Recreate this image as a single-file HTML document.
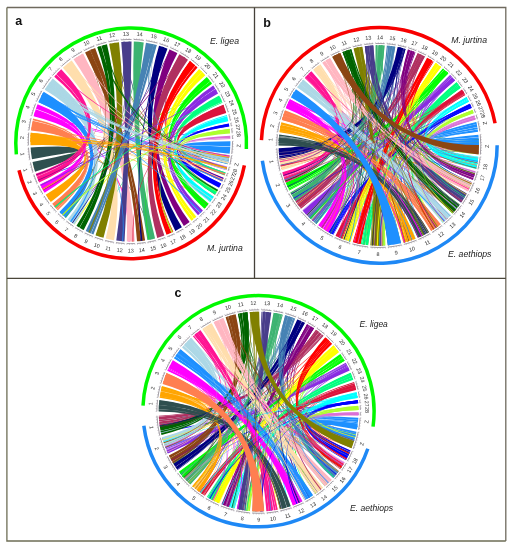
<!DOCTYPE html>
<html><head><meta charset="utf-8"><style>
html,body{margin:0;padding:0;background:#fff;}
body{width:511px;height:550px;overflow:hidden;position:relative;}
svg{position:absolute;left:0;top:0;}
.lab text{font-family:"Liberation Sans",Arial,sans-serif;font-size:5.4px;fill:#2a2a2a;text-anchor:middle;}
</style></head><body>
<svg width="511" height="550" viewBox="0 0 511 550">
<rect x="0" y="0" width="511" height="550" fill="#fff"/>
<g class="lab"><g><path d="M112.67 43.13A100 100 0 0 1 113.87 42.93Q130.4 141.55 226.71 168.48A100 100 0 0 1 226.37 169.65Q130.4 141.55 112.67 43.13Z" fill="#808000" fill-opacity="0.92"/><path d="M190.07 61.31A100 100 0 0 1 190.78 61.83Q130.4 141.55 215.5 194.07A100 100 0 0 1 215.03 194.81Q130.4 141.55 190.07 61.31Z" fill="#FF0000" fill-opacity="0.92"/><path d="M42.09 94.63A100 100 0 0 1 42.56 93.75Q130.4 141.55 221.17 183.52A100 100 0 0 1 220.74 184.42Q130.4 141.55 42.09 94.63Z" fill="#1E90FF" fill-opacity="0.92"/><path d="M30.4 141.88A100 100 0 0 1 30.4 140.56Q130.4 141.55 223.26 178.66A100 100 0 0 1 222.76 179.89Q130.4 141.55 30.4 141.88Z" fill="#FFA500" fill-opacity="0.92"/><path d="M34.43 113.46A100 100 0 0 1 34.88 111.96Q130.4 141.55 229.22 156.88A100 100 0 0 1 228.97 158.42Q130.4 141.55 34.43 113.46Z" fill="#FF00FF" fill-opacity="0.92"/><path d="M203.75 73.58A100 100 0 0 1 204.33 74.22Q130.4 141.55 229.41 155.61A100 100 0 0 1 229.28 156.47Q130.4 141.55 203.75 73.58Z" fill="#FFFF00" fill-opacity="0.92"/><path d="M75.77 57.79A100 100 0 0 1 76.83 57.11Q130.4 141.55 208.03 204.58A100 100 0 0 1 207.24 205.55Q130.4 141.55 75.77 57.79Z" fill="#FFB6C1" fill-opacity="0.92"/><path d="M215.65 89.27A100 100 0 0 1 216.45 90.61Q130.4 141.55 221 183.88A100 100 0 0 1 220.33 185.29Q130.4 141.55 215.65 89.27Z" fill="#8A2BE2" fill-opacity="0.92"/><path d="M123.85 41.77A100 100 0 0 1 125.17 41.69Q130.4 141.55 225.25 173.22A100 100 0 0 1 224.82 174.48Q130.4 141.55 123.85 41.77Z" fill="#483D8B" fill-opacity="0.92"/><path d="M33.8 115.71A100 100 0 0 1 34.09 114.65Q130.4 141.55 228.8 159.39A100 100 0 0 1 228.59 160.47Q130.4 141.55 33.8 115.71Z" fill="#FF00FF" fill-opacity="0.92"/><path d="M30.42 139.39A100 100 0 0 1 30.47 137.68Q130.4 141.55 133.58 241.5A100 100 0 0 1 131.87 241.54Q130.4 141.55 30.42 139.39Z" fill="#FFA500" fill-opacity="0.92"/><path d="M33.99 115A100 100 0 0 1 34.43 113.44Q130.4 141.55 129.93 241.55A100 100 0 0 1 128.32 241.53Q130.4 141.55 33.99 115Z" fill="#FF00FF" fill-opacity="0.92"/><path d="M77.83 56.48A100 100 0 0 1 78.95 55.8Q130.4 141.55 211.08 200.63A100 100 0 0 1 210.3 201.68Q130.4 141.55 77.83 56.48Z" fill="#FFB6C1" fill-opacity="0.92"/><path d="M30.42 139.69A100 100 0 0 1 30.45 138.49Q130.4 141.55 228.32 161.85A100 100 0 0 1 228.07 163.01Q130.4 141.55 30.42 139.69Z" fill="#FFA500" fill-opacity="0.92"/><path d="M30.53 136.43A100 100 0 0 1 30.61 135Q130.4 141.55 33.99 168.09A100 100 0 0 1 33.62 166.71Q130.4 141.55 30.53 136.43Z" fill="#FFA500" fill-opacity="0.92"/><path d="M30.45 138.4A100 100 0 0 1 30.48 137.48Q130.4 141.55 208.05 204.57A100 100 0 0 1 207.46 205.28Q130.4 141.55 30.45 138.4Z" fill="#FFA500" fill-opacity="0.92"/><path d="M42.41 94.03A100 100 0 0 1 42.89 93.15Q130.4 141.55 228.06 163.05A100 100 0 0 1 227.84 164.02Q130.4 141.55 42.41 94.03Z" fill="#1E90FF" fill-opacity="0.92"/><path d="M123.04 41.82A100 100 0 0 1 124.4 41.73Q130.4 141.55 48.87 199.46A100 100 0 0 1 48.09 198.34Q130.4 141.55 123.04 41.82Z" fill="#483D8B" fill-opacity="0.92"/><path d="M174.42 51.76A100 100 0 0 1 175.28 52.19Q130.4 141.55 207.68 205.01A100 100 0 0 1 207.07 205.75Q130.4 141.55 174.42 51.76Z" fill="#800080" fill-opacity="0.92"/><path d="M190.01 61.26A100 100 0 0 1 190.97 61.98Q130.4 141.55 217.95 189.86A100 100 0 0 1 217.36 190.92Q130.4 141.55 190.01 61.26Z" fill="#FF0000" fill-opacity="0.92"/><path d="M85.91 51.99A100 100 0 0 1 86.56 51.67Q130.4 141.55 38.48 180.93A100 100 0 0 1 38.2 180.27Q130.4 141.55 85.91 51.99Z" fill="#8B4513" fill-opacity="0.92"/><path d="M113.35 43.01A100 100 0 0 1 113.9 42.92Q130.4 141.55 220.7 184.51A100 100 0 0 1 220.46 185.02Q130.4 141.55 113.35 43.01Z" fill="#808000" fill-opacity="0.92"/><path d="M211.08 82.47A100 100 0 0 1 211.62 83.21Q130.4 141.55 42.27 188.81A100 100 0 0 1 41.85 188.01Q130.4 141.55 211.08 82.47Z" fill="#00FF00" fill-opacity="0.92"/><path d="M184.36 57.36A100 100 0 0 1 185.36 58.01Q130.4 141.55 220.28 185.39A100 100 0 0 1 219.74 186.47Q130.4 141.55 184.36 57.36Z" fill="#B03060" fill-opacity="0.92"/><path d="M103.17 45.33A100 100 0 0 1 104.46 44.97Q130.4 141.55 60.95 213.5A100 100 0 0 1 59.99 212.56Q130.4 141.55 103.17 45.33Z" fill="#006400" fill-opacity="0.92"/><path d="M180.14 54.8A100 100 0 0 1 180.95 55.27Q130.4 141.55 70.09 221.31A100 100 0 0 1 69.34 220.75Q130.4 141.55 180.14 54.8Z" fill="#B03060" fill-opacity="0.92"/><path d="M90.05 50.05A100 100 0 0 1 91.19 49.56Q130.4 141.55 83.15 229.68A100 100 0 0 1 82.06 229.09Q130.4 141.55 90.05 50.05Z" fill="#8B4513" fill-opacity="0.92"/><path d="M201.32 71.05A100 100 0 0 1 202.18 71.92Q130.4 141.55 74.49 224.46A100 100 0 0 1 73.48 223.77Q130.4 141.55 201.32 71.05Z" fill="#FFFF00" fill-opacity="0.92"/><path d="M193.51 63.98A100 100 0 0 1 194.56 64.84Q130.4 141.55 205.93 207.09A100 100 0 0 1 205.03 208.11Q130.4 141.55 193.51 63.98Z" fill="#FF0000" fill-opacity="0.92"/><path d="M221.21 99.68A100 100 0 0 1 221.62 100.57Q130.4 141.55 96.69 235.7A100 100 0 0 1 95.77 235.36Q130.4 141.55 221.21 99.68Z" fill="#00FF7F" fill-opacity="0.9"/><path d="M210.54 81.73A100 100 0 0 1 210.84 82.14Q130.4 141.55 33.1 164.65A100 100 0 0 1 32.99 164.16Q130.4 141.55 210.54 81.73Z" fill="#00FF00" fill-opacity="0.9"/><path d="M208.25 78.79A100 100 0 0 1 208.57 79.18Q130.4 141.55 152.6 239.05A100 100 0 0 1 152.11 239.17Q130.4 141.55 208.25 78.79Z" fill="#00FF00" fill-opacity="0.9"/><path d="M155.61 44.78A100 100 0 0 1 156.08 44.9Q130.4 141.55 222.35 180.87A100 100 0 0 1 222.15 181.32Q130.4 141.55 155.61 44.78Z" fill="#4682B4" fill-opacity="0.9"/><path d="M169.69 49.59A100 100 0 0 1 170.37 49.89Q130.4 141.55 41.77 187.86A100 100 0 0 1 41.43 187.2Q130.4 141.55 169.69 49.59Z" fill="#800080" fill-opacity="0.9"/><path d="M109.9 43.67A100 100 0 0 1 110.74 43.5Q130.4 141.55 213.3 197.48A100 100 0 0 1 212.81 198.19Q130.4 141.55 109.9 43.67Z" fill="#808000" fill-opacity="0.9"/><path d="M30.74 133.3A100 100 0 0 1 30.78 132.82Q130.4 141.55 213.78 196.76A100 100 0 0 1 213.51 197.16Q130.4 141.55 30.74 133.3Z" fill="#FFA500" fill-opacity="0.9"/><path d="M32.24 122.44A100 100 0 0 1 32.35 121.89Q130.4 141.55 226.56 169A100 100 0 0 1 226.4 169.54Q130.4 141.55 32.24 122.44Z" fill="#FF7F50" fill-opacity="0.9"/><path d="M229.11 125.53A100 100 0 0 1 229.22 126.21Q130.4 141.55 38.16 180.18A100 100 0 0 1 37.9 179.55Q130.4 141.55 229.11 125.53Z" fill="#0000FF" fill-opacity="0.9"/><path d="M165.85 48.04A100 100 0 0 1 166.29 48.21Q130.4 141.55 211.16 200.53A100 100 0 0 1 210.87 200.91Q130.4 141.55 165.85 48.04Z" fill="#000080" fill-opacity="0.9"/><path d="M30.91 151.63A100 100 0 0 1 30.84 150.91Q130.4 141.55 151.14 239.38A100 100 0 0 1 150.44 239.52Q130.4 141.55 30.91 151.63Z" fill="#2F4F4F" fill-opacity="0.9"/><path d="M30.61 135.13A100 100 0 0 1 30.65 134.54Q130.4 141.55 216.54 192.34A100 100 0 0 1 216.24 192.85Q130.4 141.55 30.61 135.13Z" fill="#FFA500" fill-opacity="0.9"/><path d="M128.69 41.56A100 100 0 0 1 129.72 41.55Q130.4 141.55 78.98 227.31A100 100 0 0 1 78.1 226.78Q130.4 141.55 128.69 41.56Z" fill="#483D8B" fill-opacity="0.9"/><path d="M31.98 159.26A100 100 0 0 1 30.58 147.48Q130.4 141.55 35.03 171.63A100 100 0 0 1 32.51 162Q130.4 141.55 31.98 159.26Z" fill="#2F4F4F"/><path d="M30.47 145.21A100 100 0 0 1 30.79 132.75Q130.4 141.55 50.8 202.08A100 100 0 0 1 45.72 194.74Q130.4 141.55 30.47 145.21Z" fill="#FFA500"/><path d="M31.01 130.49A100 100 0 0 1 32.61 120.63Q130.4 141.55 56.77 209.21A100 100 0 0 1 52.19 203.87Q130.4 141.55 31.01 130.49Z" fill="#FF7F50"/><path d="M32.69 120.27A100 100 0 0 1 33.1 118.46Q130.4 141.55 57.84 210.36A100 100 0 0 1 56.94 209.4Q130.4 141.55 32.69 120.27Z" fill="#FF7F50"/><path d="M33.65 116.26A100 100 0 0 1 35.77 109.21Q130.4 141.55 42.62 189.45A100 100 0 0 1 40.14 184.59Q130.4 141.55 33.65 116.26Z" fill="#FF00FF"/><path d="M35.89 108.86A100 100 0 0 1 37.58 104.33Q130.4 141.55 44.54 192.81A100 100 0 0 1 42.75 189.7Q130.4 141.55 35.89 108.86Z" fill="#FF00FF"/><path d="M38.45 102.24A100 100 0 0 1 43.67 91.78Q130.4 141.55 65.98 218.03A100 100 0 0 1 59.42 211.99Q130.4 141.55 38.45 102.24Z" fill="#1E90FF"/><path d="M44.82 89.82A100 100 0 0 1 52.8 78.48Q130.4 141.55 74.59 224.53A100 100 0 0 1 67.73 219.47Q130.4 141.55 44.82 89.82Z" fill="#ADD8E6"/><path d="M54.25 76.74A100 100 0 0 1 56.22 74.49Q130.4 141.55 36.66 176.38A100 100 0 0 1 35.74 173.79Q130.4 141.55 54.25 76.74Z" fill="#FF1493"/><path d="M56.42 74.27A100 100 0 0 1 61.25 69.31Q130.4 141.55 39.18 182.53A100 100 0 0 1 36.76 176.64Q130.4 141.55 56.42 74.27Z" fill="#FF1493"/><path d="M62.91 67.76A100 100 0 0 1 71.69 60.6Q130.4 141.55 114.04 240.2A100 100 0 0 1 105.7 238.45Q130.4 141.55 62.91 67.76Z" fill="#FFDEAD"/><path d="M73.54 59.29A100 100 0 0 1 83.07 53.46Q130.4 141.55 134.76 241.45A100 100 0 0 1 126.8 241.49Q130.4 141.55 73.54 59.29Z" fill="#FFB6C1"/><path d="M85.08 52.41A100 100 0 0 1 90.22 49.98Q130.4 141.55 141.22 240.96A100 100 0 0 1 137.03 241.33Q130.4 141.55 85.08 52.41Z" fill="#8B4513"/><path d="M90.53 49.84A100 100 0 0 1 95.13 47.97Q130.4 141.55 145.11 240.46A100 100 0 0 1 141.46 240.94Q130.4 141.55 90.53 49.84Z" fill="#8B4513"/><path d="M97.27 47.2A100 100 0 0 1 101.14 45.93Q130.4 141.55 79.36 227.54A100 100 0 0 1 76.49 225.77Q130.4 141.55 97.27 47.2Z" fill="#006400"/><path d="M101.43 45.84A100 100 0 0 1 106.97 44.33Q130.4 141.55 83.71 229.98A100 100 0 0 1 79.57 227.67Q130.4 141.55 101.43 45.84Z" fill="#006400"/><path d="M109.18 43.83A100 100 0 0 1 118.99 42.2Q130.4 141.55 103.51 237.87A100 100 0 0 1 95.56 235.28Q130.4 141.55 109.18 43.83Z" fill="#808000"/><path d="M121.25 41.97A100 100 0 0 1 131.53 41.56Q130.4 141.55 124.53 241.38A100 100 0 0 1 116.29 240.55Q130.4 141.55 121.25 41.97Z" fill="#483D8B"/><path d="M133.8 41.61A100 100 0 0 1 143.71 42.44Q130.4 141.55 155.06 238.46A100 100 0 0 1 147.35 240.1Q130.4 141.55 133.8 41.61Z" fill="#3CB371"/><path d="M145.96 42.77A100 100 0 0 1 153.39 44.23Q130.4 141.55 90.93 233.43A100 100 0 0 1 85.73 231.02Q130.4 141.55 145.96 42.77Z" fill="#4682B4"/><path d="M153.71 44.31A100 100 0 0 1 156.87 45.12Q130.4 141.55 93.44 234.47A100 100 0 0 1 91.16 233.53Q130.4 141.55 153.71 44.31Z" fill="#4682B4"/><path d="M159.05 45.74A100 100 0 0 1 167.46 48.67Q130.4 141.55 181.91 227.26A100 100 0 0 1 175.35 230.88Q130.4 141.55 159.05 45.74Z" fill="#000080"/><path d="M169.55 49.53A100 100 0 0 1 177.35 53.26Q130.4 141.55 189.63 222.12A100 100 0 0 1 183.84 226.07Q130.4 141.55 169.55 49.53Z" fill="#800080"/><path d="M179.34 54.34A100 100 0 0 1 187.97 59.79Q130.4 141.55 164.38 235.6A100 100 0 0 1 157.25 237.88Q130.4 141.55 179.34 54.34Z" fill="#B03060"/><path d="M189.81 61.11A100 100 0 0 1 195.33 65.5Q130.4 141.55 171.36 232.78A100 100 0 0 1 166.51 234.8Q130.4 141.55 189.81 61.11Z" fill="#FF0000"/><path d="M195.56 65.69A100 100 0 0 1 197.51 67.41Q130.4 141.55 173.31 231.87A100 100 0 0 1 171.56 232.69Q130.4 141.55 195.56 65.69Z" fill="#FF0000"/><path d="M199.17 68.95A100 100 0 0 1 202.11 71.85Q130.4 141.55 193.76 218.92A100 100 0 0 1 191.44 220.76Q130.4 141.55 199.17 68.95Z" fill="#FFFF00"/><path d="M202.29 72.04A100 100 0 0 1 205.35 75.35Q130.4 141.55 196.37 216.71A100 100 0 0 1 193.9 218.8Q130.4 141.55 202.29 72.04Z" fill="#FFFF00"/><path d="M206.84 77.07A100 100 0 0 1 210.26 81.37Q130.4 141.55 207.31 205.47A100 100 0 0 1 204.43 208.78Q130.4 141.55 206.84 77.07Z" fill="#00FF00"/><path d="M210.41 81.57A100 100 0 0 1 211.96 83.69Q130.4 141.55 208.76 203.68A100 100 0 0 1 207.44 205.31Q130.4 141.55 210.41 81.57Z" fill="#00FF00"/><path d="M213.25 85.56A100 100 0 0 1 215.27 88.67Q130.4 141.55 200.03 213.33A100 100 0 0 1 198.05 215.19Q130.4 141.55 213.25 85.56Z" fill="#8A2BE2"/><path d="M215.42 88.91A100 100 0 0 1 218.07 93.45Q130.4 141.55 202.88 210.44A100 100 0 0 1 200.17 213.18Q130.4 141.55 215.42 88.91Z" fill="#8A2BE2"/><path d="M219.14 95.45A100 100 0 0 1 222.1 101.66Q130.4 141.55 217.56 190.57A100 100 0 0 1 215.02 194.84Q130.4 141.55 219.14 95.45Z" fill="#00FF7F"/><path d="M222.19 101.88A100 100 0 0 1 222.55 102.72Q130.4 141.55 217.97 189.84A100 100 0 0 1 217.65 190.41Q130.4 141.55 222.19 101.88Z" fill="#00FF7F"/><path d="M223.41 104.82A100 100 0 0 1 226.21 112.9Q130.4 141.55 223.66 177.65A100 100 0 0 1 222.12 181.4Q130.4 141.55 223.41 104.82Z" fill="#DC143C"/><path d="M226.83 115.08A100 100 0 0 1 227.1 116.07Q130.4 141.55 210.76 201.06A100 100 0 0 1 210.15 201.89Q130.4 141.55 226.83 115.08Z" fill="#00FFFF"/><path d="M227.15 116.25A100 100 0 0 1 228.3 121.19Q130.4 141.55 213.78 196.75A100 100 0 0 1 210.87 200.91Q130.4 141.55 227.15 116.25Z" fill="#00FFFF"/><path d="M228.74 123.41A100 100 0 0 1 229.28 126.6Q130.4 141.55 221.19 183.47A100 100 0 0 1 219.04 187.84Q130.4 141.55 228.74 123.41Z" fill="#0000FF"/><path d="M229.59 128.84A100 100 0 0 1 229.73 130.03Q130.4 141.55 224.74 174.72A100 100 0 0 1 224.45 175.52Q130.4 141.55 229.59 128.84Z" fill="#ADFF2F"/><path d="M229.75 130.17A100 100 0 0 1 230.07 133.44Q130.4 141.55 225.51 172.43A100 100 0 0 1 224.77 174.63Q130.4 141.55 229.75 130.17Z" fill="#ADFF2F"/><path d="M230.23 135.71A100 100 0 0 1 230.34 138.05Q130.4 141.55 226.96 167.55A100 100 0 0 1 226.19 170.26Q130.4 141.55 230.23 135.71Z" fill="#DA70D6"/><path d="M230.34 138.15A100 100 0 0 1 230.37 139.02Q130.4 141.55 227.26 166.43A100 100 0 0 1 226.99 167.44Q130.4 141.55 230.34 138.15Z" fill="#DA70D6"/><path d="M230.4 141.29A100 100 0 0 1 230.27 146.55Q130.4 141.55 228.59 160.47A100 100 0 0 1 227.8 164.22Q130.4 141.55 230.4 141.29Z" fill="#1E90FF"/><path d="M230.26 146.93A100 100 0 0 1 229.65 153.74Q130.4 141.55 229.45 155.29A100 100 0 0 1 228.64 160.21Q130.4 141.55 230.26 146.93Z" fill="#1E90FF"/><path d="M184.16 57.23A100 100 0 0 1 184.94 57.73Q130.4 141.55 43.25 190.6A100 100 0 0 1 42.8 189.78Q130.4 141.55 184.16 57.23Z" fill="#B03060" fill-opacity="0.92"/><path d="M38.88 101.24A100 100 0 0 1 39.4 100.09Q130.4 141.55 227.02 167.33A100 100 0 0 1 226.69 168.55Q130.4 141.55 38.88 101.24Z" fill="#1E90FF" fill-opacity="0.92"/><path d="M229.81 130.7A100 100 0 0 1 229.89 131.45Q130.4 141.55 217.07 191.43A100 100 0 0 1 216.69 192.08Q130.4 141.55 229.81 130.7Z" fill="#ADFF2F" fill-opacity="0.92"/><path d="M38.53 102.05A100 100 0 0 1 39.19 100.56Q130.4 141.55 71.36 222.26A100 100 0 0 1 70.05 221.29Q130.4 141.55 38.53 102.05Z" fill="#1E90FF" fill-opacity="0.92"/><path d="M30.4 141.06A100 100 0 0 1 30.42 139.58Q130.4 141.55 226.99 167.43A100 100 0 0 1 226.6 168.85Q130.4 141.55 30.4 141.06Z" fill="#FFA500" fill-opacity="0.92"/><path d="M46.71 86.82A100 100 0 0 1 47.66 85.39Q130.4 141.55 228.56 160.65A100 100 0 0 1 228.22 162.33Q130.4 141.55 46.71 86.82Z" fill="#ADD8E6" fill-opacity="0.92"/><path d="M228.8 123.71A100 100 0 0 1 228.97 124.72Q130.4 141.55 223.51 178.04A100 100 0 0 1 223.13 178.98Q130.4 141.55 228.8 123.71Z" fill="#0000FF" fill-opacity="0.92"/><path d="M152.36 43.99A100 100 0 0 1 153.91 44.35Q130.4 141.55 225.04 173.85A100 100 0 0 1 224.51 175.36Q130.4 141.55 152.36 43.99Z" fill="#4682B4" fill-opacity="0.92"/><path d="M103.26 45.3A100 100 0 0 1 104.55 44.95Q130.4 141.55 217.83 190.08A100 100 0 0 1 217.18 191.24Q130.4 141.55 103.26 45.3Z" fill="#006400" fill-opacity="0.92"/><path d="M41.39 95.97A100 100 0 0 1 41.74 95.29Q130.4 141.55 226.7 168.5A100 100 0 0 1 226.49 169.24Q130.4 141.55 41.39 95.97Z" fill="#1E90FF" fill-opacity="0.92"/><path d="M183.25 56.66A100 100 0 0 1 184.03 57.15Q130.4 141.55 226.94 167.64A100 100 0 0 1 226.69 168.53Q130.4 141.55 183.25 56.66Z" fill="#B03060" fill-opacity="0.92"/><path d="M98.35 46.82A100 100 0 0 1 99.67 46.39Q130.4 141.55 228.85 159.1A100 100 0 0 1 228.6 160.46Q130.4 141.55 98.35 46.82Z" fill="#006400" fill-opacity="0.92"/><path d="M41.29 96.17A100 100 0 0 1 41.92 94.94Q130.4 141.55 222.76 179.89A100 100 0 0 1 222.22 181.17Q130.4 141.55 41.29 96.17Z" fill="#1E90FF" fill-opacity="0.92"/><path d="M114.18 42.87A100 100 0 0 1 115.48 42.67Q130.4 141.55 89.64 232.86A100 100 0 0 1 88.44 232.32Q130.4 141.55 114.18 42.87Z" fill="#808000" fill-opacity="0.92"/><path d="M42.25 94.33A100 100 0 0 1 42.8 93.32Q130.4 141.55 201.41 211.96A100 100 0 0 1 200.59 212.78Q130.4 141.55 42.25 94.33Z" fill="#1E90FF" fill-opacity="0.92"/><path d="M45.03 89.48A100 100 0 0 1 45.78 88.27Q130.4 141.55 228.79 159.4A100 100 0 0 1 228.53 160.8Q130.4 141.55 45.03 89.48Z" fill="#ADD8E6" fill-opacity="0.92"/><path d="M81.03 54.58A100 100 0 0 1 82.1 53.99Q130.4 141.55 229.3 156.37A100 100 0 0 1 229.11 157.58Q130.4 141.55 81.03 54.58Z" fill="#FFB6C1" fill-opacity="0.92"/><path d="M223.51 105.07A100 100 0 0 1 223.83 105.9Q130.4 141.55 133.37 241.51A100 100 0 0 1 132.48 241.53Q130.4 141.55 223.51 105.07Z" fill="#DC143C" fill-opacity="0.92"/><path d="M48.71 83.87A100 100 0 0 1 49.08 83.36Q130.4 141.55 210.71 201.14A100 100 0 0 1 210.33 201.65Q130.4 141.55 48.71 83.87Z" fill="#ADD8E6" fill-opacity="0.92"/><path d="M162.42 46.81A100 100 0 0 1 163.98 47.36Q130.4 141.55 142.35 240.83A100 100 0 0 1 140.71 241.02Q130.4 141.55 162.42 46.81Z" fill="#000080" fill-opacity="0.92"/><path d="M97.64 47.07A100 100 0 0 1 99.05 46.59Q130.4 141.55 228.2 162.4A100 100 0 0 1 227.88 163.85Q130.4 141.55 97.64 47.07Z" fill="#006400" fill-opacity="0.92"/><path d="M39.61 99.64A100 100 0 0 1 40.01 98.77Q130.4 141.55 225.5 172.46A100 100 0 0 1 225.2 173.36Q130.4 141.55 39.61 99.64Z" fill="#1E90FF" fill-opacity="0.92"/><path d="M49.26 83.1A100 100 0 0 1 49.98 82.11Q130.4 141.55 228.14 162.69A100 100 0 0 1 227.87 163.89Q130.4 141.55 49.26 83.1Z" fill="#ADD8E6" fill-opacity="0.92"/><path d="M30.4 141.75A100 100 0 0 1 30.41 140.28Q130.4 141.55 229.4 155.67A100 100 0 0 1 229.18 157.13Q130.4 141.55 30.4 141.75Z" fill="#FFA500" fill-opacity="0.92"/><path d="M30.68 134.08A100 100 0 0 1 30.76 133.1Q130.4 141.55 42.71 189.61A100 100 0 0 1 42.24 188.75Q130.4 141.55 30.68 134.08Z" fill="#FFA500" fill-opacity="0.92"/><path d="M30.49 137.31A100 100 0 0 1 30.57 135.64Q130.4 141.55 229.29 156.4A100 100 0 0 1 229.03 158.05Q130.4 141.55 30.49 137.31Z" fill="#FFA500" fill-opacity="0.92"/><path d="M40.84 97.06A100 100 0 0 1 41.28 96.19Q130.4 141.55 123.16 241.29A100 100 0 0 1 122.19 241.21Q130.4 141.55 40.84 97.06Z" fill="#1E90FF" fill-opacity="0.92"/><path d="M48.51 84.16A100 100 0 0 1 49.12 83.3Q130.4 141.55 212.5 198.64A100 100 0 0 1 211.9 199.5Q130.4 141.55 48.51 84.16Z" fill="#ADD8E6" fill-opacity="0.92"/><path d="M46.89 86.55A100 100 0 0 1 47.4 85.77Q130.4 141.55 228.16 162.61A100 100 0 0 1 227.96 163.52Q130.4 141.55 46.89 86.55Z" fill="#ADD8E6" fill-opacity="0.92"/><path d="M48.76 83.8A100 100 0 0 1 49.28 83.08Q130.4 141.55 226.52 169.12A100 100 0 0 1 226.28 169.97Q130.4 141.55 48.76 83.8Z" fill="#ADD8E6" fill-opacity="0.92"/><path d="M45.35 88.96A100 100 0 0 1 45.78 88.27Q130.4 141.55 229.45 155.31A100 100 0 0 1 229.33 156.12Q130.4 141.55 45.35 88.96Z" fill="#ADD8E6" fill-opacity="0.92"/><path d="M46.45 87.21A100 100 0 0 1 47.38 85.8Q130.4 141.55 229 158.23A100 100 0 0 1 228.71 159.88Q130.4 141.55 46.45 87.21Z" fill="#ADD8E6" fill-opacity="0.92"/><path d="M46.42 87.26A100 100 0 0 1 46.99 86.39Q130.4 141.55 229.37 155.86A100 100 0 0 1 229.22 156.88Q130.4 141.55 46.42 87.26Z" fill="#ADD8E6" fill-opacity="0.92"/><path d="M220.88 98.97A100 100 0 0 1 221.41 100.11Q130.4 141.55 225.47 172.58A100 100 0 0 1 225.07 173.77Q130.4 141.55 220.88 98.97Z" fill="#00FF7F" fill-opacity="0.92"/><path d="M31.22 128.78A100 100 0 0 1 31.44 127.18Q130.4 141.55 225.25 173.22A100 100 0 0 1 224.73 174.75Q130.4 141.55 31.22 128.78Z" fill="#FF7F50" fill-opacity="0.92"/><path d="M69.52 62.21A100 100 0 0 1 70.54 61.44Q130.4 141.55 228.3 161.94A100 100 0 0 1 228.03 163.18Q130.4 141.55 69.52 62.21Z" fill="#FFDEAD" fill-opacity="0.92"/><path d="M30.55 136.02A100 100 0 0 1 30.66 134.35Q130.4 141.55 226.99 167.46A100 100 0 0 1 226.54 169.07Q130.4 141.55 30.55 136.02Z" fill="#FFA500" fill-opacity="0.92"/><path d="M57.73 72.86A100 100 0 0 1 58.62 71.93Q130.4 141.55 229.43 155.42A100 100 0 0 1 229.25 156.69Q130.4 141.55 57.73 72.86Z" fill="#FF1493" fill-opacity="0.92"/><path d="M229.61 128.99A100 100 0 0 1 229.78 130.42Q130.4 141.55 172.83 232.1A100 100 0 0 1 171.52 232.71Q130.4 141.55 229.61 128.99Z" fill="#ADFF2F" fill-opacity="0.92"/><path d="M191.43 62.34A100 100 0 0 1 191.91 62.7Q130.4 141.55 168.67 233.94A100 100 0 0 1 168.12 234.16Q130.4 141.55 191.43 62.34Z" fill="#FF0000" fill-opacity="0.92"/><path d="M216.18 90.16A100 100 0 0 1 216.78 91.17Q130.4 141.55 40.78 185.92A100 100 0 0 1 40.27 184.86Q130.4 141.55 216.18 90.16Z" fill="#8A2BE2" fill-opacity="0.92"/><path d="M31.11 129.61A100 100 0 0 1 31.23 128.7Q130.4 141.55 55.98 208.35A100 100 0 0 1 55.37 207.66Q130.4 141.55 31.11 129.61Z" fill="#FF7F50" fill-opacity="0.92"/><path d="M175.78 52.44A100 100 0 0 1 176.54 52.83Q130.4 141.55 36.24 175.21A100 100 0 0 1 35.95 174.4Q130.4 141.55 175.78 52.44Z" fill="#800080" fill-opacity="0.92"/><path d="M163.13 47.06A100 100 0 0 1 163.87 47.32Q130.4 141.55 72.68 223.21A100 100 0 0 1 72.04 222.76Q130.4 141.55 163.13 47.06Z" fill="#000080" fill-opacity="0.92"/><path d="M139.64 41.98A100 100 0 0 1 140.85 42.1Q130.4 141.55 65.65 217.75A100 100 0 0 1 64.72 216.96Q130.4 141.55 139.64 41.98Z" fill="#3CB371" fill-opacity="0.92"/><path d="M67.39 63.9A100 100 0 0 1 68.08 63.35Q130.4 141.55 223.1 179.05A100 100 0 0 1 222.77 179.86Q130.4 141.55 67.39 63.9Z" fill="#FFDEAD" fill-opacity="0.92"/><path d="M174.72 51.91A100 100 0 0 1 175.46 52.28Q130.4 141.55 38.3 180.51A100 100 0 0 1 37.98 179.74Q130.4 141.55 174.72 51.91Z" fill="#800080" fill-opacity="0.92"/><path d="M91.5 49.43A100 100 0 0 1 92.25 49.11Q130.4 141.55 63.01 215.44A100 100 0 0 1 62.42 214.89Q130.4 141.55 91.5 49.43Z" fill="#8B4513" fill-opacity="0.92"/><path d="M229.62 129.07A100 100 0 0 1 229.78 130.43Q130.4 141.55 63.12 215.54A100 100 0 0 1 62.12 214.61Q130.4 141.55 229.62 129.07Z" fill="#ADFF2F" fill-opacity="0.92"/><path d="M225.6 110.94A100 100 0 0 1 225.85 111.73Q130.4 141.55 54.94 207.16A100 100 0 0 1 54.39 206.53Q130.4 141.55 225.6 110.94Z" fill="#DC143C" fill-opacity="0.92"/><path d="M220.06 97.26A100 100 0 0 1 220.7 98.59Q130.4 141.55 55.42 207.72A100 100 0 0 1 54.45 206.6Q130.4 141.55 220.06 97.26Z" fill="#00FF7F" fill-opacity="0.92"/><path d="M210.63 81.86A100 100 0 0 1 210.97 82.31Q130.4 141.55 149.42 239.72A100 100 0 0 1 148.87 239.83Q130.4 141.55 210.63 81.86Z" fill="#00FF00" fill-opacity="0.9"/><path d="M29.91 159.63A102.1 102.1 0 0 1 28.48 147.61" fill="none" stroke="#7d7680" stroke-width="0.7"/><path d="M28.37 145.29A102.1 102.1 0 0 1 28.7 132.56" fill="none" stroke="#7d7680" stroke-width="0.7"/><path d="M28.93 130.26A102.1 102.1 0 0 1 31.06 117.98" fill="none" stroke="#7d7680" stroke-width="0.7"/><path d="M31.62 115.73A102.1 102.1 0 0 1 35.63 103.55" fill="none" stroke="#7d7680" stroke-width="0.7"/><path d="M36.52 101.41A102.1 102.1 0 0 1 41.85 90.73" fill="none" stroke="#7d7680" stroke-width="0.7"/><path d="M43.02 88.74A102.1 102.1 0 0 1 51.17 77.16" fill="none" stroke="#7d7680" stroke-width="0.7"/><path d="M52.65 75.38A102.1 102.1 0 0 1 59.8 67.8" fill="none" stroke="#7d7680" stroke-width="0.7"/><path d="M61.49 66.21A102.1 102.1 0 0 1 70.46 58.9" fill="none" stroke="#7d7680" stroke-width="0.7"/><path d="M72.35 57.56A102.1 102.1 0 0 1 82.07 51.61" fill="none" stroke="#7d7680" stroke-width="0.7"/><path d="M84.13 50.54A102.1 102.1 0 0 1 94.39 46.01" fill="none" stroke="#7d7680" stroke-width="0.7"/><path d="M96.57 45.22A102.1 102.1 0 0 1 106.48 42.29" fill="none" stroke="#7d7680" stroke-width="0.7"/><path d="M108.74 41.77A102.1 102.1 0 0 1 118.75 40.12" fill="none" stroke="#7d7680" stroke-width="0.7"/><path d="M121.06 39.88A102.1 102.1 0 0 1 131.56 39.46" fill="none" stroke="#7d7680" stroke-width="0.7"/><path d="M133.87 39.51A102.1 102.1 0 0 1 143.99 40.36" fill="none" stroke="#7d7680" stroke-width="0.7"/><path d="M146.28 40.69A102.1 102.1 0 0 1 157.43 43.09" fill="none" stroke="#7d7680" stroke-width="0.7"/><path d="M159.65 43.73A102.1 102.1 0 0 1 168.23 46.72" fill="none" stroke="#7d7680" stroke-width="0.7"/><path d="M170.38 47.6A102.1 102.1 0 0 1 178.33 51.4" fill="none" stroke="#7d7680" stroke-width="0.7"/><path d="M180.37 52.51A102.1 102.1 0 0 1 189.18 58.07" fill="none" stroke="#7d7680" stroke-width="0.7"/><path d="M191.06 59.42A102.1 102.1 0 0 1 198.92 65.85" fill="none" stroke="#7d7680" stroke-width="0.7"/><path d="M200.62 67.43A102.1 102.1 0 0 1 206.93 73.96" fill="none" stroke="#7d7680" stroke-width="0.7"/><path d="M208.44 75.72A102.1 102.1 0 0 1 213.68 82.48" fill="none" stroke="#7d7680" stroke-width="0.7"/><path d="M214.99 84.38A102.1 102.1 0 0 1 219.91 92.44" fill="none" stroke="#7d7680" stroke-width="0.7"/><path d="M221 94.48A102.1 102.1 0 0 1 224.49 101.9" fill="none" stroke="#7d7680" stroke-width="0.7"/><path d="M225.36 104.05A102.1 102.1 0 0 1 228.22 112.3" fill="none" stroke="#7d7680" stroke-width="0.7"/><path d="M228.86 114.52A102.1 102.1 0 0 1 230.36 120.76" fill="none" stroke="#7d7680" stroke-width="0.7"/><path d="M230.81 123.03A102.1 102.1 0 0 1 231.35 126.28" fill="none" stroke="#7d7680" stroke-width="0.7"/><path d="M231.67 128.58A102.1 102.1 0 0 1 232.16 133.27" fill="none" stroke="#7d7680" stroke-width="0.7"/><path d="M232.33 135.58A102.1 102.1 0 0 1 232.47 138.97" fill="none" stroke="#7d7680" stroke-width="0.7"/><path d="M232.5 141.28A102.1 102.1 0 0 1 231.74 153.99" fill="none" stroke="#7d7680" stroke-width="0.7"/><path d="M33.03 172.26A102.1 102.1 0 0 1 30.46 162.43" fill="none" stroke="#7d7680" stroke-width="0.7"/><path d="M37.27 183.39A102.1 102.1 0 0 1 33.75 174.46" fill="none" stroke="#7d7680" stroke-width="0.7"/><path d="M42.73 193.88A102.1 102.1 0 0 1 38.24 185.49" fill="none" stroke="#7d7680" stroke-width="0.7"/><path d="M49.13 203.35A102.1 102.1 0 0 1 43.94 195.86" fill="none" stroke="#7d7680" stroke-width="0.7"/><path d="M56.31 211.8A102.1 102.1 0 0 1 50.55 205.18" fill="none" stroke="#7d7680" stroke-width="0.7"/><path d="M64.62 219.64A102.1 102.1 0 0 1 57.93 213.47" fill="none" stroke="#7d7680" stroke-width="0.7"/><path d="M73.42 226.27A102.1 102.1 0 0 1 66.41 221.11" fill="none" stroke="#7d7680" stroke-width="0.7"/><path d="M82.73 231.84A102.1 102.1 0 0 1 75.36 227.54" fill="none" stroke="#7d7680" stroke-width="0.7"/><path d="M92.66 236.42A102.1 102.1 0 0 1 84.79 232.9" fill="none" stroke="#7d7680" stroke-width="0.7"/><path d="M102.95 239.89A102.1 102.1 0 0 1 94.83 237.25" fill="none" stroke="#7d7680" stroke-width="0.7"/><path d="M113.7 242.28A102.1 102.1 0 0 1 105.19 240.49" fill="none" stroke="#7d7680" stroke-width="0.7"/><path d="M124.41 243.47A102.1 102.1 0 0 1 115.99 242.63" fill="none" stroke="#7d7680" stroke-width="0.7"/><path d="M134.85 243.55A102.1 102.1 0 0 1 126.72 243.58" fill="none" stroke="#7d7680" stroke-width="0.7"/><path d="M145.41 242.54A102.1 102.1 0 0 1 137.17 243.43" fill="none" stroke="#7d7680" stroke-width="0.7"/><path d="M155.58 240.5A102.1 102.1 0 0 1 147.7 242.17" fill="none" stroke="#7d7680" stroke-width="0.7"/><path d="M165.1 237.57A102.1 102.1 0 0 1 157.82 239.9" fill="none" stroke="#7d7680" stroke-width="0.7"/><path d="M174.22 233.77A102.1 102.1 0 0 1 167.27 236.76" fill="none" stroke="#7d7680" stroke-width="0.7"/><path d="M182.99 229.06A102.1 102.1 0 0 1 176.3 232.75" fill="none" stroke="#7d7680" stroke-width="0.7"/><path d="M190.88 223.81A102.1 102.1 0 0 1 184.96 227.85" fill="none" stroke="#7d7680" stroke-width="0.7"/><path d="M197.75 218.28A102.1 102.1 0 0 1 192.73 222.42" fill="none" stroke="#7d7680" stroke-width="0.7"/><path d="M204.4 211.89A102.1 102.1 0 0 1 199.47 216.74" fill="none" stroke="#7d7680" stroke-width="0.7"/><path d="M210.4 204.98A102.1 102.1 0 0 1 205.98 210.19" fill="none" stroke="#7d7680" stroke-width="0.7"/><path d="M215.54 197.91A102.1 102.1 0 0 1 211.82 203.15" fill="none" stroke="#7d7680" stroke-width="0.7"/><path d="M219.81 190.85A102.1 102.1 0 0 1 216.79 195.96" fill="none" stroke="#7d7680" stroke-width="0.7"/><path d="M223.09 184.35A102.1 102.1 0 0 1 220.9 188.81" fill="none" stroke="#7d7680" stroke-width="0.7"/><path d="M225.62 178.4A102.1 102.1 0 0 1 224.04 182.24" fill="none" stroke="#7d7680" stroke-width="0.7"/><path d="M227.51 173.08A102.1 102.1 0 0 1 226.43 176.23" fill="none" stroke="#7d7680" stroke-width="0.7"/><path d="M229.29 166.95A102.1 102.1 0 0 1 228.2 170.87" fill="none" stroke="#7d7680" stroke-width="0.7"/><path d="M231.53 155.58A102.1 102.1 0 0 1 229.84 164.7" fill="none" stroke="#7d7680" stroke-width="0.7"/><path d="M29.91 159.63L28.63 159.86M29.47 156.99L28.19 157.19M29.11 154.35L27.82 154.51M28.8 151.69L27.51 151.82M28.57 149.03L27.28 149.12M28.37 145.29L27.07 145.34M28.31 142.62L27.01 142.63M28.31 139.95L27.01 139.93M28.39 137.27L27.09 137.22M28.54 134.61L27.24 134.52M28.93 130.26L27.63 130.11M29.26 127.61L27.97 127.43M29.66 124.96L28.37 124.75M30.13 122.33L28.85 122.09M30.66 119.71L29.39 119.43M31.62 115.73L30.36 115.4M32.33 113.15L31.08 112.79M33.11 110.59L31.87 110.2M33.95 108.06L32.72 107.63M34.86 105.54L33.64 105.09M36.52 101.41L35.33 100.9M37.6 98.97L36.42 98.42M38.75 96.55L37.58 95.98M39.96 94.17L38.81 93.57M41.23 91.82L40.1 91.18M43.02 88.74L41.91 88.06M44.43 86.47L43.34 85.77M45.91 84.24L44.83 83.51M47.43 82.04L46.38 81.29M49.02 79.89L47.98 79.11M50.66 77.78L49.65 76.97M52.65 75.38L51.66 74.53M54.41 73.36L53.44 72.5M56.22 71.4L55.27 70.51M58.08 69.48L57.16 68.56M61.49 66.21L60.61 65.25M63.48 64.44L62.63 63.45M65.53 62.71L64.7 61.71M67.61 61.04L66.81 60.01M69.74 59.42L68.97 58.38M72.35 57.56L71.61 56.49M74.57 56.07L73.86 54.98M76.83 54.64L76.14 53.53M79.12 53.26L78.47 52.14M81.45 51.95L80.82 50.81M84.13 50.54L83.54 49.38M86.53 49.36L85.97 48.18M88.95 48.24L88.43 47.05M91.41 47.19L90.91 45.99M93.89 46.2L93.43 44.99M96.57 45.22L96.14 43.99M99.1 44.36L98.71 43.13M101.66 43.58L101.29 42.33M104.23 42.86L103.9 41.6M108.74 41.77L108.46 40.5M111.36 41.24L111.11 39.96M113.99 40.78L113.78 39.49M116.63 40.38L116.46 39.09M121.06 39.88L120.94 38.58M123.72 39.67L123.64 38.37M126.39 39.53L126.34 38.23M129.06 39.46L129.05 38.16M133.87 39.51L133.92 38.21M136.54 39.64L136.62 38.34M139.21 39.83L139.32 38.54M141.87 40.1L142.02 38.8M146.28 40.69L146.49 39.41M148.92 41.14L149.15 39.87M151.54 41.66L151.81 40.39M154.15 42.25L154.45 40.99M156.74 42.91L157.07 41.65M159.65 43.73L160.03 42.49M162.2 44.53L162.61 43.29M164.73 45.4L165.17 44.17M167.24 46.33L167.71 45.12M170.38 47.6L170.88 46.41M172.82 48.68L173.36 47.5M175.24 49.82L175.81 48.65M177.62 51.03L178.22 49.87M180.37 52.51L181 51.38M182.68 53.85L183.35 52.73M184.96 55.25L185.65 54.15M187.2 56.71L187.92 55.63M191.06 59.42L191.83 58.38M193.19 61.04L193.99 60.01M195.27 62.71L196.1 61.71M197.32 64.44L198.17 63.45M200.62 67.43L201.51 66.48M202.53 69.29L203.45 68.37M204.4 71.2L205.34 70.31M206.22 73.17L207.18 72.29M208.44 75.72L209.43 74.88M210.14 77.78L211.15 76.97M211.78 79.89L212.82 79.11M213.37 82.04L214.42 81.29M214.99 84.38L216.07 83.65M216.46 86.62L217.56 85.92M217.87 88.89L218.98 88.22M219.22 91.2L220.35 90.55M221 94.48L222.16 93.89M222.21 96.87L223.37 96.3M223.34 99.29L224.53 98.75M224.42 101.74L225.62 101.23M225.36 104.05L226.57 103.57M226.31 106.55L227.53 106.1M227.2 109.07L228.43 108.66M228.01 111.61L229.26 111.23M228.86 114.52L230.11 114.18M229.53 117.11L230.79 116.8M230.14 119.71L231.41 119.43M230.81 123.03L232.08 122.8M231.26 125.67L232.54 125.46M231.67 128.58L232.96 128.41M231.98 131.23L233.27 131.1M232.33 135.58L233.62 135.51M232.45 138.25L233.75 138.21M232.5 141.28L233.8 141.28M232.47 143.96L233.77 143.99M232.37 146.63L233.67 146.69M232.21 149.29L233.5 149.39M231.97 151.96L233.26 152.09M33.03 172.26L31.79 172.65M32.26 169.7L31.01 170.06M31.56 167.13L30.3 167.45M30.92 164.53L29.65 164.82M37.27 183.39L36.08 183.93M36.2 180.94L35.01 181.44M35.21 178.46L33.99 178.93M34.27 175.96L33.05 176.39M42.73 193.88L41.62 194.55M41.39 191.57L40.26 192.21M40.11 189.22L38.96 189.83M38.9 186.84L37.73 187.42M49.13 203.35L48.09 204.13M47.54 201.2L46.48 201.96M46 199.01L44.93 199.74M44.53 196.78L43.43 197.48M56.31 211.8L55.37 212.7M54.5 209.84L53.53 210.71M52.74 207.83L51.75 208.67M51.03 205.77L50.02 206.59M64.62 219.64L63.79 220.63M62.6 217.89L61.74 218.86M60.63 216.09L59.74 217.04M58.7 214.24L57.79 215.16M73.42 226.27L72.69 227.35M71.22 224.75L70.47 225.81M69.06 223.17L68.28 224.21M66.95 221.54L66.14 222.56M82.73 231.84L82.13 232.99M80.39 230.56L79.75 231.7M78.07 229.22L77.41 230.34M75.8 227.82L75.1 228.92M92.66 236.42L92.18 237.63M90.19 235.4L89.68 236.59M87.75 234.32L87.21 235.5M85.34 233.17L84.76 234.33M102.95 239.89L102.6 241.14M100.38 239.14L100 240.38M97.84 238.32L97.42 239.55M95.32 237.43L94.87 238.65M113.7 242.28L113.49 243.56M111.07 241.8L110.82 243.08M108.45 241.26L108.17 242.53M105.85 240.65L105.54 241.92M124.41 243.47L124.33 244.77M121.74 243.28L121.63 244.58M119.08 243.02L118.94 244.31M116.43 242.69L116.25 243.98M134.85 243.55L134.91 244.85M132.18 243.63L132.2 244.93M129.51 243.65L129.5 244.95M126.84 243.59L126.79 244.89M145.41 242.54L145.61 243.83M142.77 242.9L142.92 244.19M140.11 243.19L140.23 244.48M137.44 243.41L137.53 244.7M155.58 240.5L155.9 241.76M152.98 241.12L153.27 242.39M150.36 241.68L150.62 242.95M147.74 242.17L147.96 243.45M165.1 237.57L165.54 238.8M162.57 238.45L162.98 239.68M160.03 239.26L160.4 240.5M174.22 233.77L174.77 234.94M171.79 234.89L172.31 236.07M169.33 235.94L169.82 237.14M182.99 229.06L183.66 230.18M180.68 230.41L181.32 231.54M178.34 231.7L178.95 232.84M190.88 223.81L191.65 224.86M188.7 225.37L189.44 226.43M186.49 226.86L187.2 227.95M197.75 218.28L198.61 219.26M195.72 220.02L196.55 221.02M193.64 221.7L194.45 222.73M204.4 211.89L205.35 212.79M202.54 213.8L203.46 214.72M200.62 215.67L201.52 216.61M210.4 204.98L211.42 205.79M208.72 207.06L209.71 207.89M206.97 209.08L207.95 209.94M215.54 197.91L216.62 198.63M214.03 200.12L215.1 200.86M212.47 202.29L213.51 203.06M219.81 190.85L220.95 191.48M218.49 193.17L219.61 193.83M217.11 195.46L218.21 196.15M223.09 184.35L224.27 184.9M221.94 186.77L223.11 187.34M225.62 178.4L226.83 178.87M224.62 180.88L225.82 181.38M227.51 173.08L228.75 173.48M226.65 175.61L227.88 176.04M229.29 166.95L230.55 167.27M228.59 169.53L229.84 169.88M231.53 155.58L232.82 155.76M231.13 158.23L232.41 158.44M230.66 160.86L231.93 161.1M230.12 163.47L231.39 163.75" stroke="#8a8490" stroke-width="0.4" fill="none"/><text x="22.53" y="155.82" transform="rotate(83.8 22.53 154.02)">1</text><text x="22" y="139.37" transform="rotate(272.5 22 137.57)">2</text><text x="23.86" y="123.58" transform="rotate(280.9 23.86 121.78)">3</text><text x="27.69" y="109.13" transform="rotate(288.8 27.69 107.33)">4</text><text x="33.3" y="95.69" transform="rotate(296.5 33.3 93.89)">5</text><text x="40.98" y="82.64" transform="rotate(304.5 40.98 80.84)">6</text><text x="50.41" y="70.8" transform="rotate(312.5 50.41 69)">7</text><text x="60.8" y="60.86" transform="rotate(320.1 60.8 59.06)">8</text><text x="73.06" y="51.99" transform="rotate(328.1 73.06 50.19)">9</text><text x="86.44" y="44.9" transform="rotate(336.1 86.44 43.1)">10</text><text x="99.22" y="40.18" transform="rotate(343.3 99.22 38.38)">11</text><text x="112.12" y="37.15" transform="rotate(350.3 112.12 35.35)">12</text><text x="126.05" y="35.69" transform="rotate(357.7 126.05 33.89)">13</text><text x="139.67" y="36" transform="rotate(4.9 139.67 34.2)">14</text><text x="153.88" y="38.17" transform="rotate(12.5 153.88 36.37)">15</text><text x="166.26" y="41.7" transform="rotate(19.3 166.26 39.9)">16</text><text x="177.11" y="46.17" transform="rotate(25.5 177.11 44.37)">17</text><text x="188.22" y="52.29" transform="rotate(32.2 188.22 50.49)">18</text><text x="197.94" y="59.19" transform="rotate(38.5 197.94 57.39)">19</text><text x="207.65" y="67.92" transform="rotate(45.4 207.65 66.12)">20</text><text x="215.78" y="77.15" transform="rotate(51.9 215.78 75.35)">21</text><text x="222.21" y="86.28" transform="rotate(57.8 222.21 84.48)">22</text><text x="227.58" y="95.86" transform="rotate(63.6 227.58 94.06)">23</text><text x="231.49" y="104.69" transform="rotate(68.7 231.49 102.89)">24</text><text x="234.54" y="113.65" transform="rotate(73.7 234.54 111.85)">25</text><text x="236.57" y="121.73" transform="rotate(78.1 236.57 119.93)">26</text><text x="237.84" y="129" transform="rotate(82 237.84 127.2)">27</text><text x="238.57" y="135.59" transform="rotate(85.5 238.57 133.79)">28</text><text x="238.84" y="147.7" transform="rotate(-88.1 238.84 145.9)">Z</text><text x="25.47" y="171.68" transform="rotate(75.27 25.47 169.88)">1</text><text x="29.52" y="184.04" transform="rotate(68.4 29.52 182.24)">2</text><text x="34.68" y="195.19" transform="rotate(61.91 34.68 193.39)">3</text><text x="41.4" y="206.16" transform="rotate(55.11 41.4 204.36)">4</text><text x="48.41" y="215.16" transform="rotate(49.09 48.41 213.36)">5</text><text x="56.87" y="223.88" transform="rotate(42.67 56.87 222.08)">6</text><text x="66.26" y="231.61" transform="rotate(36.24 66.26 229.81)">7</text><text x="75.66" y="237.78" transform="rotate(30.3 75.66 235.98)">8</text><text x="86.16" y="243.17" transform="rotate(24.06 86.16 241.37)">9</text><text x="96.84" y="247.28" transform="rotate(18.02 96.84 245.48)">10</text><text x="108.06" y="250.28" transform="rotate(11.88 108.06 248.48)">11</text><text x="119.74" y="252.07" transform="rotate(5.64 119.74 250.27)">12</text><text x="130.81" y="252.6" transform="rotate(-0.22 130.81 250.8)">13</text><text x="141.89" y="251.99" transform="rotate(-6.08 141.89 250.19)">14</text><text x="153.22" y="250.17" transform="rotate(-12.14 153.22 248.37)">15</text><text x="163.43" y="247.45" transform="rotate(-17.72 163.43 245.65)">16</text><text x="173.34" y="243.74" transform="rotate(-23.32 173.34 241.94)">17</text><text x="182.68" y="239.17" transform="rotate(-28.81 182.68 237.37)">18</text><text x="191.88" y="233.5" transform="rotate(-34.51 191.88 231.7)">19</text><text x="199.34" y="227.88" transform="rotate(-39.45 199.34 226.08)">20</text><text x="206.3" y="221.63" transform="rotate(-44.39 206.3 219.83)">21</text><text x="213.3" y="214.1" transform="rotate(-49.82 213.3 212.3)">22</text><text x="218.92" y="206.85" transform="rotate(-54.67 218.92 205.05)">23</text><text x="224.02" y="198.94" transform="rotate(-59.64 224.02 197.14)">24</text><text x="227.87" y="191.76" transform="rotate(-63.95 227.87 189.96)">25</text><text x="230.86" y="185.09" transform="rotate(-67.8 230.86 183.29)">26</text><text x="233.11" y="179.06" transform="rotate(-71.2 233.11 177.26)">27</text><text x="234.75" y="173.82" transform="rotate(-74.1 234.75 172.02)">28</text><text x="236.63" y="166.2" transform="rotate(-78.25 236.63 164.4)">Z</text><path d="M16.33 154.41A115.35 115.35 0 1 1 246.36 148.98" fill="none" stroke="#00F800" stroke-width="3.5"/><path d="M244.38 165.36A115.35 115.35 0 0 1 18.99 170.28" fill="none" stroke="#F80000" stroke-width="3.5"/></g>
<g><path d="M459.15 85.64A100.2 100.2 0 0 1 459.75 86.45Q378.8 145.5 292.39 196.23A100.2 100.2 0 0 1 291.89 195.36Q378.8 145.5 459.15 85.64Z" fill="#00FF7F" fill-opacity="0.9"/><path d="M429.54 59.09A100.2 100.2 0 0 1 430.36 59.58Q378.8 145.5 474.8 174.22A100.2 100.2 0 0 1 474.52 175.14Q378.8 145.5 429.54 59.09Z" fill="#FF0000" fill-opacity="0.9"/><path d="M443.08 68.63A100.2 100.2 0 0 1 443.84 69.28Q378.8 145.5 390.72 244.99A100.2 100.2 0 0 1 389.72 245.1Q378.8 145.5 443.08 68.63Z" fill="#00FF00" fill-opacity="0.9"/><path d="M446.46 71.6A100.2 100.2 0 0 1 446.91 72.01Q378.8 145.5 345.13 239.87A100.2 100.2 0 0 1 344.56 239.67Q378.8 145.5 446.46 71.6Z" fill="#00FF00" fill-opacity="0.9"/><path d="M400.65 47.71A100.2 100.2 0 0 1 401.5 47.9Q378.8 145.5 358.68 243.66A100.2 100.2 0 0 1 357.83 243.48Q378.8 145.5 400.65 47.71Z" fill="#000080" fill-opacity="0.9"/><path d="M283.89 113.37A100.2 100.2 0 0 1 284.09 112.8Q378.8 145.5 478.99 146.65A100.2 100.2 0 0 1 478.98 147.25Q378.8 145.5 283.89 113.37Z" fill="#FF7F50" fill-opacity="0.9"/><path d="M421.47 54.84A100.2 100.2 0 0 1 421.93 55.06Q378.8 145.5 407.91 241.38A100.2 100.2 0 0 1 407.42 241.53Q378.8 145.5 421.47 54.84Z" fill="#B03060" fill-opacity="0.9"/><path d="M360.15 47.05A100.2 100.2 0 0 1 360.9 46.91Q378.8 145.5 328.05 231.9A100.2 100.2 0 0 1 327.39 231.51Q378.8 145.5 360.15 47.05Z" fill="#808000" fill-opacity="0.9"/><path d="M440.09 66.23A100.2 100.2 0 0 1 440.65 66.67Q378.8 145.5 290.72 193.26A100.2 100.2 0 0 1 290.38 192.63Q378.8 145.5 440.09 66.23Z" fill="#FFFF00" fill-opacity="0.9"/><path d="M430.96 59.95A100.2 100.2 0 0 1 431.43 60.24Q378.8 145.5 478.22 157.96A100.2 100.2 0 0 1 478.15 158.5Q378.8 145.5 430.96 59.95Z" fill="#FF0000" fill-opacity="0.9"/><path d="M379.53 45.3A100.2 100.2 0 0 1 380.36 45.31Q378.8 145.5 381.3 245.67A100.2 100.2 0 0 1 380.47 245.69Q378.8 145.5 379.53 45.3Z" fill="#3CB371" fill-opacity="0.9"/><path d="M474.68 116.4A100.2 100.2 0 0 1 474.94 117.26Q378.8 145.5 350.31 241.57A100.2 100.2 0 0 1 349.45 241.3Q378.8 145.5 474.68 116.4Z" fill="#DA70D6" fill-opacity="0.9"/><path d="M383.75 45.42A100.2 100.2 0 0 1 384.44 45.46Q378.8 145.5 279.57 159.44A100.2 100.2 0 0 1 279.48 158.76Q378.8 145.5 383.75 45.42Z" fill="#3CB371" fill-opacity="0.9"/><path d="M402.33 48.1A100.2 100.2 0 0 1 402.85 48.23Q378.8 145.5 279.42 158.32A100.2 100.2 0 0 1 279.36 157.79Q378.8 145.5 402.33 48.1Z" fill="#000080" fill-opacity="0.9"/><path d="M469.92 103.83A100.2 100.2 0 0 1 470.37 104.82Q378.8 145.5 326.56 231A100.2 100.2 0 0 1 325.63 230.43Q378.8 145.5 469.92 103.83Z" fill="#0000FF" fill-opacity="0.9"/><path d="M335.57 55.1A100.2 100.2 0 0 1 336.4 54.71Q378.8 145.5 470.78 185.25A100.2 100.2 0 0 1 470.41 186.09Q378.8 145.5 335.57 55.1Z" fill="#8B4513" fill-opacity="0.9"/><path d="M462.38 90.24A100.2 100.2 0 0 1 462.63 90.61Q378.8 145.5 306.34 214.7A100.2 100.2 0 0 1 306.03 214.38Q378.8 145.5 462.38 90.24Z" fill="#DC143C" fill-opacity="0.9"/><path d="M435.69 63.01A100.2 100.2 0 0 1 436.52 63.59Q378.8 145.5 408.34 241.25A100.2 100.2 0 0 1 407.37 241.54Q378.8 145.5 435.69 63.01Z" fill="#FFFF00" fill-opacity="0.9"/><path d="M472.5 110.01A100.2 100.2 0 0 1 472.69 110.51Q378.8 145.5 478.97 143.24A100.2 100.2 0 0 1 478.99 143.79Q378.8 145.5 472.5 110.01Z" fill="#ADFF2F" fill-opacity="0.9"/><path d="M287.38 104.49A100.2 100.2 0 0 1 287.62 103.95Q378.8 145.5 478.09 158.95A100.2 100.2 0 0 1 478.01 159.53Q378.8 145.5 287.38 104.49Z" fill="#FF00FF" fill-opacity="0.9"/><path d="M459.49 86.09A100.2 100.2 0 0 1 460.14 86.99Q378.8 145.5 470.19 186.59A100.2 100.2 0 0 1 469.73 187.6Q378.8 145.5 459.49 86.09Z" fill="#00FF7F" fill-opacity="0.9"/><path d="M463.3 91.65A100.2 100.2 0 0 1 463.91 92.62Q378.8 145.5 364.67 244.7A100.2 100.2 0 0 1 363.54 244.53Q378.8 145.5 463.3 91.65Z" fill="#DC143C" fill-opacity="0.9"/><path d="M278.81 139A100.2 100.2 0 0 1 278.87 138.1Q378.8 145.5 456.33 208.98A100.2 100.2 0 0 1 455.76 209.67Q378.8 145.5 278.81 139Z" fill="#2F4F4F" fill-opacity="0.9"/><path d="M302.02 81.12A100.2 100.2 0 0 1 302.65 80.37Q378.8 145.5 471.94 182.45A100.2 100.2 0 0 1 471.57 183.37Q378.8 145.5 302.02 81.12Z" fill="#ADD8E6" fill-opacity="0.9"/><path d="M376.04 45.34A100.2 100.2 0 0 1 376.91 45.32Q378.8 145.5 478.83 139.71A100.2 100.2 0 0 1 478.88 140.58Q378.8 145.5 376.04 45.34Z" fill="#3CB371" fill-opacity="0.9"/><path d="M371.6 45.56A100.2 100.2 0 0 1 372.08 45.53Q378.8 145.5 469 189.14A100.2 100.2 0 0 1 468.79 189.56Q378.8 145.5 371.6 45.56Z" fill="#483D8B" fill-opacity="0.9"/><path d="M288.26 102.58A100.2 100.2 0 0 1 288.78 101.48Q378.8 145.5 325.26 230.2A100.2 100.2 0 0 1 324.24 229.54Q378.8 145.5 288.26 102.58Z" fill="#FF00FF" fill-opacity="0.9"/><path d="M297.57 86.84A100.2 100.2 0 0 1 298.2 85.97Q378.8 145.5 454.64 210.99A100.2 100.2 0 0 1 453.93 211.79Q378.8 145.5 297.57 86.84Z" fill="#ADD8E6" fill-opacity="0.9"/><path d="M451.32 76.35A100.2 100.2 0 0 1 452.02 77.1Q378.8 145.5 447.75 218.2A100.2 100.2 0 0 1 447.01 218.9Q378.8 145.5 451.32 76.35Z" fill="#8A2BE2" fill-opacity="0.9"/><path d="M365.43 46.2A100.2 100.2 0 0 1 365.87 46.14Q378.8 145.5 328.61 232.22A100.2 100.2 0 0 1 328.23 232Q378.8 145.5 365.43 46.2Z" fill="#483D8B" fill-opacity="0.9"/><path d="M354.61 48.26A100.2 100.2 0 0 1 355.73 47.99Q378.8 145.5 434.72 228.65A100.2 100.2 0 0 1 433.75 229.29Q378.8 145.5 354.61 48.26Z" fill="#808000" fill-opacity="0.9"/><path d="M454.36 79.69A100.2 100.2 0 0 1 454.8 80.2Q378.8 145.5 474.58 174.94A100.2 100.2 0 0 1 474.38 175.58Q378.8 145.5 454.36 79.69Z" fill="#8A2BE2" fill-opacity="0.9"/><path d="M470.53 105.17A100.2 100.2 0 0 1 470.97 106.2Q378.8 145.5 376.94 245.68A100.2 100.2 0 0 1 375.82 245.66Q378.8 145.5 470.53 105.17Z" fill="#0000FF" fill-opacity="0.9"/><path d="M278.84 138.54A100.2 100.2 0 0 1 278.88 138.04Q378.8 145.5 419.2 237.19A100.2 100.2 0 0 1 418.74 237.4Q378.8 145.5 278.84 138.54Z" fill="#2F4F4F" fill-opacity="0.9"/><path d="M440.07 66.21A100.2 100.2 0 0 1 440.56 66.6Q378.8 145.5 464.11 198.06A100.2 100.2 0 0 1 463.78 198.59Q378.8 145.5 440.07 66.21Z" fill="#FFFF00" fill-opacity="0.9"/><path d="M471.07 106.44A100.2 100.2 0 0 1 471.25 106.87Q378.8 145.5 473.16 179.22A100.2 100.2 0 0 1 473 179.65Q378.8 145.5 471.07 106.44Z" fill="#0000FF" fill-opacity="0.9"/><path d="M376.31 45.33A100.2 100.2 0 0 1 377.34 45.31Q378.8 145.5 384.2 245.55A100.2 100.2 0 0 1 383.18 245.6Q378.8 145.5 376.31 45.33Z" fill="#3CB371" fill-opacity="0.9"/><path d="M306.96 75.65A100.2 100.2 0 0 1 307.66 74.94Q378.8 145.5 330.99 233.56A100.2 100.2 0 0 1 330.12 233.08Q378.8 145.5 306.96 75.65Z" fill="#FF1493" fill-opacity="0.9"/><path d="M437.39 64.21A100.2 100.2 0 0 1 438.25 64.84Q378.8 145.5 438.45 226.01A100.2 100.2 0 0 1 437.59 226.64Q378.8 145.5 437.39 64.21Z" fill="#FFFF00" fill-opacity="0.9"/><path d="M305.37 77.32A100.2 100.2 0 0 1 305.88 76.77Q378.8 145.5 336.64 236.4A100.2 100.2 0 0 1 335.97 236.08Q378.8 145.5 305.37 77.32Z" fill="#FF1493" fill-opacity="0.9"/><path d="M280.15 127.97A100.2 100.2 0 0 1 280.35 126.85Q378.8 145.5 471.22 184.22A100.2 100.2 0 0 1 470.77 185.27Q378.8 145.5 280.15 127.97Z" fill="#FFA500" fill-opacity="0.9"/><path d="M401.95 48.01A100.2 100.2 0 0 1 403.06 48.28Q378.8 145.5 409.3 240.94A100.2 100.2 0 0 1 408.22 241.28Q378.8 145.5 401.95 48.01Z" fill="#000080" fill-opacity="0.9"/><path d="M286.39 106.77A100.2 100.2 0 0 1 286.61 106.25Q378.8 145.5 358.83 243.69A100.2 100.2 0 0 1 358.28 243.58Q378.8 145.5 286.39 106.77Z" fill="#FF00FF" fill-opacity="0.9"/><path d="M476.72 124.27A100.2 100.2 0 0 1 476.84 124.81Q378.8 145.5 469.27 188.58A100.2 100.2 0 0 1 469.03 189.08Q378.8 145.5 476.72 124.27Z" fill="#1E90FF" fill-opacity="0.9"/><path d="M339.12 53.49A100.2 100.2 0 0 1 339.54 53.31Q378.8 145.5 375.89 245.66A100.2 100.2 0 0 1 375.42 245.64Q378.8 145.5 339.12 53.49Z" fill="#8B4513" fill-opacity="0.9"/><path d="M288.3 102.49A100.2 100.2 0 0 1 288.59 101.89Q378.8 145.5 426.27 233.74A100.2 100.2 0 0 1 425.68 234.06Q378.8 145.5 288.3 102.49Z" fill="#FF00FF" fill-opacity="0.9"/><path d="M457.19 83.09A100.2 100.2 0 0 1 457.79 83.86Q378.8 145.5 435.21 228.31A100.2 100.2 0 0 1 434.41 228.86Q378.8 145.5 457.19 83.09Z" fill="#00FF7F" fill-opacity="0.9"/><path d="M444.27 69.64A100.2 100.2 0 0 1 445.03 70.31Q378.8 145.5 456.29 209.02A100.2 100.2 0 0 1 455.65 209.8Q378.8 145.5 444.27 69.64Z" fill="#00FF00" fill-opacity="0.9"/><path d="M282.53 117.7A100.2 100.2 0 0 1 282.67 117.24Q378.8 145.5 468.28 190.6A100.2 100.2 0 0 1 468.06 191.02Q378.8 145.5 282.53 117.7Z" fill="#FF7F50" fill-opacity="0.9"/><path d="M280.06 128.44A100.2 100.2 0 0 1 280.17 127.81Q378.8 145.5 284.19 178.5A100.2 100.2 0 0 1 283.98 177.9Q378.8 145.5 280.06 128.44Z" fill="#FFA500" fill-opacity="0.9"/><path d="M280.24 127.44A100.2 100.2 0 0 1 280.35 126.87Q378.8 145.5 359.25 243.77A100.2 100.2 0 0 1 358.68 243.66Q378.8 145.5 280.24 127.44Z" fill="#FFA500" fill-opacity="0.9"/><path d="M282.11 119.22A100.2 100.2 0 0 1 282.39 118.2Q378.8 145.5 428.98 232.23A100.2 100.2 0 0 1 428.06 232.76Q378.8 145.5 282.11 119.22Z" fill="#FF7F50" fill-opacity="0.9"/><path d="M283.03 116.04A100.2 100.2 0 0 1 283.31 115.16Q378.8 145.5 358.81 243.69A100.2 100.2 0 0 1 357.9 243.5Q378.8 145.5 283.03 116.04Z" fill="#FF7F50" fill-opacity="0.9"/><path d="M466.77 97.52A100.2 100.2 0 0 1 467.17 98.27Q378.8 145.5 443.35 222.14A100.2 100.2 0 0 1 442.7 222.68Q378.8 145.5 466.77 97.52Z" fill="#00FFFF" fill-opacity="0.9"/><path d="M460.02 86.81A100.2 100.2 0 0 1 460.68 87.74Q378.8 145.5 464.62 197.21A100.2 100.2 0 0 1 464.03 198.19Q378.8 145.5 460.02 86.81Z" fill="#00FF7F" fill-opacity="0.9"/><path d="M399.51 47.46A100.2 100.2 0 0 1 400.54 47.69Q378.8 145.5 294.61 199.83A100.2 100.2 0 0 1 294.05 198.95Q378.8 145.5 399.51 47.46Z" fill="#000080" fill-opacity="0.9"/><path d="M452.36 77.46A100.2 100.2 0 0 1 452.8 77.95Q378.8 145.5 374.64 245.61A100.2 100.2 0 0 1 373.99 245.58Q378.8 145.5 452.36 77.46Z" fill="#8A2BE2" fill-opacity="0.9"/><path d="M471.09 106.49A100.2 100.2 0 0 1 471.53 107.53Q378.8 145.5 405.29 242.14A100.2 100.2 0 0 1 404.2 242.43Q378.8 145.5 471.09 106.49Z" fill="#0000FF" fill-opacity="0.9"/><path d="M367.04 45.99A100.2 100.2 0 0 1 367.47 45.94Q378.8 145.5 478.29 157.38A100.2 100.2 0 0 1 478.24 157.82Q378.8 145.5 367.04 45.99Z" fill="#483D8B" fill-opacity="0.9"/><path d="M278.85 138.37A100.2 100.2 0 0 1 278.89 137.82Q378.8 145.5 465.67 195.43A100.2 100.2 0 0 1 465.4 195.9Q378.8 145.5 278.85 138.37Z" fill="#2F4F4F" fill-opacity="0.9"/><path d="M280.8 124.6A100.2 100.2 0 0 1 280.94 123.96Q378.8 145.5 455.62 209.84A100.2 100.2 0 0 1 455.2 210.33Q378.8 145.5 280.8 124.6Z" fill="#FFA500" fill-opacity="0.9"/><path d="M282.58 117.54A100.2 100.2 0 0 1 282.74 117Q378.8 145.5 411.87 240.08A100.2 100.2 0 0 1 411.33 240.27Q378.8 145.5 282.58 117.54Z" fill="#FF7F50" fill-opacity="0.9"/><path d="M283.33 115.07A100.2 100.2 0 0 1 283.65 114.08Q378.8 145.5 476.52 167.66A100.2 100.2 0 0 1 476.28 168.67Q378.8 145.5 283.33 115.07Z" fill="#FF7F50" fill-opacity="0.9"/><path d="M292.09 95.28A100.2 100.2 0 0 1 292.49 94.61Q378.8 145.5 440.41 224.52A100.2 100.2 0 0 1 439.79 225Q378.8 145.5 292.09 95.28Z" fill="#1E90FF" fill-opacity="0.9"/><path d="M409.3 50.06A100.2 100.2 0 0 1 409.81 50.22Q378.8 145.5 455.4 210.09A100.2 100.2 0 0 1 455.05 210.5Q378.8 145.5 409.3 50.06Z" fill="#800080" fill-opacity="0.9"/><path d="M436.02 63.25A100.2 100.2 0 0 1 436.85 63.83Q378.8 145.5 343.83 239.4A100.2 100.2 0 0 1 342.89 239.04Q378.8 145.5 436.02 63.25Z" fill="#FFFF00" fill-opacity="0.9"/><path d="M460 86.79A100.2 100.2 0 0 1 460.46 87.43Q378.8 145.5 330.34 233.2A100.2 100.2 0 0 1 329.65 232.82Q378.8 145.5 460 86.79Z" fill="#00FF7F" fill-opacity="0.9"/><path d="M346.03 50.81A100.2 100.2 0 0 1 347.13 50.44Q378.8 145.5 464.02 198.2A100.2 100.2 0 0 1 463.41 199.18Q378.8 145.5 346.03 50.81Z" fill="#006400" fill-opacity="0.9"/><path d="M468.5 100.84A100.2 100.2 0 0 1 468.88 101.61Q378.8 145.5 344.71 239.72A100.2 100.2 0 0 1 343.91 239.43Q378.8 145.5 468.5 100.84Z" fill="#00FFFF" fill-opacity="0.9"/><path d="M315.35 67.95A100.2 100.2 0 0 1 316.12 67.33Q378.8 145.5 470.12 186.74A100.2 100.2 0 0 1 469.71 187.64Q378.8 145.5 315.35 67.95Z" fill="#FFDEAD" fill-opacity="0.9"/><path d="M473.02 111.41A100.2 100.2 0 0 1 473.25 112.04Q378.8 145.5 364.65 244.7A100.2 100.2 0 0 1 363.99 244.6Q378.8 145.5 473.02 111.41Z" fill="#ADFF2F" fill-opacity="0.9"/><path d="M279.66 130.98A100.2 100.2 0 0 1 279.77 130.24Q378.8 145.5 471.44 183.69A100.2 100.2 0 0 1 471.15 184.38Q378.8 145.5 279.66 130.98Z" fill="#FFA500" fill-opacity="0.9"/><path d="M307.57 75.02A100.2 100.2 0 0 1 308.15 74.45Q378.8 145.5 424.23 234.81A100.2 100.2 0 0 1 423.51 235.17Q378.8 145.5 307.57 75.02Z" fill="#FF1493" fill-opacity="0.9"/><path d="M305.39 77.3A100.2 100.2 0 0 1 306.06 76.58Q378.8 145.5 448 217.97A100.2 100.2 0 0 1 447.28 218.64Q378.8 145.5 305.39 77.3Z" fill="#FF1493" fill-opacity="0.9"/><path d="M473.23 111.99A100.2 100.2 0 0 1 473.38 112.42Q378.8 145.5 447.88 218.08A100.2 100.2 0 0 1 447.55 218.39Q378.8 145.5 473.23 111.99Z" fill="#ADFF2F" fill-opacity="0.9"/><path d="M412.61 51.18A100.2 100.2 0 0 1 413.42 51.47Q378.8 145.5 470.04 186.92A100.2 100.2 0 0 1 469.68 187.71Q378.8 145.5 412.61 51.18Z" fill="#800080" fill-opacity="0.9"/><path d="M430.21 59.49A100.2 100.2 0 0 1 431.03 59.99Q378.8 145.5 478.09 158.97A100.2 100.2 0 0 1 477.96 159.93Q378.8 145.5 430.21 59.49Z" fill="#FF0000" fill-opacity="0.9"/><path d="M430.12 59.44A100.2 100.2 0 0 1 430.95 59.94Q378.8 145.5 279.07 155.2A100.2 100.2 0 0 1 278.98 154.23Q378.8 145.5 430.12 59.44Z" fill="#FF0000" fill-opacity="0.9"/><path d="M284.26 112.31A100.2 100.2 0 0 1 284.57 111.44Q378.8 145.5 440.32 224.59A100.2 100.2 0 0 1 439.6 225.15Q378.8 145.5 284.26 112.31Z" fill="#FF7F50" fill-opacity="0.9"/><path d="M278.63 143.21A100.2 100.2 0 0 1 278.66 142.04Q378.8 145.5 389.34 245.14A100.2 100.2 0 0 1 388.18 245.26Q378.8 145.5 278.63 143.21Z" fill="#2F4F4F" fill-opacity="0.9"/><path d="M338.26 53.87A100.2 100.2 0 0 1 339.15 53.48Q378.8 145.5 438.57 225.92A100.2 100.2 0 0 1 437.78 226.5Q378.8 145.5 338.26 53.87Z" fill="#8B4513" fill-opacity="0.9"/><path d="M417.65 53.14A100.2 100.2 0 0 1 418.34 53.43Q378.8 145.5 455.71 209.73A100.2 100.2 0 0 1 455.23 210.3Q378.8 145.5 417.65 53.14Z" fill="#B03060" fill-opacity="0.9"/><path d="M447.23 72.3A100.2 100.2 0 0 1 448.06 73.09Q378.8 145.5 474.79 174.23A100.2 100.2 0 0 1 474.46 175.33Q378.8 145.5 447.23 72.3Z" fill="#00FF00" fill-opacity="0.9"/><path d="M289.41 100.23A100.2 100.2 0 0 1 289.86 99.36Q378.8 145.5 477.04 165.22A100.2 100.2 0 0 1 476.84 166.18Q378.8 145.5 289.41 100.23Z" fill="#FF00FF" fill-opacity="0.9"/><path d="M282.45 118A100.2 100.2 0 0 1 282.74 117Q378.8 145.5 453.58 212.19A100.2 100.2 0 0 1 452.88 212.97Q378.8 145.5 282.45 118Z" fill="#FF7F50" fill-opacity="0.9"/><path d="M472.88 111.01A100.2 100.2 0 0 1 473.22 111.96Q378.8 145.5 477.42 163.2A100.2 100.2 0 0 1 477.24 164.2Q378.8 145.5 472.88 111.01Z" fill="#ADFF2F" fill-opacity="0.9"/><path d="M297.86 86.44A100.2 100.2 0 0 1 298.13 86.07Q378.8 145.5 456.81 208.38A100.2 100.2 0 0 1 456.52 208.74Q378.8 145.5 297.86 86.44Z" fill="#ADD8E6" fill-opacity="0.9"/><path d="M300.52 82.95A100.2 100.2 0 0 1 300.89 82.49Q378.8 145.5 457.42 207.62A100.2 100.2 0 0 1 457.05 208.08Q378.8 145.5 300.52 82.95Z" fill="#ADD8E6" fill-opacity="0.9"/><path d="M347.49 50.32A100.2 100.2 0 0 1 348.55 49.98Q378.8 145.5 367.09 245.01A100.2 100.2 0 0 1 365.99 244.88Q378.8 145.5 347.49 50.32Z" fill="#006400" fill-opacity="0.9"/><path d="M456.51 82.25A100.2 100.2 0 0 1 457.2 83.1Q378.8 145.5 470.9 184.96A100.2 100.2 0 0 1 470.46 185.97Q378.8 145.5 456.51 82.25Z" fill="#00FF7F" fill-opacity="0.9"/><path d="M348.67 49.94A100.2 100.2 0 0 1 349.37 49.72Q378.8 145.5 327.04 231.3A100.2 100.2 0 0 1 326.42 230.92Q378.8 145.5 348.67 49.94Z" fill="#006400" fill-opacity="0.9"/><path d="M349.78 49.59A100.2 100.2 0 0 1 350.74 49.31Q378.8 145.5 349.97 241.46A100.2 100.2 0 0 1 349.01 241.17Q378.8 145.5 349.78 49.59Z" fill="#006400" fill-opacity="0.9"/><path d="M475.26 118.38A100.2 100.2 0 0 1 475.45 119.08Q378.8 145.5 305.36 213.66A100.2 100.2 0 0 1 304.86 213.13Q378.8 145.5 475.26 118.38Z" fill="#DA70D6" fill-opacity="0.9"/><path d="M302.48 80.57A100.2 100.2 0 0 1 303.22 79.71Q378.8 145.5 465.66 195.45A100.2 100.2 0 0 1 465.09 196.43Q378.8 145.5 302.48 80.57Z" fill="#ADD8E6" fill-opacity="0.9"/><path d="M418.44 53.47A100.2 100.2 0 0 1 419.11 53.77Q378.8 145.5 464.75 197A100.2 100.2 0 0 1 464.37 197.63Q378.8 145.5 418.44 53.47Z" fill="#B03060" fill-opacity="0.9"/><path d="M454.35 79.68A100.2 100.2 0 0 1 454.89 80.31Q378.8 145.5 281.4 169.02A100.2 100.2 0 0 1 281.21 168.22Q378.8 145.5 454.35 79.68Z" fill="#8A2BE2" fill-opacity="0.9"/><path d="M468.32 100.5A100.2 100.2 0 0 1 468.53 100.9Q378.8 145.5 415.59 238.7A100.2 100.2 0 0 1 415.18 238.86Q378.8 145.5 468.32 100.5Z" fill="#00FFFF" fill-opacity="0.9"/><path d="M306.52 76.11A100.2 100.2 0 0 1 307.03 75.58Q378.8 145.5 423.83 235.01A100.2 100.2 0 0 1 423.17 235.34Q378.8 145.5 306.52 76.11Z" fill="#FF1493" fill-opacity="0.9"/><path d="M410.91 50.58A100.2 100.2 0 0 1 411.36 50.74Q378.8 145.5 454.51 211.13A100.2 100.2 0 0 1 454.2 211.49Q378.8 145.5 410.91 50.58Z" fill="#800080" fill-opacity="0.9"/><path d="M419.23 53.82A100.2 100.2 0 0 1 420.24 54.27Q378.8 145.5 446.9 219A100.2 100.2 0 0 1 446.08 219.75Q378.8 145.5 419.23 53.82Z" fill="#B03060" fill-opacity="0.9"/><path d="M282.24 118.75A100.2 100.2 0 0 1 282.53 117.71Q378.8 145.5 280.78 166.27A100.2 100.2 0 0 1 280.56 165.21Q378.8 145.5 282.24 118.75Z" fill="#FF7F50" fill-opacity="0.9"/><path d="M308 74.59A100.2 100.2 0 0 1 308.32 74.28Q378.8 145.5 466.55 193.87A100.2 100.2 0 0 1 466.34 194.26Q378.8 145.5 308 74.59Z" fill="#FF1493" fill-opacity="0.9"/><path d="M472.55 110.14A100.2 100.2 0 0 1 472.84 110.92Q378.8 145.5 469.81 187.42A100.2 100.2 0 0 1 469.46 188.18Q378.8 145.5 472.55 110.14Z" fill="#ADFF2F" fill-opacity="0.9"/><path d="M380.77 45.32A100.2 100.2 0 0 1 381.95 45.35Q378.8 145.5 478.93 141.75A100.2 100.2 0 0 1 478.97 142.93Q378.8 145.5 380.77 45.32Z" fill="#3CB371" fill-opacity="0.9"/><path d="M382.56 45.37A100.2 100.2 0 0 1 383.01 45.39Q378.8 145.5 444.32 221.31A100.2 100.2 0 0 1 443.98 221.6Q378.8 145.5 382.56 45.37Z" fill="#3CB371" fill-opacity="0.9"/><path d="M339.45 53.35A100.2 100.2 0 0 1 340.16 53.05Q378.8 145.5 368.07 245.12A100.2 100.2 0 0 1 367.3 245.04Q378.8 145.5 339.45 53.35Z" fill="#8B4513" fill-opacity="0.9"/><path d="M379.54 45.3A100.2 100.2 0 0 1 380.19 45.31Q378.8 145.5 357.59 243.43A100.2 100.2 0 0 1 356.96 243.29Q378.8 145.5 379.54 45.3Z" fill="#3CB371" fill-opacity="0.9"/><path d="M286.08 107.5A100.2 100.2 0 0 1 286.48 106.55Q378.8 145.5 346.08 240.21A100.2 100.2 0 0 1 345.11 239.87Q378.8 145.5 286.08 107.5Z" fill="#FF00FF" fill-opacity="0.9"/><path d="M278.7 141.06A100.2 100.2 0 0 1 278.73 140.48Q378.8 145.5 279.01 154.55A100.2 100.2 0 0 1 278.96 153.97Q378.8 145.5 278.7 141.06Z" fill="#2F4F4F" fill-opacity="0.9"/><path d="M456.95 82.79A100.2 100.2 0 0 1 457.27 83.19Q378.8 145.5 477.81 160.91A100.2 100.2 0 0 1 477.73 161.41Q378.8 145.5 456.95 82.79Z" fill="#00FF7F" fill-opacity="0.9"/><path d="M291.05 97.13A100.2 100.2 0 0 1 291.27 96.73Q378.8 145.5 393.2 244.66A100.2 100.2 0 0 1 392.75 244.72Q378.8 145.5 291.05 97.13Z" fill="#1E90FF" fill-opacity="0.9"/><path d="M453.72 78.97A100.2 100.2 0 0 1 454.02 79.3Q378.8 145.5 284.88 180.41A100.2 100.2 0 0 1 284.72 179.99Q378.8 145.5 453.72 78.97Z" fill="#8A2BE2" fill-opacity="0.9"/><path d="M435.83 63.11A100.2 100.2 0 0 1 436.7 63.72Q378.8 145.5 378.46 245.7A100.2 100.2 0 0 1 377.4 245.69Q378.8 145.5 435.83 63.11Z" fill="#FFFF00" fill-opacity="0.9"/><path d="M368.94 45.79A100.2 100.2 0 0 1 369.99 45.69Q378.8 145.5 435.95 227.8A100.2 100.2 0 0 1 435.09 228.4Q378.8 145.5 368.94 45.79Z" fill="#483D8B" fill-opacity="0.9"/><path d="M286.77 105.86A100.2 100.2 0 0 1 287.13 105.05Q378.8 145.5 437.17 226.95A100.2 100.2 0 0 1 436.44 227.46Q378.8 145.5 286.77 105.86Z" fill="#FF00FF" fill-opacity="0.9"/><path d="M366.01 46.12A100.2 100.2 0 0 1 366.68 46.04Q378.8 145.5 450.37 215.62A100.2 100.2 0 0 1 449.9 216.1Q378.8 145.5 366.01 46.12Z" fill="#483D8B" fill-opacity="0.9"/><path d="M335.15 55.31A100.2 100.2 0 0 1 335.81 54.99Q378.8 145.5 477.46 163A100.2 100.2 0 0 1 477.33 163.72Q378.8 145.5 335.15 55.31Z" fill="#8B4513" fill-opacity="0.9"/><path d="M278.76 139.81A100.2 100.2 0 0 1 278.82 138.93Q378.8 145.5 478.74 152.73A100.2 100.2 0 0 1 478.67 153.61Q378.8 145.5 278.76 139.81Z" fill="#2F4F4F" fill-opacity="0.9"/><path d="M399.51 47.46A100.2 100.2 0 0 1 400.51 47.68Q378.8 145.5 330.9 233.51A100.2 100.2 0 0 1 330 233.02Q378.8 145.5 399.51 47.46Z" fill="#000080" fill-opacity="0.9"/><path d="M391.2 46.07A100.2 100.2 0 0 1 392.09 46.19Q378.8 145.5 349.16 241.21A100.2 100.2 0 0 1 348.29 240.94Q378.8 145.5 391.2 46.07Z" fill="#4682B4" fill-opacity="0.9"/><path d="M288.34 102.41A100.2 100.2 0 0 1 288.68 101.69Q378.8 145.5 279.97 162.01A100.2 100.2 0 0 1 279.84 161.23Q378.8 145.5 288.34 102.41Z" fill="#FF00FF" fill-opacity="0.9"/><path d="M445.12 70.39A100.2 100.2 0 0 1 445.46 70.69Q378.8 145.5 284.84 180.3A100.2 100.2 0 0 1 284.68 179.87Q378.8 145.5 445.12 70.39Z" fill="#00FF00" fill-opacity="0.9"/><path d="M394.42 46.52A100.2 100.2 0 0 1 395.02 46.62Q378.8 145.5 478.81 151.68A100.2 100.2 0 0 1 478.77 152.29Q378.8 145.5 394.42 46.52Z" fill="#4682B4" fill-opacity="0.9"/><path d="M450.4 75.41A100.2 100.2 0 0 1 450.76 75.77Q378.8 145.5 479 145.05A100.2 100.2 0 0 1 479 145.56Q378.8 145.5 450.4 75.41Z" fill="#8A2BE2" fill-opacity="0.9"/><path d="M286.7 106.03A100.2 100.2 0 0 1 287.11 105.09Q378.8 145.5 445.7 220.09A100.2 100.2 0 0 1 444.93 220.78Q378.8 145.5 286.7 106.03Z" fill="#FF00FF" fill-opacity="0.9"/><path d="M468.37 100.58A100.2 100.2 0 0 1 468.74 101.34Q378.8 145.5 423.52 235.17A100.2 100.2 0 0 1 422.76 235.54Q378.8 145.5 468.37 100.58Z" fill="#00FFFF" fill-opacity="0.9"/><path d="M308.49 74.11A100.2 100.2 0 0 1 308.98 73.64Q378.8 145.5 394.27 244.5A100.2 100.2 0 0 1 393.59 244.6Q378.8 145.5 308.49 74.11Z" fill="#FF1493" fill-opacity="0.9"/><path d="M283.26 115.29A100.2 100.2 0 0 1 283.5 114.54Q378.8 145.5 455.75 209.67A100.2 100.2 0 0 1 455.25 210.27Q378.8 145.5 283.26 115.29Z" fill="#FF7F50" fill-opacity="0.9"/><path d="M335.33 55.22A100.2 100.2 0 0 1 335.86 54.97Q378.8 145.5 314.17 222.07A100.2 100.2 0 0 1 313.72 221.69Q378.8 145.5 335.33 55.22Z" fill="#8B4513" fill-opacity="0.9"/><path d="M398.46 47.25A100.2 100.2 0 0 1 399.63 47.49Q378.8 145.5 298.44 205.35A100.2 100.2 0 0 1 297.73 204.39Q378.8 145.5 398.46 47.25Z" fill="#000080" fill-opacity="0.9"/><path d="M370.3 45.66A100.2 100.2 0 0 1 371.23 45.59Q378.8 145.5 339.98 237.88A100.2 100.2 0 0 1 339.12 237.51Q378.8 145.5 370.3 45.66Z" fill="#483D8B" fill-opacity="0.9"/><path d="M376.23 45.33A100.2 100.2 0 0 1 376.72 45.32Q378.8 145.5 290.95 193.7A100.2 100.2 0 0 1 290.72 193.27Q378.8 145.5 376.23 45.33Z" fill="#3CB371" fill-opacity="0.9"/><path d="M463.39 91.79A100.2 100.2 0 0 1 463.79 92.43Q378.8 145.5 473.3 178.81A100.2 100.2 0 0 1 473.05 179.52Q378.8 145.5 463.39 91.79Z" fill="#DC143C" fill-opacity="0.9"/><path d="M282.33 118.43A100.2 100.2 0 0 1 282.53 117.72Q378.8 145.5 462.88 200.01A100.2 100.2 0 0 1 462.47 200.63Q378.8 145.5 282.33 118.43Z" fill="#FF7F50" fill-opacity="0.9"/><path d="M288.18 102.75A100.2 100.2 0 0 1 288.59 101.89Q378.8 145.5 294.36 199.45A100.2 100.2 0 0 1 293.85 198.64Q378.8 145.5 288.18 102.75Z" fill="#FF00FF" fill-opacity="0.9"/><path d="M457.73 83.77A100.2 100.2 0 0 1 458.03 84.16Q378.8 145.5 475.32 172.41A100.2 100.2 0 0 1 475.18 172.89Q378.8 145.5 457.73 83.77Z" fill="#00FF7F" fill-opacity="0.9"/><path d="M338.03 53.97A100.2 100.2 0 0 1 338.83 53.62Q378.8 145.5 464.98 196.62A100.2 100.2 0 0 1 464.53 197.37Q378.8 145.5 338.03 53.97Z" fill="#8B4513" fill-opacity="0.9"/><path d="M299.39 84.39A100.2 100.2 0 0 1 299.88 83.76Q378.8 145.5 397.52 243.93A100.2 100.2 0 0 1 396.74 244.08Q378.8 145.5 299.39 84.39Z" fill="#ADD8E6" fill-opacity="0.9"/><path d="M440.31 66.4A100.2 100.2 0 0 1 440.93 66.89Q378.8 145.5 364.75 244.71A100.2 100.2 0 0 1 363.96 244.59Q378.8 145.5 440.31 66.4Z" fill="#FFFF00" fill-opacity="0.9"/><path d="M317.37 66.34A100.2 100.2 0 0 1 317.88 65.95Q378.8 145.5 329.17 232.55A100.2 100.2 0 0 1 328.62 232.23Q378.8 145.5 317.37 66.34Z" fill="#FFDEAD" fill-opacity="0.9"/><path d="M445.59 70.8A100.2 100.2 0 0 1 446.32 71.46Q378.8 145.5 436.95 227.1A100.2 100.2 0 0 1 436.15 227.67Q378.8 145.5 445.59 70.8Z" fill="#00FF00" fill-opacity="0.9"/><path d="M408.24 49.72A100.2 100.2 0 0 1 409.12 50Q378.8 145.5 407.58 241.48A100.2 100.2 0 0 1 406.71 241.74Q378.8 145.5 408.24 49.72Z" fill="#800080" fill-opacity="0.9"/><path d="M337.94 54.01A100.2 100.2 0 0 1 338.61 53.71Q378.8 145.5 455 210.56A100.2 100.2 0 0 1 454.53 211.12Q378.8 145.5 337.94 54.01Z" fill="#8B4513" fill-opacity="0.9"/><path d="M453.85 79.11A100.2 100.2 0 0 1 454.35 79.68Q378.8 145.5 411.93 240.06A100.2 100.2 0 0 1 411.21 240.31Q378.8 145.5 453.85 79.11Z" fill="#8A2BE2" fill-opacity="0.9"/><path d="M464.1 92.93A100.2 100.2 0 0 1 464.54 93.65Q378.8 145.5 474.76 174.34A100.2 100.2 0 0 1 474.52 175.14Q378.8 145.5 464.1 92.93Z" fill="#DC143C" fill-opacity="0.9"/><path d="M297.23 87.3A100.2 100.2 0 0 1 297.71 86.63Q378.8 145.5 478.76 138.62A100.2 100.2 0 0 1 478.82 139.45Q378.8 145.5 297.23 87.3Z" fill="#ADD8E6" fill-opacity="0.9"/><path d="M473.08 111.56A100.2 100.2 0 0 1 473.24 112.01Q378.8 145.5 436.05 227.73A100.2 100.2 0 0 1 435.66 228Q378.8 145.5 473.08 111.56Z" fill="#ADFF2F" fill-opacity="0.9"/><path d="M446.19 71.35A100.2 100.2 0 0 1 446.74 71.85Q378.8 145.5 305.79 214.13A100.2 100.2 0 0 1 305.29 213.59Q378.8 145.5 446.19 71.35Z" fill="#00FF00" fill-opacity="0.9"/><path d="M278.77 139.7A100.2 100.2 0 0 1 278.83 138.75Q378.8 145.5 364.41 244.66A100.2 100.2 0 0 1 363.47 244.52Q378.8 145.5 278.77 139.7Z" fill="#2F4F4F" fill-opacity="0.9"/><path d="M381.71 45.34A100.2 100.2 0 0 1 382.39 45.36Q378.8 145.5 478.99 146.63A100.2 100.2 0 0 1 478.98 147.3Q378.8 145.5 381.71 45.34Z" fill="#3CB371" fill-opacity="0.9"/><path d="M467.94 99.74A100.2 100.2 0 0 1 468.42 100.68Q378.8 145.5 466.26 194.39A100.2 100.2 0 0 1 465.74 195.31Q378.8 145.5 467.94 99.74Z" fill="#00FFFF" fill-opacity="0.9"/><path d="M278.71 140.79A100.2 100.2 0 0 1 278.75 140.02Q378.8 145.5 321.49 227.69A100.2 100.2 0 0 1 320.85 227.25Q378.8 145.5 278.71 140.79Z" fill="#2F4F4F" fill-opacity="0.9"/><path d="M301.99 81.16A100.2 100.2 0 0 1 302.72 80.29Q378.8 145.5 464.19 197.92A100.2 100.2 0 0 1 463.59 198.89Q378.8 145.5 301.99 81.16Z" fill="#ADD8E6" fill-opacity="0.9"/><path d="M283.74 113.83A100.2 100.2 0 0 1 284.07 112.85Q378.8 145.5 279.99 162.14A100.2 100.2 0 0 1 279.82 161.11Q378.8 145.5 283.74 113.83Z" fill="#FF7F50" fill-opacity="0.9"/><path d="M440.23 66.34A100.2 100.2 0 0 1 440.58 66.61Q378.8 145.5 367.99 245.12A100.2 100.2 0 0 1 367.54 245.07Q378.8 145.5 440.23 66.34Z" fill="#FFFF00" fill-opacity="0.9"/><path d="M283.34 115.05A100.2 100.2 0 0 1 283.52 114.48Q378.8 145.5 427.94 232.82A100.2 100.2 0 0 1 427.42 233.11Q378.8 145.5 283.34 115.05Z" fill="#FF7F50" fill-opacity="0.9"/><path d="M365.55 46.18A100.2 100.2 0 0 1 366.59 46.05Q378.8 145.5 341.78 238.61A100.2 100.2 0 0 1 340.81 238.22Q378.8 145.5 365.55 46.18Z" fill="#483D8B" fill-opacity="0.9"/><path d="M291.59 96.16A100.2 100.2 0 0 1 292.16 95.17Q378.8 145.5 450.6 215.39A100.2 100.2 0 0 1 449.8 216.21Q378.8 145.5 291.59 96.16Z" fill="#1E90FF" fill-opacity="0.9"/><path d="M413.67 51.56A100.2 100.2 0 0 1 414.59 51.91Q378.8 145.5 363.54 244.53A100.2 100.2 0 0 1 362.57 244.38Q378.8 145.5 413.67 51.56Z" fill="#800080" fill-opacity="0.9"/><path d="M475.15 117.98A100.2 100.2 0 0 1 475.46 119.09Q378.8 145.5 377.34 245.69A100.2 100.2 0 0 1 376.18 245.67Q378.8 145.5 475.15 117.98Z" fill="#DA70D6" fill-opacity="0.9"/><path d="M453.13 78.3A100.2 100.2 0 0 1 453.88 79.15Q378.8 145.5 477.47 162.93A100.2 100.2 0 0 1 477.27 164.05Q378.8 145.5 453.13 78.3Z" fill="#8A2BE2" fill-opacity="0.9"/><path d="M348.09 50.12A100.2 100.2 0 0 1 348.69 49.93Q378.8 145.5 478.79 139.07A100.2 100.2 0 0 1 478.83 139.71Q378.8 145.5 348.09 50.12Z" fill="#006400" fill-opacity="0.9"/><path d="M418.28 53.41A100.2 100.2 0 0 1 418.95 53.69Q378.8 145.5 344.8 239.76A100.2 100.2 0 0 1 344.12 239.51Q378.8 145.5 418.28 53.41Z" fill="#B03060" fill-opacity="0.9"/><path d="M463.09 91.32A100.2 100.2 0 0 1 463.53 92.01Q378.8 145.5 300.85 208.46A100.2 100.2 0 0 1 300.34 207.82Q378.8 145.5 463.09 91.32Z" fill="#DC143C" fill-opacity="0.9"/><path d="M358.24 47.43A100.2 100.2 0 0 1 358.88 47.3Q378.8 145.5 471.63 183.23A100.2 100.2 0 0 1 471.38 183.83Q378.8 145.5 358.24 47.43Z" fill="#808000" fill-opacity="0.9"/><path d="M318.53 65.45A100.2 100.2 0 0 1 319.07 65.05Q378.8 145.5 468.45 190.26A100.2 100.2 0 0 1 468.15 190.86Q378.8 145.5 318.53 65.45Z" fill="#FFDEAD" fill-opacity="0.9"/><path d="M316.9 66.71A100.2 100.2 0 0 1 317.65 66.12Q378.8 145.5 291.66 194.97A100.2 100.2 0 0 1 291.19 194.13Q378.8 145.5 316.9 66.71Z" fill="#FFDEAD" fill-opacity="0.9"/><path d="M382.7 45.38A100.2 100.2 0 0 1 383.39 45.41Q378.8 145.5 347.32 240.63A100.2 100.2 0 0 1 346.67 240.41Q378.8 145.5 382.7 45.38Z" fill="#3CB371" fill-opacity="0.9"/><path d="M452.52 77.64A100.2 100.2 0 0 1 452.84 77.98Q378.8 145.5 295.11 200.6A100.2 100.2 0 0 1 294.85 200.2Q378.8 145.5 452.52 77.64Z" fill="#8A2BE2" fill-opacity="0.9"/><path d="M292.96 93.81A100.2 100.2 0 0 1 293.31 93.24Q378.8 145.5 453.4 212.39A100.2 100.2 0 0 1 452.96 212.88Q378.8 145.5 292.96 93.81Z" fill="#1E90FF" fill-opacity="0.9"/><path d="M316.81 66.78A100.2 100.2 0 0 1 317.67 66.11Q378.8 145.5 405.26 242.14A100.2 100.2 0 0 1 404.21 242.42Q378.8 145.5 316.81 66.78Z" fill="#FFDEAD" fill-opacity="0.9"/><path d="M378.9 45.3A100.2 100.2 0 0 1 379.82 45.31Q378.8 145.5 359.8 243.88A100.2 100.2 0 0 1 358.89 243.7Q378.8 145.5 378.9 45.3Z" fill="#3CB371" fill-opacity="0.9"/><path d="M389.13 45.83A100.2 100.2 0 0 1 390.25 45.96Q378.8 145.5 422.61 235.62A100.2 100.2 0 0 1 421.59 236.1Q378.8 145.5 389.13 45.83Z" fill="#4682B4" fill-opacity="0.9"/><path d="M429.83 59.27A100.2 100.2 0 0 1 430.32 59.56Q378.8 145.5 312.56 220.69A100.2 100.2 0 0 1 312.13 220.3Q378.8 145.5 429.83 59.27Z" fill="#FF0000" fill-opacity="0.9"/><path d="M289.08 100.89A100.2 100.2 0 0 1 289.54 99.97Q378.8 145.5 478.78 152.12A100.2 100.2 0 0 1 478.71 153.15Q378.8 145.5 289.08 100.89Z" fill="#FF00FF" fill-opacity="0.9"/><path d="M446.29 71.44A100.2 100.2 0 0 1 446.78 71.89Q378.8 145.5 404.42 242.37A100.2 100.2 0 0 1 403.78 242.54Q378.8 145.5 446.29 71.44Z" fill="#00FF00" fill-opacity="0.9"/><path d="M302.72 80.3A100.2 100.2 0 0 1 303.27 79.65Q378.8 145.5 424.57 234.64A100.2 100.2 0 0 1 423.81 235.02Q378.8 145.5 302.72 80.3Z" fill="#ADD8E6" fill-opacity="0.9"/><path d="M388.17 45.74A100.2 100.2 0 0 1 389.27 45.85Q378.8 145.5 464.21 197.89A100.2 100.2 0 0 1 463.63 198.83Q378.8 145.5 388.17 45.74Z" fill="#4682B4" fill-opacity="0.9"/><path d="M440.18 66.3A100.2 100.2 0 0 1 440.59 66.62Q378.8 145.5 294.12 199.06A100.2 100.2 0 0 1 293.84 198.62Q378.8 145.5 440.18 66.3Z" fill="#FFFF00" fill-opacity="0.9"/><path d="M447.23 72.31A100.2 100.2 0 0 1 447.78 72.82Q378.8 145.5 316.38 223.88A100.2 100.2 0 0 1 315.8 223.42Q378.8 145.5 447.23 72.31Z" fill="#00FF00" fill-opacity="0.9"/><path d="M462.82 90.91A100.2 100.2 0 0 1 463.25 91.58Q378.8 145.5 476.83 166.22A100.2 100.2 0 0 1 476.67 167Q378.8 145.5 462.82 90.91Z" fill="#DC143C" fill-opacity="0.9"/><path d="M410.58 50.47A100.2 100.2 0 0 1 411.09 50.64Q378.8 145.5 462.5 200.59A100.2 100.2 0 0 1 462.2 201.03Q378.8 145.5 410.58 50.47Z" fill="#800080" fill-opacity="0.9"/><path d="M371.44 45.57A100.2 100.2 0 0 1 372.41 45.5Q378.8 145.5 380.78 245.68A100.2 100.2 0 0 1 379.79 245.7Q378.8 145.5 371.44 45.57Z" fill="#483D8B" fill-opacity="0.9"/><path d="M287.03 105.28A100.2 100.2 0 0 1 287.3 104.66Q378.8 145.5 477.76 161.22A100.2 100.2 0 0 1 477.65 161.89Q378.8 145.5 287.03 105.28Z" fill="#FF00FF" fill-opacity="0.9"/><path d="M278.6 145.16A100.2 100.2 0 0 1 278.6 144.57Q378.8 145.5 285.29 181.49A100.2 100.2 0 0 1 285.08 180.94Q378.8 145.5 278.6 145.16Z" fill="#2F4F4F" fill-opacity="0.9"/><path d="M314.5 68.66A100.2 100.2 0 0 1 315.31 67.98Q378.8 145.5 423.52 235.17A100.2 100.2 0 0 1 422.57 235.63Q378.8 145.5 314.5 68.66Z" fill="#FFDEAD" fill-opacity="0.9"/><path d="M354.93 48.18A100.2 100.2 0 0 1 355.55 48.04Q378.8 145.5 421.28 236.25A100.2 100.2 0 0 1 420.71 236.52Q378.8 145.5 354.93 48.18Z" fill="#808000" fill-opacity="0.9"/><path d="M299.81 83.85A100.2 100.2 0 0 1 300.43 83.07Q378.8 145.5 371.56 245.44A100.2 100.2 0 0 1 370.56 245.36Q378.8 145.5 299.81 83.85Z" fill="#ADD8E6" fill-opacity="0.9"/><path d="M421.55 54.87A100.2 100.2 0 0 1 422.21 55.19Q378.8 145.5 357.59 243.43A100.2 100.2 0 0 1 356.87 243.27Q378.8 145.5 421.55 54.87Z" fill="#B03060" fill-opacity="0.9"/><path d="M323.03 62.25A100.2 100.2 0 0 1 323.7 61.81Q378.8 145.5 278.74 150.73A100.2 100.2 0 0 1 278.7 149.94Q378.8 145.5 323.03 62.25Z" fill="#FFB6C1" fill-opacity="0.9"/><path d="M357.28 47.64A100.2 100.2 0 0 1 358.45 47.39Q378.8 145.5 383.19 245.6A100.2 100.2 0 0 1 382 245.65Q378.8 145.5 357.28 47.64Z" fill="#808000" fill-opacity="0.9"/><path d="M429.18 58.88A100.2 100.2 0 0 1 429.91 59.31Q378.8 145.5 421.4 236.19A100.2 100.2 0 0 1 420.63 236.55Q378.8 145.5 429.18 58.88Z" fill="#FF0000" fill-opacity="0.9"/><path d="M472.65 110.41A100.2 100.2 0 0 1 472.89 111.04Q378.8 145.5 478.67 153.57A100.2 100.2 0 0 1 478.62 154.24Q378.8 145.5 472.65 110.41Z" fill="#ADFF2F" fill-opacity="0.9"/><path d="M313.69 69.34A100.2 100.2 0 0 1 314.36 68.77Q378.8 145.5 278.97 154.14A100.2 100.2 0 0 1 278.9 153.26Q378.8 145.5 313.69 69.34Z" fill="#FFDEAD" fill-opacity="0.9"/><path d="M447.24 72.32A100.2 100.2 0 0 1 447.69 72.74Q378.8 145.5 478.84 151.15A100.2 100.2 0 0 1 478.8 151.76Q378.8 145.5 447.24 72.32Z" fill="#00FF00" fill-opacity="0.9"/><path d="M300.52 82.96A100.2 100.2 0 0 1 301.09 82.24Q378.8 145.5 314.1 222.01A100.2 100.2 0 0 1 313.4 221.41Q378.8 145.5 300.52 82.96Z" fill="#ADD8E6" fill-opacity="0.9"/><path d="M317.54 66.21A100.2 100.2 0 0 1 318.28 65.64Q378.8 145.5 462.05 201.27A100.2 100.2 0 0 1 461.52 202.04Q378.8 145.5 317.54 66.21Z" fill="#FFDEAD" fill-opacity="0.9"/><path d="M392.02 46.18A100.2 100.2 0 0 1 392.96 46.31Q378.8 145.5 477.83 160.79A100.2 100.2 0 0 1 477.68 161.73Q378.8 145.5 392.02 46.18Z" fill="#4682B4" fill-opacity="0.9"/><path d="M411.81 50.89A100.2 100.2 0 0 1 412.45 51.12Q378.8 145.5 279.94 161.85A100.2 100.2 0 0 1 279.84 161.18Q378.8 145.5 411.81 50.89Z" fill="#800080" fill-opacity="0.9"/><path d="M335.65 55.07A100.2 100.2 0 0 1 336.25 54.79Q378.8 145.5 447.87 218.09A100.2 100.2 0 0 1 447.39 218.54Q378.8 145.5 335.65 55.07Z" fill="#8B4513" fill-opacity="0.9"/><path d="M293.43 93.04A100.2 100.2 0 0 1 293.85 92.37Q378.8 145.5 356.36 243.15A100.2 100.2 0 0 1 355.59 242.97Q378.8 145.5 293.43 93.04Z" fill="#1E90FF" fill-opacity="0.9"/><path d="M472.66 110.41A100.2 100.2 0 0 1 473.05 111.5Q378.8 145.5 279.78 160.81A100.2 100.2 0 0 1 279.61 159.66Q378.8 145.5 472.66 110.41Z" fill="#ADFF2F" fill-opacity="0.9"/><path d="M423.85 56A100.2 100.2 0 0 1 424.46 56.31Q378.8 145.5 389.41 245.14A100.2 100.2 0 0 1 388.73 245.21Q378.8 145.5 423.85 56Z" fill="#B03060" fill-opacity="0.9"/><path d="M345.77 50.9A100.2 100.2 0 0 1 346.23 50.74Q378.8 145.5 400.9 243.23A100.2 100.2 0 0 1 400.44 243.34Q378.8 145.5 345.77 50.9Z" fill="#006400" fill-opacity="0.9"/><path d="M466.61 97.23A100.2 100.2 0 0 1 467.09 98.12Q378.8 145.5 471.99 182.32A100.2 100.2 0 0 1 471.61 183.26Q378.8 145.5 466.61 97.23Z" fill="#00FFFF" fill-opacity="0.9"/><path d="M369.94 45.69A100.2 100.2 0 0 1 370.69 45.63Q378.8 145.5 358.3 243.58A100.2 100.2 0 0 1 357.57 243.43Q378.8 145.5 369.94 45.69Z" fill="#483D8B" fill-opacity="0.9"/><path d="M348.05 50.13A100.2 100.2 0 0 1 349.01 49.83Q378.8 145.5 346.39 240.31A100.2 100.2 0 0 1 345.44 239.98Q378.8 145.5 348.05 50.13Z" fill="#006400" fill-opacity="0.9"/><path d="M329.39 58.33A100.2 100.2 0 0 1 329.92 58.03Q378.8 145.5 284.9 180.47A100.2 100.2 0 0 1 284.69 179.89Q378.8 145.5 329.39 58.33Z" fill="#FFB6C1" fill-opacity="0.9"/><path d="M458.25 84.44A100.2 100.2 0 0 1 458.8 85.16Q378.8 145.5 349.71 241.38A100.2 100.2 0 0 1 348.84 241.12Q378.8 145.5 458.25 84.44Z" fill="#00FF7F" fill-opacity="0.9"/><path d="M370.43 45.65A100.2 100.2 0 0 1 371.07 45.6Q378.8 145.5 384.81 245.52A100.2 100.2 0 0 1 384.18 245.56Q378.8 145.5 370.43 45.65Z" fill="#483D8B" fill-opacity="0.9"/><path d="M439.54 65.81A100.2 100.2 0 0 1 440.15 66.27Q378.8 145.5 466.09 194.7A100.2 100.2 0 0 1 465.71 195.37Q378.8 145.5 439.54 65.81Z" fill="#FFFF00" fill-opacity="0.9"/><path d="M359.86 47.11A100.2 100.2 0 0 1 360.87 46.92Q378.8 145.5 330.89 233.5A100.2 100.2 0 0 1 329.99 233.01Q378.8 145.5 359.86 47.11Z" fill="#808000" fill-opacity="0.9"/><path d="M348.43 50.01A100.2 100.2 0 0 1 349.4 49.71Q378.8 145.5 341.06 238.32A100.2 100.2 0 0 1 340.12 237.93Q378.8 145.5 348.43 50.01Z" fill="#006400" fill-opacity="0.9"/><path d="M360.64 46.96A100.2 100.2 0 0 1 361.58 46.79Q378.8 145.5 469.57 187.93A100.2 100.2 0 0 1 469.16 188.8Q378.8 145.5 360.64 46.96Z" fill="#808000" fill-opacity="0.9"/><path d="M337.24 54.33A100.2 100.2 0 0 1 337.76 54.09Q378.8 145.5 409.17 240.99A100.2 100.2 0 0 1 408.62 241.16Q378.8 145.5 337.24 54.33Z" fill="#8B4513" fill-opacity="0.9"/><path d="M356.97 47.71A100.2 100.2 0 0 1 357.54 47.58Q378.8 145.5 469.02 189.09A100.2 100.2 0 0 1 468.77 189.61Q378.8 145.5 356.97 47.71Z" fill="#808000" fill-opacity="0.9"/><path d="M438.51 65.03A100.2 100.2 0 0 1 438.91 65.33Q378.8 145.5 406.88 241.69A100.2 100.2 0 0 1 406.4 241.82Q378.8 145.5 438.51 65.03Z" fill="#FFFF00" fill-opacity="0.9"/><path d="M382.24 45.36A100.2 100.2 0 0 1 382.77 45.38Q378.8 145.5 282.98 174.79A100.2 100.2 0 0 1 282.82 174.29Q378.8 145.5 382.24 45.36Z" fill="#3CB371" fill-opacity="0.9"/><path d="M436.64 63.68A100.2 100.2 0 0 1 437.46 64.27Q378.8 145.5 477.21 164.33A100.2 100.2 0 0 1 477.02 165.32Q378.8 145.5 436.64 63.68Z" fill="#FFFF00" fill-opacity="0.9"/><path d="M343.41 51.76A100.2 100.2 0 0 1 344.04 51.52Q378.8 145.5 458.69 205.98A100.2 100.2 0 0 1 458.28 206.52Q378.8 145.5 343.41 51.76Z" fill="#006400" fill-opacity="0.9"/><path d="M342.53 52.09A100.2 100.2 0 0 1 343.41 51.76Q378.8 145.5 293.64 198.29A100.2 100.2 0 0 1 293.15 197.5Q378.8 145.5 342.53 52.09Z" fill="#006400" fill-opacity="0.9"/><path d="M471.37 107.14A100.2 100.2 0 0 1 471.62 107.75Q378.8 145.5 331.4 233.78A100.2 100.2 0 0 1 330.82 233.47Q378.8 145.5 471.37 107.14Z" fill="#0000FF" fill-opacity="0.9"/><path d="M292.02 95.41A100.2 100.2 0 0 1 292.48 94.62Q378.8 145.5 474.29 175.86A100.2 100.2 0 0 1 474.01 176.73Q378.8 145.5 292.02 95.41Z" fill="#1E90FF" fill-opacity="0.9"/><path d="M325.9 60.4A100.2 100.2 0 0 1 326.59 59.98Q378.8 145.5 474.9 173.87A100.2 100.2 0 0 1 474.67 174.65Q378.8 145.5 325.9 60.4Z" fill="#FFB6C1" fill-opacity="0.9"/><path d="M359.45 47.19A100.2 100.2 0 0 1 360 47.08Q378.8 145.5 431.79 230.54A100.2 100.2 0 0 1 431.31 230.84Q378.8 145.5 359.45 47.19Z" fill="#808000" fill-opacity="0.9"/><path d="M344.39 51.39A100.2 100.2 0 0 1 344.99 51.18Q378.8 145.5 463.21 199.49A100.2 100.2 0 0 1 462.86 200.03Q378.8 145.5 344.39 51.39Z" fill="#006400" fill-opacity="0.9"/><path d="M367.99 45.89A100.2 100.2 0 0 1 369.02 45.78Q378.8 145.5 411.97 240.05A100.2 100.2 0 0 1 410.98 240.39Q378.8 145.5 367.99 45.89Z" fill="#483D8B" fill-opacity="0.9"/><path d="M283.04 115.99A100.2 100.2 0 0 1 283.18 115.55Q378.8 145.5 348.14 240.9A100.2 100.2 0 0 1 347.7 240.75Q378.8 145.5 283.04 115.99Z" fill="#FF7F50" fill-opacity="0.9"/><path d="M327.69 59.32A100.2 100.2 0 0 1 328.42 58.88Q378.8 145.5 377.35 245.69A100.2 100.2 0 0 1 376.49 245.67Q378.8 145.5 327.69 59.32Z" fill="#FFB6C1" fill-opacity="0.9"/><path d="M473.33 112.27A100.2 100.2 0 0 1 473.59 113.01Q378.8 145.5 470 187.01A100.2 100.2 0 0 1 469.67 187.72Q378.8 145.5 473.33 112.27Z" fill="#ADFF2F" fill-opacity="0.9"/><path d="M344.82 51.24A100.2 100.2 0 0 1 345.74 50.91Q378.8 145.5 316.14 223.69A100.2 100.2 0 0 1 315.38 223.08Q378.8 145.5 344.82 51.24Z" fill="#006400" fill-opacity="0.9"/><path d="M346.3 50.72A100.2 100.2 0 0 1 347.07 50.46Q378.8 145.5 475.02 173.47A100.2 100.2 0 0 1 474.79 174.25Q378.8 145.5 346.3 50.72Z" fill="#006400" fill-opacity="0.9"/><path d="M326.25 60.19A100.2 100.2 0 0 1 326.83 59.83Q378.8 145.5 376.51 245.67A100.2 100.2 0 0 1 375.84 245.66Q378.8 145.5 326.25 60.19Z" fill="#FFB6C1" fill-opacity="0.9"/><path d="M324.18 61.5A100.2 100.2 0 0 1 324.76 61.12Q378.8 145.5 347.36 240.64A100.2 100.2 0 0 1 346.71 240.42Q378.8 145.5 324.18 61.5Z" fill="#FFB6C1" fill-opacity="0.9"/><path d="M315.2 68.07A100.2 100.2 0 0 1 315.9 67.5Q378.8 145.5 282.98 174.79A100.2 100.2 0 0 1 282.72 173.93Q378.8 145.5 315.2 68.07Z" fill="#FFDEAD" fill-opacity="0.9"/><path d="M475.07 117.72A100.2 100.2 0 0 1 475.24 118.32Q378.8 145.5 295.5 201.19A100.2 100.2 0 0 1 295.15 200.67Q378.8 145.5 475.07 117.72Z" fill="#DA70D6" fill-opacity="0.9"/><path d="M400.61 47.7A100.2 100.2 0 0 1 401.16 47.83Q378.8 145.5 471.97 182.37A100.2 100.2 0 0 1 471.77 182.88Q378.8 145.5 400.61 47.7Z" fill="#000080" fill-opacity="0.9"/><path d="M393.35 46.36A100.2 100.2 0 0 1 393.8 46.43Q378.8 145.5 478.95 142.42A100.2 100.2 0 0 1 478.97 142.87Q378.8 145.5 393.35 46.36Z" fill="#4682B4" fill-opacity="0.9"/><path d="M431.37 60.2A100.2 100.2 0 0 1 431.76 60.44Q378.8 145.5 473.95 176.91A100.2 100.2 0 0 1 473.81 177.34Q378.8 145.5 431.37 60.2Z" fill="#FF0000" fill-opacity="0.9"/><path d="M280.29 127.17A100.2 100.2 0 0 1 280.47 126.22Q378.8 145.5 281.39 168.98A100.2 100.2 0 0 1 281.17 168.04Q378.8 145.5 280.29 127.17Z" fill="#FFA500" fill-opacity="0.9"/><path d="M466.95 97.86A100.2 100.2 0 0 1 467.36 98.62Q378.8 145.5 316.26 223.79A100.2 100.2 0 0 1 315.59 223.25Q378.8 145.5 466.95 97.86Z" fill="#00FFFF" fill-opacity="0.9"/><path d="M371.87 45.54A100.2 100.2 0 0 1 372.48 45.5Q378.8 145.5 424.97 234.43A100.2 100.2 0 0 1 424.43 234.71Q378.8 145.5 371.87 45.54Z" fill="#483D8B" fill-opacity="0.9"/><path d="M300.65 82.79A100.2 100.2 0 0 1 301.03 82.31Q378.8 145.5 471.08 184.54A100.2 100.2 0 0 1 470.84 185.11Q378.8 145.5 300.65 82.79Z" fill="#ADD8E6" fill-opacity="0.9"/><path d="M334.28 55.73A100.2 100.2 0 0 1 334.69 55.53Q378.8 145.5 422.57 235.63A100.2 100.2 0 0 1 422.16 235.83Q378.8 145.5 334.28 55.73Z" fill="#8B4513" fill-opacity="0.9"/><path d="M435.95 63.2A100.2 100.2 0 0 1 436.44 63.54Q378.8 145.5 372.58 245.51A100.2 100.2 0 0 1 371.99 245.47Q378.8 145.5 435.95 63.2Z" fill="#FFFF00" fill-opacity="0.9"/><path d="M372.32 45.51A100.2 100.2 0 0 1 373.28 45.45Q378.8 145.5 309.4 217.77A100.2 100.2 0 0 1 308.71 217.11Q378.8 145.5 372.32 45.51Z" fill="#483D8B" fill-opacity="0.9"/><path d="M477.9 130.68A100.2 100.2 0 0 1 477.98 131.23Q378.8 145.5 477.93 160.11A100.2 100.2 0 0 1 477.85 160.66Q378.8 145.5 477.9 130.68Z" fill="#1E90FF" fill-opacity="0.9"/><path d="M466.77 97.53A100.2 100.2 0 0 1 467.08 98.1Q378.8 145.5 298.87 205.93A100.2 100.2 0 0 1 298.48 205.41Q378.8 145.5 466.77 97.53Z" fill="#00FFFF" fill-opacity="0.9"/><path d="M342.5 52.11A100.2 100.2 0 0 1 343.07 51.89Q378.8 145.5 296.41 202.52A100.2 100.2 0 0 1 296.06 202.02Q378.8 145.5 342.5 52.11Z" fill="#006400" fill-opacity="0.9"/><path d="M371.74 45.55A100.2 100.2 0 0 1 372.53 45.5Q378.8 145.5 378.38 245.7A100.2 100.2 0 0 1 377.59 245.69Q378.8 145.5 371.74 45.55Z" fill="#483D8B" fill-opacity="0.9"/><path d="M293.65 92.68A100.2 100.2 0 0 1 294.06 92.03Q378.8 145.5 332.08 234.14A100.2 100.2 0 0 1 331.4 233.78Q378.8 145.5 293.65 92.68Z" fill="#1E90FF" fill-opacity="0.9"/><path d="M356.82 47.74A100.2 100.2 0 0 1 357.62 47.56Q378.8 145.5 322.61 228.46A100.2 100.2 0 0 1 321.93 228Q378.8 145.5 356.82 47.74Z" fill="#808000" fill-opacity="0.9"/><path d="M350.59 49.35A100.2 100.2 0 0 1 351.25 49.16Q378.8 145.5 286.11 183.55A100.2 100.2 0 0 1 285.85 182.91Q378.8 145.5 350.59 49.35Z" fill="#006400" fill-opacity="0.9"/><path d="M356.13 47.9A100.2 100.2 0 0 1 357.04 47.69Q378.8 145.5 455.52 209.95A100.2 100.2 0 0 1 454.91 210.67Q378.8 145.5 356.13 47.9Z" fill="#808000" fill-opacity="0.9"/><path d="M403.1 48.29A100.2 100.2 0 0 1 403.59 48.42Q378.8 145.5 459.39 205.04A100.2 100.2 0 0 1 459.09 205.45Q378.8 145.5 403.1 48.29Z" fill="#000080" fill-opacity="0.9"/><path d="M334.53 55.61A100.2 100.2 0 0 1 335.47 55.16Q378.8 145.5 455.82 209.59A100.2 100.2 0 0 1 455.15 210.39Q378.8 145.5 334.53 55.61Z" fill="#8B4513" fill-opacity="0.9"/><path d="M470.41 104.91A100.2 100.2 0 0 1 470.77 105.73Q378.8 145.5 454.75 210.85A100.2 100.2 0 0 1 454.16 211.53Q378.8 145.5 470.41 104.91Z" fill="#0000FF" fill-opacity="0.9"/><path d="M477.47 128.08A100.2 100.2 0 0 1 477.56 128.56Q378.8 145.5 367.78 245.09A100.2 100.2 0 0 1 367.29 245.04Q378.8 145.5 477.47 128.08Z" fill="#1E90FF" fill-opacity="0.9"/><path d="M280.35 126.88A100.2 100.2 0 0 1 280.54 125.9Q378.8 145.5 454.64 210.98A100.2 100.2 0 0 1 453.99 211.73Q378.8 145.5 280.35 126.88Z" fill="#FFA500" fill-opacity="0.9"/><path d="M474.43 115.58A100.2 100.2 0 0 1 474.67 116.35Q378.8 145.5 479 145.25A100.2 100.2 0 0 1 479 146.05Q378.8 145.5 474.43 115.58Z" fill="#DA70D6" fill-opacity="0.9"/><path d="M458.35 84.57A100.2 100.2 0 0 1 458.9 85.3Q378.8 145.5 436.37 227.51A100.2 100.2 0 0 1 435.62 228.03Q378.8 145.5 458.35 84.57Z" fill="#00FF7F" fill-opacity="0.9"/><path d="M284.17 112.55A100.2 100.2 0 0 1 284.43 111.82Q378.8 145.5 278.75 151.06A100.2 100.2 0 0 1 278.71 150.28Q378.8 145.5 284.17 112.55Z" fill="#FF7F50" fill-opacity="0.9"/><path d="M462.7 90.72A100.2 100.2 0 0 1 463.12 91.37Q378.8 145.5 279.49 158.83A100.2 100.2 0 0 1 279.39 158.07Q378.8 145.5 462.7 90.72Z" fill="#DC143C" fill-opacity="0.9"/><path d="M327.84 59.23A100.2 100.2 0 0 1 328.28 58.97Q378.8 145.5 438.21 226.19A100.2 100.2 0 0 1 437.8 226.49Q378.8 145.5 327.84 59.23Z" fill="#FFB6C1" fill-opacity="0.9"/><path d="M336.2 54.81A100.2 100.2 0 0 1 337.13 54.38Q378.8 145.5 437.26 226.88A100.2 100.2 0 0 1 436.42 227.47Q378.8 145.5 336.2 54.81Z" fill="#8B4513" fill-opacity="0.9"/><path d="M323.05 62.24A100.2 100.2 0 0 1 323.86 61.7Q378.8 145.5 344.69 239.72A100.2 100.2 0 0 1 343.77 239.38Q378.8 145.5 323.05 62.24Z" fill="#FFB6C1" fill-opacity="0.9"/><path d="M278.71 140.74A100.2 100.2 0 0 1 278.77 139.73Q378.8 145.5 388.9 245.19A100.2 100.2 0 0 1 387.89 245.29Q378.8 145.5 278.71 140.74Z" fill="#2F4F4F" fill-opacity="0.9"/><path d="M397.66 47.09A100.2 100.2 0 0 1 403.13 48.3Q378.8 145.5 279.09 155.36A100.2 100.2 0 0 1 278.64 148.23Q378.8 145.5 397.66 47.09Z" fill="#000080"/><path d="M403.31 48.34A100.2 100.2 0 0 1 403.49 48.39Q378.8 145.5 279.13 155.81A100.2 100.2 0 0 1 279.11 155.57Q378.8 145.5 403.31 48.34Z" fill="#000080"/><path d="M403.65 48.43A100.2 100.2 0 0 1 404.42 48.63Q378.8 145.5 279.47 158.66A100.2 100.2 0 0 1 279.34 157.65Q378.8 145.5 403.65 48.43Z" fill="#000080"/><path d="M404.58 48.67A100.2 100.2 0 0 1 405.66 48.97Q378.8 145.5 279.31 157.44A100.2 100.2 0 0 1 279.15 156.02Q378.8 145.5 404.58 48.67Z" fill="#000080"/><path d="M313.13 69.82A100.2 100.2 0 0 1 314.39 68.74Q378.8 145.5 281.68 170.16A100.2 100.2 0 0 1 281.18 168.11Q378.8 145.5 313.13 69.82Z" fill="#FFDEAD"/><path d="M314.53 68.63A100.2 100.2 0 0 1 317.45 66.27Q378.8 145.5 280.66 165.71A100.2 100.2 0 0 1 279.81 161Q378.8 145.5 314.53 68.63Z" fill="#FFDEAD"/><path d="M317.6 66.16A100.2 100.2 0 0 1 318.93 65.16Q378.8 145.5 279.77 160.77A100.2 100.2 0 0 1 279.47 158.66Q378.8 145.5 317.6 66.16Z" fill="#FFDEAD"/><path d="M319.07 65.05A100.2 100.2 0 0 1 320.33 64.13Q378.8 145.5 281.13 167.88A100.2 100.2 0 0 1 280.71 165.94Q378.8 145.5 319.07 65.05Z" fill="#FFDEAD"/><path d="M304.81 77.93A100.2 100.2 0 0 1 305.44 77.24Q378.8 145.5 284.05 178.11A100.2 100.2 0 0 1 283.7 177.07Q378.8 145.5 304.81 77.93Z" fill="#FF1493"/><path d="M305.57 77.11A100.2 100.2 0 0 1 308.37 74.23Q378.8 145.5 285.76 182.7A100.2 100.2 0 0 1 284.13 178.31Q378.8 145.5 305.57 77.11Z" fill="#FF1493"/><path d="M308.5 74.1A100.2 100.2 0 0 1 311.43 71.33Q378.8 145.5 283.63 176.86A100.2 100.2 0 0 1 282.27 172.36Q378.8 145.5 308.5 74.1Z" fill="#FF1493"/><path d="M442.94 68.52A100.2 100.2 0 0 1 444.17 69.56Q378.8 145.5 288.19 188.28A100.2 100.2 0 0 1 287.4 186.57Q378.8 145.5 442.94 68.52Z" fill="#00FF00"/><path d="M444.29 69.66A100.2 100.2 0 0 1 446.86 71.96Q378.8 145.5 287.33 186.41A100.2 100.2 0 0 1 285.76 182.7Q378.8 145.5 444.29 69.66Z" fill="#00FF00"/><path d="M446.97 72.06A100.2 100.2 0 0 1 447.52 72.57Q378.8 145.5 289.32 190.6A100.2 100.2 0 0 1 288.93 189.82Q378.8 145.5 446.97 72.06Z" fill="#00FF00"/><path d="M447.62 72.68A100.2 100.2 0 0 1 448.47 73.48Q378.8 145.5 288.86 189.66A100.2 100.2 0 0 1 288.27 188.44Q378.8 145.5 447.62 72.68Z" fill="#00FF00"/><path d="M375.65 45.35A100.2 100.2 0 0 1 376.47 45.33Q378.8 145.5 290.8 193.42A100.2 100.2 0 0 1 290.37 192.62Q378.8 145.5 375.65 45.35Z" fill="#3CB371"/><path d="M376.65 45.32A100.2 100.2 0 0 1 377.36 45.31Q378.8 145.5 291.61 194.88A100.2 100.2 0 0 1 291.22 194.18Q378.8 145.5 376.65 45.32Z" fill="#3CB371"/><path d="M377.54 45.31A100.2 100.2 0 0 1 377.95 45.3Q378.8 145.5 291.12 194A100.2 100.2 0 0 1 290.9 193.6Q378.8 145.5 377.54 45.31Z" fill="#3CB371"/><path d="M378.17 45.3A100.2 100.2 0 0 1 382.67 45.37Q378.8 145.5 294.34 199.42A100.2 100.2 0 0 1 291.73 195.09Q378.8 145.5 378.17 45.3Z" fill="#3CB371"/><path d="M382.85 45.38A100.2 100.2 0 0 1 384.57 45.47Q378.8 145.5 295.51 201.2A100.2 100.2 0 0 1 294.45 199.59Q378.8 145.5 382.85 45.38Z" fill="#3CB371"/><path d="M417.63 53.13A100.2 100.2 0 0 1 419.54 53.96Q378.8 145.5 298.28 205.14A100.2 100.2 0 0 1 296.91 203.24Q378.8 145.5 417.63 53.13Z" fill="#B03060"/><path d="M419.69 54.02A100.2 100.2 0 0 1 421.54 54.87Q378.8 145.5 296.8 203.09A100.2 100.2 0 0 1 295.51 201.2Q378.8 145.5 419.69 54.02Z" fill="#B03060"/><path d="M421.69 54.94A100.2 100.2 0 0 1 422.37 55.27Q378.8 145.5 300.99 208.63A100.2 100.2 0 0 1 300.46 207.97Q378.8 145.5 421.69 54.94Z" fill="#B03060"/><path d="M422.51 55.34A100.2 100.2 0 0 1 425.07 56.62Q378.8 145.5 300.34 207.83A100.2 100.2 0 0 1 298.39 205.28Q378.8 145.5 422.51 55.34Z" fill="#B03060"/><path d="M450.08 75.08A100.2 100.2 0 0 1 450.81 75.83Q378.8 145.5 308.53 216.93A100.2 100.2 0 0 1 307.63 216.03Q378.8 145.5 450.08 75.08Z" fill="#8A2BE2"/><path d="M450.92 75.93A100.2 100.2 0 0 1 451.14 76.17Q378.8 145.5 307.5 215.9A100.2 100.2 0 0 1 307.22 215.62Q378.8 145.5 450.92 75.93Z" fill="#8A2BE2"/><path d="M451.33 76.36A100.2 100.2 0 0 1 451.76 76.82Q378.8 145.5 307 215.39A100.2 100.2 0 0 1 306.46 214.83Q378.8 145.5 451.33 76.36Z" fill="#8A2BE2"/><path d="M451.86 76.93A100.2 100.2 0 0 1 452.01 77.09Q378.8 145.5 302.61 210.58A100.2 100.2 0 0 1 302.44 210.37Q378.8 145.5 451.86 76.93Z" fill="#8A2BE2"/><path d="M452.11 77.2A100.2 100.2 0 0 1 455.05 80.49Q378.8 145.5 306.34 214.7A100.2 100.2 0 0 1 302.73 210.71Q378.8 145.5 452.11 77.2Z" fill="#8A2BE2"/><path d="M386.84 45.62A100.2 100.2 0 0 1 388.07 45.73Q378.8 145.5 314.85 222.64A100.2 100.2 0 0 1 313.7 221.67Q378.8 145.5 386.84 45.62Z" fill="#4682B4"/><path d="M388.24 45.75A100.2 100.2 0 0 1 389.72 45.9Q378.8 145.5 316.42 223.92A100.2 100.2 0 0 1 315.01 222.77Q378.8 145.5 388.24 45.75Z" fill="#4682B4"/><path d="M389.89 45.92A100.2 100.2 0 0 1 390.06 45.93Q378.8 145.5 311.38 219.63A100.2 100.2 0 0 1 311.23 219.49Q378.8 145.5 389.89 45.92Z" fill="#4682B4"/><path d="M390.23 45.95A100.2 100.2 0 0 1 392.4 46.23Q378.8 145.5 313.54 221.53A100.2 100.2 0 0 1 311.54 219.77Q378.8 145.5 390.23 45.95Z" fill="#4682B4"/><path d="M392.58 46.25A100.2 100.2 0 0 1 395.42 46.69Q378.8 145.5 311.07 219.35A100.2 100.2 0 0 1 308.53 216.93Q378.8 145.5 392.58 46.25Z" fill="#4682B4"/><path d="M285.83 108.13A100.2 100.2 0 0 1 286.95 105.46Q378.8 145.5 321.17 227.47A100.2 100.2 0 0 1 318.22 225.31Q378.8 145.5 285.83 108.13Z" fill="#FF00FF"/><path d="M287.03 105.28A100.2 100.2 0 0 1 289.21 100.62Q378.8 145.5 328.51 232.17A100.2 100.2 0 0 1 322.99 228.72Q378.8 145.5 287.03 105.28Z" fill="#FF00FF"/><path d="M289.3 100.44A100.2 100.2 0 0 1 289.92 99.23Q378.8 145.5 322.79 228.58A100.2 100.2 0 0 1 321.37 227.61Q378.8 145.5 289.3 100.44Z" fill="#FF00FF"/><path d="M469.91 103.79A100.2 100.2 0 0 1 470.09 104.18Q378.8 145.5 333.43 234.84A100.2 100.2 0 0 1 332.94 234.59Q378.8 145.5 469.91 103.79Z" fill="#0000FF"/><path d="M470.14 104.29A100.2 100.2 0 0 1 470.6 105.35Q378.8 145.5 332.84 234.54A100.2 100.2 0 0 1 331.55 233.86Q378.8 145.5 470.14 104.29Z" fill="#0000FF"/><path d="M470.64 105.43A100.2 100.2 0 0 1 470.9 106.04Q378.8 145.5 331.45 233.81A100.2 100.2 0 0 1 330.71 233.41Q378.8 145.5 470.64 105.43Z" fill="#0000FF"/><path d="M470.94 106.12A100.2 100.2 0 0 1 471.2 106.73Q378.8 145.5 330.61 233.35A100.2 100.2 0 0 1 329.88 232.95Q378.8 145.5 470.94 106.12Z" fill="#0000FF"/><path d="M471.23 106.81A100.2 100.2 0 0 1 471.67 107.88Q378.8 145.5 329.79 232.89A100.2 100.2 0 0 1 328.51 232.17Q378.8 145.5 471.23 106.81Z" fill="#0000FF"/><path d="M461.97 89.61A100.2 100.2 0 0 1 464.36 93.35Q378.8 145.5 340.4 238.05A100.2 100.2 0 0 1 335.51 235.86Q378.8 145.5 461.97 89.61Z" fill="#DC143C"/><path d="M464.42 93.46A100.2 100.2 0 0 1 464.82 94.11Q378.8 145.5 342.59 238.93A100.2 100.2 0 0 1 341.73 238.59Q378.8 145.5 464.42 93.46Z" fill="#DC143C"/><path d="M464.88 94.22A100.2 100.2 0 0 1 465.36 95.02Q378.8 145.5 341.59 238.53A100.2 100.2 0 0 1 340.54 238.11Q378.8 145.5 464.88 94.22Z" fill="#DC143C"/><path d="M435.55 62.92A100.2 100.2 0 0 1 437.22 64.09Q378.8 145.5 344.89 239.79A100.2 100.2 0 0 1 342.59 238.93Q378.8 145.5 435.55 62.92Z" fill="#FFFF00"/><path d="M437.33 64.17A100.2 100.2 0 0 1 438.18 64.79Q378.8 145.5 346.24 240.26A100.2 100.2 0 0 1 345.05 239.84Q378.8 145.5 437.33 64.17Z" fill="#FFFF00"/><path d="M438.29 64.87A100.2 100.2 0 0 1 438.75 65.21Q378.8 145.5 347.06 240.54A100.2 100.2 0 0 1 346.4 240.32Q378.8 145.5 438.29 64.87Z" fill="#FFFF00"/><path d="M438.86 65.3A100.2 100.2 0 0 1 440.1 66.24Q378.8 145.5 349.01 241.17A100.2 100.2 0 0 1 347.22 240.59Q378.8 145.5 438.86 65.3Z" fill="#FFFF00"/><path d="M440.21 66.32A100.2 100.2 0 0 1 441.18 67.08Q378.8 145.5 350.59 241.65A100.2 100.2 0 0 1 349.17 241.22Q378.8 145.5 440.21 66.32Z" fill="#FFFF00"/><path d="M427.07 57.69A100.2 100.2 0 0 1 429.99 59.36Q378.8 145.5 357.3 243.37A100.2 100.2 0 0 1 353.8 242.53Q378.8 145.5 427.07 57.69Z" fill="#FF0000"/><path d="M430.12 59.44A100.2 100.2 0 0 1 432.84 61.12Q378.8 145.5 360.83 244.07A100.2 100.2 0 0 1 357.46 243.4Q378.8 145.5 430.12 59.44Z" fill="#FF0000"/><path d="M432.97 61.21A100.2 100.2 0 0 1 433.67 61.66Q378.8 145.5 353.64 242.49A100.2 100.2 0 0 1 352.78 242.26Q378.8 145.5 432.97 61.21Z" fill="#FF0000"/><path d="M456.5 82.24A100.2 100.2 0 0 1 458.06 84.2Q378.8 145.5 368.15 245.13A100.2 100.2 0 0 1 365.49 244.81Q378.8 145.5 456.5 82.24Z" fill="#00FF7F"/><path d="M458.14 84.31A100.2 100.2 0 0 1 458.75 85.1Q378.8 145.5 365.34 244.79A100.2 100.2 0 0 1 364.29 244.64Q378.8 145.5 458.14 84.31Z" fill="#00FF7F"/><path d="M458.83 85.21A100.2 100.2 0 0 1 459.99 86.78Q378.8 145.5 364.14 244.62A100.2 100.2 0 0 1 362.07 244.29Q378.8 145.5 458.83 85.21Z" fill="#00FF7F"/><path d="M460.07 86.89A100.2 100.2 0 0 1 460.68 87.74Q378.8 145.5 361.92 244.27A100.2 100.2 0 0 1 360.83 244.07Q378.8 145.5 460.07 86.89Z" fill="#00FF7F"/><path d="M353.54 48.54A100.2 100.2 0 0 1 358.78 47.32Q378.8 145.5 381.19 245.67A100.2 100.2 0 0 1 374.81 245.62Q378.8 145.5 353.54 48.54Z" fill="#808000"/><path d="M358.96 47.28A100.2 100.2 0 0 1 359.45 47.19Q378.8 145.5 371.01 245.4A100.2 100.2 0 0 1 370.42 245.35Q378.8 145.5 358.96 47.28Z" fill="#808000"/><path d="M359.63 47.15A100.2 100.2 0 0 1 360.01 47.08Q378.8 145.5 374.6 245.61A100.2 100.2 0 0 1 374.14 245.59Q378.8 145.5 359.63 47.15Z" fill="#808000"/><path d="M360.19 47.04A100.2 100.2 0 0 1 362.43 46.65Q378.8 145.5 373.93 245.58A100.2 100.2 0 0 1 371.23 245.41Q378.8 145.5 360.19 47.04Z" fill="#808000"/><path d="M472.5 110A100.2 100.2 0 0 1 472.7 110.52Q378.8 145.5 383.62 245.58A100.2 100.2 0 0 1 382.96 245.61Q378.8 145.5 472.5 110Z" fill="#ADFF2F"/><path d="M472.72 110.59A100.2 100.2 0 0 1 473.21 111.92Q378.8 145.5 382.87 245.62A100.2 100.2 0 0 1 381.19 245.67Q378.8 145.5 472.72 110.59Z" fill="#ADFF2F"/><path d="M473.23 111.99A100.2 100.2 0 0 1 473.71 113.37Q378.8 145.5 385.44 245.48A100.2 100.2 0 0 1 383.7 245.58Q378.8 145.5 473.23 111.99Z" fill="#ADFF2F"/><path d="M279.47 132.33A100.2 100.2 0 0 1 279.66 130.96Q378.8 145.5 408.67 241.15A100.2 100.2 0 0 1 407.01 241.65Q378.8 145.5 279.47 132.33Z" fill="#FFA500"/><path d="M279.69 130.76A100.2 100.2 0 0 1 280.14 127.98Q378.8 145.5 406.76 241.72A100.2 100.2 0 0 1 403.38 242.64Q378.8 145.5 279.69 130.76Z" fill="#FFA500"/><path d="M280.18 127.77A100.2 100.2 0 0 1 280.19 127.7Q378.8 145.5 409 241.04A100.2 100.2 0 0 1 408.91 241.07Q378.8 145.5 280.18 127.77Z" fill="#FFA500"/><path d="M280.23 127.5A100.2 100.2 0 0 1 280.78 124.7Q378.8 145.5 415.6 238.7A100.2 100.2 0 0 1 412.28 239.94Q378.8 145.5 280.23 127.5Z" fill="#FFA500"/><path d="M280.83 124.5A100.2 100.2 0 0 1 281.35 122.19Q378.8 145.5 412.03 240.03A100.2 100.2 0 0 1 409.24 240.96Q378.8 145.5 280.83 124.5Z" fill="#FFA500"/><path d="M278.6 145.5A100.2 100.2 0 0 1 278.62 143.37Q378.8 145.5 425.5 234.15A100.2 100.2 0 0 1 423.29 235.28Q378.8 145.5 278.6 145.5Z" fill="#2F4F4F"/><path d="M278.63 143.16A100.2 100.2 0 0 1 278.87 138.13Q378.8 145.5 423.06 235.39A100.2 100.2 0 0 1 417.71 237.84Q378.8 145.5 278.63 143.16Z" fill="#2F4F4F"/><path d="M278.89 137.91A100.2 100.2 0 0 1 278.94 137.19Q378.8 145.5 426.46 233.64A100.2 100.2 0 0 1 425.73 234.03Q378.8 145.5 278.89 137.91Z" fill="#2F4F4F"/><path d="M278.96 136.98A100.2 100.2 0 0 1 279.03 136.22Q378.8 145.5 429.13 232.14A100.2 100.2 0 0 1 428.36 232.58Q378.8 145.5 278.96 136.98Z" fill="#2F4F4F"/><path d="M279.05 136.01A100.2 100.2 0 0 1 279.2 134.59Q378.8 145.5 428.14 232.71A100.2 100.2 0 0 1 426.69 233.52Q378.8 145.5 279.05 136.01Z" fill="#2F4F4F"/><path d="M281.9 119.99A100.2 100.2 0 0 1 282.47 117.92Q378.8 145.5 437.72 226.54A100.2 100.2 0 0 1 435.69 227.98Q378.8 145.5 281.9 119.99Z" fill="#FF7F50"/><path d="M282.53 117.73A100.2 100.2 0 0 1 283.14 115.69Q378.8 145.5 435.49 228.12A100.2 100.2 0 0 1 433.44 229.49Q378.8 145.5 282.53 117.73Z" fill="#FF7F50"/><path d="M283.2 115.49A100.2 100.2 0 0 1 284.19 112.5Q378.8 145.5 440.83 224.19A100.2 100.2 0 0 1 437.91 226.4Q378.8 145.5 283.2 115.49Z" fill="#FF7F50"/><path d="M284.26 112.31A100.2 100.2 0 0 1 285.01 110.25Q378.8 145.5 433.24 229.62A100.2 100.2 0 0 1 431.08 230.98Q378.8 145.5 284.26 112.31Z" fill="#FF7F50"/><path d="M297.23 87.31A100.2 100.2 0 0 1 299.88 83.76Q378.8 145.5 446.46 219.41A100.2 100.2 0 0 1 442.6 222.76Q378.8 145.5 297.23 87.31Z" fill="#ADD8E6"/><path d="M300 83.61A100.2 100.2 0 0 1 300.05 83.55Q378.8 145.5 446.69 219.2A100.2 100.2 0 0 1 446.62 219.26Q378.8 145.5 300 83.61Z" fill="#ADD8E6"/><path d="M300.17 83.39A100.2 100.2 0 0 1 302.47 80.59Q378.8 145.5 449.86 216.15A100.2 100.2 0 0 1 446.85 219.05Q378.8 145.5 300.17 83.39Z" fill="#ADD8E6"/><path d="M302.59 80.44A100.2 100.2 0 0 1 303.29 79.63Q378.8 145.5 450.88 215.1A100.2 100.2 0 0 1 450.02 215.99Q378.8 145.5 302.59 80.44Z" fill="#ADD8E6"/><path d="M342.48 52.11A100.2 100.2 0 0 1 344.06 51.52Q378.8 145.5 453.83 211.91A100.2 100.2 0 0 1 452.44 213.45Q378.8 145.5 342.48 52.11Z" fill="#006400"/><path d="M344.23 51.45A100.2 100.2 0 0 1 346.58 50.62Q378.8 145.5 458.01 206.87A100.2 100.2 0 0 1 456.09 209.26Q378.8 145.5 344.23 51.45Z" fill="#006400"/><path d="M346.76 50.56A100.2 100.2 0 0 1 349.09 49.81Q378.8 145.5 455.95 209.44A100.2 100.2 0 0 1 453.98 211.74Q378.8 145.5 346.76 50.56Z" fill="#006400"/><path d="M349.27 49.75A100.2 100.2 0 0 1 349.66 49.63Q378.8 145.5 459.76 204.54A100.2 100.2 0 0 1 459.46 204.95Q378.8 145.5 349.27 49.75Z" fill="#006400"/><path d="M349.84 49.58A100.2 100.2 0 0 1 351.35 49.13Q378.8 145.5 459.32 205.13A100.2 100.2 0 0 1 458.15 206.68Q378.8 145.5 349.84 49.58Z" fill="#006400"/><path d="M364.68 46.3A100.2 100.2 0 0 1 366.71 46.03Q378.8 145.5 463.96 198.3A100.2 100.2 0 0 1 462.59 200.44Q378.8 145.5 364.68 46.3Z" fill="#483D8B"/><path d="M366.88 46.01A100.2 100.2 0 0 1 368.88 45.79Q378.8 145.5 462.47 200.63A100.2 100.2 0 0 1 461.08 202.69Q378.8 145.5 366.88 46.01Z" fill="#483D8B"/><path d="M369.21 45.76A100.2 100.2 0 0 1 369.27 45.75Q378.8 145.5 464.11 198.06A100.2 100.2 0 0 1 464.07 198.12Q378.8 145.5 369.21 45.76Z" fill="#483D8B"/><path d="M369.44 45.74A100.2 100.2 0 0 1 373.38 45.45Q378.8 145.5 466.77 193.46A100.2 100.2 0 0 1 464.33 197.7Q378.8 145.5 369.44 45.74Z" fill="#483D8B"/><path d="M322.19 62.82A100.2 100.2 0 0 1 325.14 60.88Q378.8 145.5 469.54 187.99A100.2 100.2 0 0 1 467.84 191.46Q378.8 145.5 322.19 62.82Z" fill="#FFB6C1"/><path d="M325.29 60.78A100.2 100.2 0 0 1 327.64 59.34Q378.8 145.5 472.03 182.22A100.2 100.2 0 0 1 470.88 185.01Q378.8 145.5 325.29 60.78Z" fill="#FFB6C1"/><path d="M327.8 59.25A100.2 100.2 0 0 1 330.07 57.95Q378.8 145.5 470.8 185.2A100.2 100.2 0 0 1 469.63 187.81Q378.8 145.5 327.8 59.25Z" fill="#FFB6C1"/><path d="M407.84 49.6A100.2 100.2 0 0 1 410.19 50.34Q378.8 145.5 474.22 176.08A100.2 100.2 0 0 1 473.64 177.82Q378.8 145.5 407.84 49.6Z" fill="#800080"/><path d="M410.34 50.39A100.2 100.2 0 0 1 410.65 50.5Q378.8 145.5 473.61 177.93A100.2 100.2 0 0 1 473.53 178.17Q378.8 145.5 410.34 50.39Z" fill="#800080"/><path d="M410.8 50.55A100.2 100.2 0 0 1 412.96 51.3Q378.8 145.5 474.76 174.33A100.2 100.2 0 0 1 474.26 175.96Q378.8 145.5 410.8 50.55Z" fill="#800080"/><path d="M413.11 51.36A100.2 100.2 0 0 1 414.43 51.85Q378.8 145.5 473.49 178.28A100.2 100.2 0 0 1 473.14 179.27Q378.8 145.5 413.11 51.36Z" fill="#800080"/><path d="M414.73 51.96A100.2 100.2 0 0 1 415.52 52.27Q378.8 145.5 473.1 179.39A100.2 100.2 0 0 1 472.88 179.99Q378.8 145.5 414.73 51.96Z" fill="#800080"/><path d="M474.41 115.54A100.2 100.2 0 0 1 474.81 116.83Q378.8 145.5 475.05 173.36A100.2 100.2 0 0 1 474.76 174.33Q378.8 145.5 474.41 115.54Z" fill="#DA70D6"/><path d="M474.85 116.96A100.2 100.2 0 0 1 474.86 117Q378.8 145.5 475.09 173.23A100.2 100.2 0 0 1 475.08 173.26Q378.8 145.5 474.85 116.96Z" fill="#DA70D6"/><path d="M474.89 117.09A100.2 100.2 0 0 1 475.03 117.59Q378.8 145.5 475.21 172.79A100.2 100.2 0 0 1 475.11 173.16Q378.8 145.5 474.89 117.09Z" fill="#DA70D6"/><path d="M475.06 117.67A100.2 100.2 0 0 1 475.63 119.74Q378.8 145.5 475.65 171.18A100.2 100.2 0 0 1 475.23 172.73Q378.8 145.5 475.06 117.67Z" fill="#DA70D6"/><path d="M466.48 97A100.2 100.2 0 0 1 467.42 98.73Q378.8 145.5 477.19 164.45A100.2 100.2 0 0 1 476.21 168.98Q378.8 145.5 466.48 97Z" fill="#00FFFF"/><path d="M467.47 98.83A100.2 100.2 0 0 1 468 99.85Q378.8 145.5 477.7 161.56A100.2 100.2 0 0 1 477.24 164.21Q378.8 145.5 467.47 98.83Z" fill="#00FFFF"/><path d="M468.04 99.94A100.2 100.2 0 0 1 468.18 100.2Q378.8 145.5 478.27 157.57A100.2 100.2 0 0 1 478.19 158.25Q378.8 145.5 468.04 99.94Z" fill="#00FFFF"/><path d="M468.23 100.3A100.2 100.2 0 0 1 468.35 100.55Q378.8 145.5 478.38 156.67A100.2 100.2 0 0 1 478.3 157.32Q378.8 145.5 468.23 100.3Z" fill="#00FFFF"/><path d="M468.4 100.64A100.2 100.2 0 0 1 468.94 101.73Q378.8 145.5 478.15 158.5A100.2 100.2 0 0 1 477.74 161.31Q378.8 145.5 468.4 100.64Z" fill="#00FFFF"/><path d="M476.19 121.94A100.2 100.2 0 0 1 476.69 124.1Q378.8 145.5 478.96 142.65A100.2 100.2 0 0 1 479 144.94Q378.8 145.5 476.19 121.94Z" fill="#1E90FF"/><path d="M476.73 124.3A100.2 100.2 0 0 1 477.27 126.94Q378.8 145.5 478.83 139.67A100.2 100.2 0 0 1 478.95 142.45Q378.8 145.5 476.73 124.3Z" fill="#1E90FF"/><path d="M477.3 127.14A100.2 100.2 0 0 1 477.69 129.36Q378.8 145.5 478.65 137.14A100.2 100.2 0 0 1 478.82 139.46Q378.8 145.5 477.3 127.14Z" fill="#1E90FF"/><path d="M477.72 129.55A100.2 100.2 0 0 1 478.05 131.73Q378.8 145.5 478.41 134.68A100.2 100.2 0 0 1 478.63 136.94Q378.8 145.5 477.72 129.55Z" fill="#1E90FF"/><path d="M404.31 48.6A100.2 100.2 0 0 1 404.86 48.75Q378.8 145.5 372.58 245.51A100.2 100.2 0 0 1 372.01 245.47Q378.8 145.5 404.31 48.6Z" fill="#000080" fill-opacity="0.9"/><path d="M326.91 59.78A100.2 100.2 0 0 1 327.87 59.21Q378.8 145.5 456.89 208.28A100.2 100.2 0 0 1 456.19 209.15Q378.8 145.5 326.91 59.78Z" fill="#FFB6C1" fill-opacity="0.9"/><path d="M293.41 93.07A100.2 100.2 0 0 1 293.89 92.3Q378.8 145.5 349.97 241.46A100.2 100.2 0 0 1 349.1 241.2Q378.8 145.5 293.41 93.07Z" fill="#1E90FF" fill-opacity="0.9"/><path d="M399.65 47.49A100.2 100.2 0 0 1 400.27 47.63Q378.8 145.5 283.28 175.78A100.2 100.2 0 0 1 283.1 175.18Q378.8 145.5 399.65 47.49Z" fill="#000080" fill-opacity="0.9"/><path d="M281.96 119.76A100.2 100.2 0 0 1 282.21 118.83Q378.8 145.5 297.89 204.61A100.2 100.2 0 0 1 297.33 203.83Q378.8 145.5 281.96 119.76Z" fill="#FF7F50" fill-opacity="0.9"/><path d="M284.25 112.34A100.2 100.2 0 0 1 284.45 111.76Q378.8 145.5 477.07 165.08A100.2 100.2 0 0 1 476.94 165.69Q378.8 145.5 284.25 112.34Z" fill="#FF7F50" fill-opacity="0.9"/><path d="M334.65 55.55A100.2 100.2 0 0 1 335.72 55.03Q378.8 145.5 453.49 212.29A100.2 100.2 0 0 1 452.69 213.17Q378.8 145.5 334.65 55.55Z" fill="#8B4513" fill-opacity="0.9"/><path d="M347.8 50.22A100.2 100.2 0 0 1 348.73 49.92Q378.8 145.5 285.34 181.62A100.2 100.2 0 0 1 284.99 180.7Q378.8 145.5 347.8 50.22Z" fill="#006400" fill-opacity="0.9"/><path d="M308.67 73.94A100.2 100.2 0 0 1 309.3 73.32Q378.8 145.5 280 162.19A100.2 100.2 0 0 1 279.86 161.31Q378.8 145.5 308.67 73.94Z" fill="#FF1493" fill-opacity="0.9"/><path d="M457.46 83.43A100.2 100.2 0 0 1 457.81 83.87Q378.8 145.5 465.11 196.4A100.2 100.2 0 0 1 464.82 196.88Q378.8 145.5 457.46 83.43Z" fill="#00FF7F" fill-opacity="0.9"/><path d="M450.24 75.24A100.2 100.2 0 0 1 450.64 75.65Q378.8 145.5 458.68 205.99A100.2 100.2 0 0 1 458.34 206.44Q378.8 145.5 450.24 75.24Z" fill="#8A2BE2" fill-opacity="0.9"/><path d="M431.11 60.04A100.2 100.2 0 0 1 432.11 60.66Q378.8 145.5 434.21 228.98A100.2 100.2 0 0 1 433.23 229.63Q378.8 145.5 431.11 60.04Z" fill="#FF0000" fill-opacity="0.9"/><path d="M422.34 55.25A100.2 100.2 0 0 1 423.07 55.61Q378.8 145.5 298.7 205.7A100.2 100.2 0 0 1 298.22 205.06Q378.8 145.5 422.34 55.25Z" fill="#B03060" fill-opacity="0.9"/><path d="M472.69 110.51A100.2 100.2 0 0 1 473.03 111.42Q378.8 145.5 453.1 212.72A100.2 100.2 0 0 1 452.45 213.44Q378.8 145.5 472.69 110.51Z" fill="#ADFF2F" fill-opacity="0.9"/><path d="M359.91 47.1A100.2 100.2 0 0 1 360.97 46.9Q378.8 145.5 437.93 226.39A100.2 100.2 0 0 1 437.06 227.02Q378.8 145.5 359.91 47.1Z" fill="#808000" fill-opacity="0.9"/><path d="M279.6 131.38A100.2 100.2 0 0 1 279.68 130.82Q378.8 145.5 312.33 220.48A100.2 100.2 0 0 1 311.91 220.1Q378.8 145.5 279.6 131.38Z" fill="#FFA500" fill-opacity="0.9"/><path d="M310.16 72.5A100.2 100.2 0 0 1 310.78 71.93Q378.8 145.5 469.2 188.71A100.2 100.2 0 0 1 468.84 189.47Q378.8 145.5 310.16 72.5Z" fill="#FF1493" fill-opacity="0.9"/><path d="M337.88 54.03A100.2 100.2 0 0 1 338.86 53.6Q378.8 145.5 405.3 242.13A100.2 100.2 0 0 1 404.27 242.41Q378.8 145.5 337.88 54.03Z" fill="#8B4513" fill-opacity="0.9"/><path d="M476.77 124.48A100.2 100.2 0 0 1 476.91 125.14Q378.8 145.5 379.78 245.7A100.2 100.2 0 0 1 379.1 245.7Q378.8 145.5 476.77 124.48Z" fill="#1E90FF" fill-opacity="0.9"/><path d="M463.53 92.01A100.2 100.2 0 0 1 463.79 92.42Q378.8 145.5 299.07 206.19A100.2 100.2 0 0 1 298.78 205.8Q378.8 145.5 463.53 92.01Z" fill="#DC143C" fill-opacity="0.9"/><path d="M470.34 104.75A100.2 100.2 0 0 1 470.7 105.57Q378.8 145.5 293.91 198.74A100.2 100.2 0 0 1 293.44 197.98Q378.8 145.5 470.34 104.75Z" fill="#0000FF" fill-opacity="0.9"/><path d="M282.14 119.1A100.2 100.2 0 0 1 282.31 118.47Q378.8 145.5 325.57 230.39A100.2 100.2 0 0 1 325.02 230.05Q378.8 145.5 282.14 119.1Z" fill="#FF7F50" fill-opacity="0.9"/><path d="M423.18 55.66A100.2 100.2 0 0 1 424.24 56.2Q378.8 145.5 462.17 201.08A100.2 100.2 0 0 1 461.51 202.06Q378.8 145.5 423.18 55.66Z" fill="#B03060" fill-opacity="0.9"/><path d="M309.13 73.48A100.2 100.2 0 0 1 309.69 72.95Q378.8 145.5 280.77 166.25A100.2 100.2 0 0 1 280.62 165.5Q378.8 145.5 309.13 73.48Z" fill="#FF1493" fill-opacity="0.9"/><path d="M375.81 45.34A100.2 100.2 0 0 1 376.4 45.33Q378.8 145.5 330.82 233.47A100.2 100.2 0 0 1 330.3 233.18Q378.8 145.5 375.81 45.34Z" fill="#3CB371" fill-opacity="0.9"/><path d="M436.8 63.8A100.2 100.2 0 0 1 437.25 64.11Q378.8 145.5 466.38 194.19A100.2 100.2 0 0 1 466.11 194.66Q378.8 145.5 436.8 63.8Z" fill="#FFFF00" fill-opacity="0.9"/><path d="M354.73 48.23A100.2 100.2 0 0 1 355.75 47.99Q378.8 145.5 424.17 234.84A100.2 100.2 0 0 1 423.23 235.31Q378.8 145.5 354.73 48.23Z" fill="#808000" fill-opacity="0.9"/><path d="M357.09 47.68A100.2 100.2 0 0 1 357.94 47.5Q378.8 145.5 471.58 183.34A100.2 100.2 0 0 1 471.25 184.14Q378.8 145.5 357.09 47.68Z" fill="#808000" fill-opacity="0.9"/><path d="M390.85 46.03A100.2 100.2 0 0 1 391.86 46.16Q378.8 145.5 284.8 180.2A100.2 100.2 0 0 1 284.45 179.24Q378.8 145.5 390.85 46.03Z" fill="#4682B4" fill-opacity="0.9"/><path d="M287.09 105.14A100.2 100.2 0 0 1 287.55 104.11Q378.8 145.5 422.36 235.74A100.2 100.2 0 0 1 421.33 236.23Q378.8 145.5 287.09 105.14Z" fill="#FF00FF" fill-opacity="0.9"/><path d="M366.58 46.05A100.2 100.2 0 0 1 367.51 45.94Q378.8 145.5 340.02 237.89A100.2 100.2 0 0 1 339.16 237.53Q378.8 145.5 366.58 46.05Z" fill="#483D8B" fill-opacity="0.9"/><path d="M476.33 122.54A100.2 100.2 0 0 1 476.56 123.52Q378.8 145.5 477.83 160.74A100.2 100.2 0 0 1 477.68 161.73Q378.8 145.5 476.33 122.54Z" fill="#1E90FF" fill-opacity="0.9"/><path d="M400.83 47.75A100.2 100.2 0 0 1 401.78 47.97Q378.8 145.5 344.43 239.62A100.2 100.2 0 0 1 343.52 239.28Q378.8 145.5 400.83 47.75Z" fill="#000080" fill-opacity="0.9"/><path d="M293.17 93.47A100.2 100.2 0 0 1 293.51 92.92Q378.8 145.5 456.68 208.54A100.2 100.2 0 0 1 456.27 209.05Q378.8 145.5 293.17 93.47Z" fill="#1E90FF" fill-opacity="0.9"/><path d="M420.42 54.35A100.2 100.2 0 0 1 421.29 54.75Q378.8 145.5 382.41 245.64A100.2 100.2 0 0 1 381.45 245.66Q378.8 145.5 420.42 54.35Z" fill="#B03060" fill-opacity="0.9"/><path d="M287.84 103.48A100.2 100.2 0 0 1 288.3 102.48Q378.8 145.5 405.01 242.21A100.2 100.2 0 0 1 403.95 242.49Q378.8 145.5 287.84 103.48Z" fill="#FF00FF" fill-opacity="0.9"/><path d="M344.86 51.22A100.2 100.2 0 0 1 345.5 50.99Q378.8 145.5 307.17 215.57A100.2 100.2 0 0 1 306.69 215.08Q378.8 145.5 344.86 51.22Z" fill="#006400" fill-opacity="0.9"/><path d="M427.73 58.06A100.2 100.2 0 0 1 428.31 58.39Q378.8 145.5 477.57 162.39A100.2 100.2 0 0 1 477.45 163.05Q378.8 145.5 427.73 58.06Z" fill="#FF0000" fill-opacity="0.9"/><path d="M338.26 53.87A100.2 100.2 0 0 1 338.99 53.55Q378.8 145.5 476.5 167.76A100.2 100.2 0 0 1 476.32 168.53Q378.8 145.5 338.26 53.87Z" fill="#8B4513" fill-opacity="0.9"/><path d="M291.74 95.89A100.2 100.2 0 0 1 292.22 95.06Q378.8 145.5 444.84 220.86A100.2 100.2 0 0 1 444.12 221.48Q378.8 145.5 291.74 95.89Z" fill="#1E90FF" fill-opacity="0.9"/><path d="M390.47 45.98A100.2 100.2 0 0 1 391.53 46.11Q378.8 145.5 340.59 238.13A100.2 100.2 0 0 1 339.61 237.72Q378.8 145.5 390.47 45.98Z" fill="#4682B4" fill-opacity="0.9"/><path d="M278.72 140.67A100.2 100.2 0 0 1 278.76 139.78Q378.8 145.5 427.5 233.07A100.2 100.2 0 0 1 426.72 233.5Q378.8 145.5 278.72 140.67Z" fill="#2F4F4F" fill-opacity="0.9"/><path d="M464.96 94.36A100.2 100.2 0 0 1 465.19 94.73Q378.8 145.5 284.19 178.49A100.2 100.2 0 0 1 284.04 178.07Q378.8 145.5 464.96 94.36Z" fill="#DC143C" fill-opacity="0.9"/><path d="M309.67 72.97A100.2 100.2 0 0 1 310.54 72.14Q378.8 145.5 339.85 237.82A100.2 100.2 0 0 1 338.75 237.35Q378.8 145.5 309.67 72.97Z" fill="#FF1493" fill-opacity="0.9"/><path d="M365.16 46.23A100.2 100.2 0 0 1 365.62 46.17Q378.8 145.5 278.86 152.75A100.2 100.2 0 0 1 278.83 152.28Q378.8 145.5 365.16 46.23Z" fill="#483D8B" fill-opacity="0.9"/><path d="M293.42 93.06A100.2 100.2 0 0 1 293.72 92.57Q378.8 145.5 412.22 239.96A100.2 100.2 0 0 1 411.67 240.15Q378.8 145.5 293.42 93.06Z" fill="#1E90FF" fill-opacity="0.9"/><path d="M463.34 91.72A100.2 100.2 0 0 1 463.87 92.56Q378.8 145.5 280.85 166.62A100.2 100.2 0 0 1 280.65 165.66Q378.8 145.5 463.34 91.72Z" fill="#DC143C" fill-opacity="0.9"/><path d="M420.61 54.44A100.2 100.2 0 0 1 421.13 54.68Q378.8 145.5 455.99 209.38A100.2 100.2 0 0 1 455.63 209.82Q378.8 145.5 420.61 54.44Z" fill="#B03060" fill-opacity="0.9"/><path d="M453.84 79.1A100.2 100.2 0 0 1 454.61 79.98Q378.8 145.5 313.11 221.16A100.2 100.2 0 0 1 312.23 220.39Q378.8 145.5 453.84 79.1Z" fill="#8A2BE2" fill-opacity="0.9"/><path d="M380.88 45.32A100.2 100.2 0 0 1 381.44 45.33Q378.8 145.5 308.27 216.68A100.2 100.2 0 0 1 307.87 216.28Q378.8 145.5 380.88 45.32Z" fill="#3CB371" fill-opacity="0.9"/><path d="M474.53 115.9A100.2 100.2 0 0 1 474.74 116.59Q378.8 145.5 358.2 243.56A100.2 100.2 0 0 1 357.5 243.41Q378.8 145.5 474.53 115.9Z" fill="#DA70D6" fill-opacity="0.9"/><path d="M404.96 48.77A100.2 100.2 0 0 1 405.41 48.9Q378.8 145.5 425.91 233.94A100.2 100.2 0 0 1 425.5 234.15Q378.8 145.5 404.96 48.77Z" fill="#000080" fill-opacity="0.9"/><path d="M437.04 63.96A100.2 100.2 0 0 1 437.96 64.63Q378.8 145.5 377.94 245.7A100.2 100.2 0 0 1 376.8 245.68Q378.8 145.5 437.04 63.96Z" fill="#FFFF00" fill-opacity="0.9"/><path d="M408.5 49.8A100.2 100.2 0 0 1 409.3 50.05Q378.8 145.5 436.5 227.42A100.2 100.2 0 0 1 435.81 227.9Q378.8 145.5 408.5 49.8Z" fill="#800080" fill-opacity="0.9"/><path d="M450.99 76.01A100.2 100.2 0 0 1 451.46 76.51Q378.8 145.5 444.38 221.25A100.2 100.2 0 0 1 443.86 221.7Q378.8 145.5 450.99 76.01Z" fill="#8A2BE2" fill-opacity="0.9"/><path d="M288.42 102.24A100.2 100.2 0 0 1 288.65 101.77Q378.8 145.5 355.04 242.84A100.2 100.2 0 0 1 354.53 242.72Q378.8 145.5 288.42 102.24Z" fill="#FF00FF" fill-opacity="0.9"/><path d="M447.23 72.3A100.2 100.2 0 0 1 447.99 73.02Q378.8 145.5 310.61 218.92A100.2 100.2 0 0 1 309.85 218.2Q378.8 145.5 447.23 72.3Z" fill="#00FF00" fill-opacity="0.9"/><path d="M475.1 117.82A100.2 100.2 0 0 1 475.4 118.88Q378.8 145.5 381.7 245.66A100.2 100.2 0 0 1 380.6 245.68Q378.8 145.5 475.1 117.82Z" fill="#DA70D6" fill-opacity="0.9"/><path d="M409.52 50.13A100.2 100.2 0 0 1 409.95 50.26Q378.8 145.5 374.96 245.63A100.2 100.2 0 0 1 374.51 245.61Q378.8 145.5 409.52 50.13Z" fill="#800080" fill-opacity="0.9"/><path d="M360.52 46.98A100.2 100.2 0 0 1 361.34 46.83Q378.8 145.5 475 173.53A100.2 100.2 0 0 1 474.77 174.32Q378.8 145.5 360.52 46.98Z" fill="#808000" fill-opacity="0.9"/><path d="M365.02 46.25A100.2 100.2 0 0 1 365.75 46.15Q378.8 145.5 278.88 153.03A100.2 100.2 0 0 1 278.83 152.29Q378.8 145.5 365.02 46.25Z" fill="#483D8B" fill-opacity="0.9"/><path d="M334.26 55.74A100.2 100.2 0 0 1 334.79 55.48Q378.8 145.5 322.01 228.05A100.2 100.2 0 0 1 321.53 227.72Q378.8 145.5 334.26 55.74Z" fill="#8B4513" fill-opacity="0.9"/><path d="M346.5 50.65A100.2 100.2 0 0 1 346.92 50.51Q378.8 145.5 475.03 173.43A100.2 100.2 0 0 1 474.91 173.85Q378.8 145.5 346.5 50.65Z" fill="#006400" fill-opacity="0.9"/><path d="M322.67 62.49A100.2 100.2 0 0 1 323.28 62.09Q378.8 145.5 468.53 190.09A100.2 100.2 0 0 1 468.2 190.74Q378.8 145.5 322.67 62.49Z" fill="#FFB6C1" fill-opacity="0.9"/><path d="M470.36 104.8A100.2 100.2 0 0 1 470.56 105.24Q378.8 145.5 380.43 245.69A100.2 100.2 0 0 1 379.95 245.69Q378.8 145.5 470.36 104.8Z" fill="#0000FF" fill-opacity="0.9"/><path d="M400.33 47.64A100.2 100.2 0 0 1 401.2 47.84Q378.8 145.5 287.59 186.98A100.2 100.2 0 0 1 287.23 186.17Q378.8 145.5 400.33 47.64Z" fill="#000080" fill-opacity="0.9"/><path d="M344.66 51.3A100.2 100.2 0 0 1 345.28 51.07Q378.8 145.5 455.83 209.58A100.2 100.2 0 0 1 455.4 210.09Q378.8 145.5 344.66 51.3Z" fill="#006400" fill-opacity="0.9"/><path d="M365.04 46.25A100.2 100.2 0 0 1 365.68 46.16Q378.8 145.5 280.61 165.48A100.2 100.2 0 0 1 280.48 164.84Q378.8 145.5 365.04 46.25Z" fill="#483D8B" fill-opacity="0.9"/><path d="M358.96 47.28A100.2 100.2 0 0 1 359.58 47.16Q378.8 145.5 434.06 229.09A100.2 100.2 0 0 1 433.53 229.43Q378.8 145.5 358.96 47.28Z" fill="#808000" fill-opacity="0.9"/><path d="M437.93 64.6A100.2 100.2 0 0 1 438.33 64.9Q378.8 145.5 443.63 221.9A100.2 100.2 0 0 1 443.25 222.22Q378.8 145.5 437.93 64.6Z" fill="#FFFF00" fill-opacity="0.9"/><path d="M413.64 51.55A100.2 100.2 0 0 1 414.16 51.75Q378.8 145.5 279.69 160.26A100.2 100.2 0 0 1 279.61 159.71Q378.8 145.5 413.64 51.55Z" fill="#800080" fill-opacity="0.9"/><path d="M401.38 47.88A100.2 100.2 0 0 1 402.2 48.07Q378.8 145.5 291.42 194.54A100.2 100.2 0 0 1 291.01 193.8Q378.8 145.5 401.38 47.88Z" fill="#000080" fill-opacity="0.9"/><path d="M288.87 101.32A100.2 100.2 0 0 1 289.11 100.83Q378.8 145.5 418.68 237.42A100.2 100.2 0 0 1 418.18 237.64Q378.8 145.5 288.87 101.32Z" fill="#FF00FF" fill-opacity="0.9"/><path d="M290.99 97.23A100.2 100.2 0 0 1 295.93 89.18Q378.8 145.5 401.17 243.17A100.2 100.2 0 0 1 387.71 245.3Q378.8 145.5 290.99 97.23Z" fill="#1E90FF"/><path d="M332.07 56.86A100.2 100.2 0 0 1 340.37 52.96Q378.8 145.5 479 144.94A100.2 100.2 0 0 1 478.6 154.41Q378.8 145.5 332.07 56.86Z" fill="#8B4513"/><path d="M276.8 145.5A102 102 0 0 1 277.41 134.4" fill="none" stroke="#7d7680" stroke-width="0.7"/><path d="M277.68 132.1A102 102 0 0 1 279.6 121.78" fill="none" stroke="#7d7680" stroke-width="0.7"/><path d="M280.16 119.53A102 102 0 0 1 283.32 109.61" fill="none" stroke="#7d7680" stroke-width="0.7"/><path d="M284.16 107.46A102 102 0 0 1 288.32 98.4" fill="none" stroke="#7d7680" stroke-width="0.7"/><path d="M289.42 96.36A102 102 0 0 1 294.44 88.17" fill="none" stroke="#7d7680" stroke-width="0.7"/><path d="M295.76 86.27A102 102 0 0 1 301.94 78.45" fill="none" stroke="#7d7680" stroke-width="0.7"/><path d="M303.48 76.72A102 102 0 0 1 310.22 70" fill="none" stroke="#7d7680" stroke-width="0.7"/><path d="M311.95 68.46A102 102 0 0 1 319.28 62.67" fill="none" stroke="#7d7680" stroke-width="0.7"/><path d="M321.17 61.34A102 102 0 0 1 329.19 56.38" fill="none" stroke="#7d7680" stroke-width="0.7"/><path d="M331.23 55.27A102 102 0 0 1 339.68 51.3" fill="none" stroke="#7d7680" stroke-width="0.7"/><path d="M341.83 50.44A102 102 0 0 1 350.86 47.4" fill="none" stroke="#7d7680" stroke-width="0.7"/><path d="M353.09 46.79A102 102 0 0 1 362.14 44.87" fill="none" stroke="#7d7680" stroke-width="0.7"/><path d="M364.43 44.52A102 102 0 0 1 373.28 43.65" fill="none" stroke="#7d7680" stroke-width="0.7"/><path d="M375.6 43.55A102 102 0 0 1 384.67 43.67" fill="none" stroke="#7d7680" stroke-width="0.7"/><path d="M386.98 43.83A102 102 0 0 1 395.72 44.91" fill="none" stroke="#7d7680" stroke-width="0.7"/><path d="M398 45.32A102 102 0 0 1 406.14 47.23" fill="none" stroke="#7d7680" stroke-width="0.7"/><path d="M408.37 47.88A102 102 0 0 1 416.18 50.6" fill="none" stroke="#7d7680" stroke-width="0.7"/><path d="M418.33 51.47A102 102 0 0 1 425.9 55.02" fill="none" stroke="#7d7680" stroke-width="0.7"/><path d="M427.94 56.12A102 102 0 0 1 434.65 60.15" fill="none" stroke="#7d7680" stroke-width="0.7"/><path d="M436.57 61.44A102 102 0 0 1 442.3 65.67" fill="none" stroke="#7d7680" stroke-width="0.7"/><path d="M444.09 67.14A102 102 0 0 1 449.72 72.19" fill="none" stroke="#7d7680" stroke-width="0.7"/><path d="M451.36 73.82A102 102 0 0 1 456.42 79.32" fill="none" stroke="#7d7680" stroke-width="0.7"/><path d="M457.9 81.1A102 102 0 0 1 462.15 86.7" fill="none" stroke="#7d7680" stroke-width="0.7"/><path d="M463.46 88.61A102 102 0 0 1 466.91 94.12" fill="none" stroke="#7d7680" stroke-width="0.7"/><path d="M468.05 96.13A102 102 0 0 1 470.55 100.95" fill="none" stroke="#7d7680" stroke-width="0.7"/><path d="M471.54 103.04A102 102 0 0 1 473.34 107.21" fill="none" stroke="#7d7680" stroke-width="0.7"/><path d="M474.18 109.36A102 102 0 0 1 475.42 112.8" fill="none" stroke="#7d7680" stroke-width="0.7"/><path d="M476.13 115A102 102 0 0 1 477.37 119.27" fill="none" stroke="#7d7680" stroke-width="0.7"/><path d="M477.94 121.52A102 102 0 0 1 479.83 131.48" fill="none" stroke="#7d7680" stroke-width="0.7"/><path d="M279.94 170.61A102 102 0 0 1 276.84 148.26" fill="none" stroke="#7d7680" stroke-width="0.7"/><path d="M287.72 191.41A102 102 0 0 1 280.53 172.84" fill="none" stroke="#7d7680" stroke-width="0.7"/><path d="M299.59 209.76A102 102 0 0 1 288.78 193.46" fill="none" stroke="#7d7680" stroke-width="0.7"/><path d="M315.3 225.33A102 102 0 0 1 301.07 211.54" fill="none" stroke="#7d7680" stroke-width="0.7"/><path d="M332.65 236.46A102 102 0 0 1 317.13 226.75" fill="none" stroke="#7d7680" stroke-width="0.7"/><path d="M350.09 243.38A102 102 0 0 1 334.73 237.49" fill="none" stroke="#7d7680" stroke-width="0.7"/><path d="M367.96 246.92A102 102 0 0 1 352.31 244" fill="none" stroke="#7d7680" stroke-width="0.7"/><path d="M385.56 247.28A102 102 0 0 1 370.26 247.14" fill="none" stroke="#7d7680" stroke-width="0.7"/><path d="M401.57 244.93A102 102 0 0 1 387.87 247.1" fill="none" stroke="#7d7680" stroke-width="0.7"/><path d="M416.27 240.37A102 102 0 0 1 403.82 244.38" fill="none" stroke="#7d7680" stroke-width="0.7"/><path d="M430.03 233.7A102 102 0 0 1 418.41 239.5" fill="none" stroke="#7d7680" stroke-width="0.7"/><path d="M441.95 225.6A102 102 0 0 1 432.02 232.52" fill="none" stroke="#7d7680" stroke-width="0.7"/><path d="M452.17 216.36A102 102 0 0 1 443.75 224.15" fill="none" stroke="#7d7680" stroke-width="0.7"/><path d="M461.21 205.6A102 102 0 0 1 453.76 214.67" fill="none" stroke="#7d7680" stroke-width="0.7"/><path d="M468.35 194.33A102 102 0 0 1 462.56 203.71" fill="none" stroke="#7d7680" stroke-width="0.7"/><path d="M473.7 182.88A102 102 0 0 1 469.44 192.28" fill="none" stroke="#7d7680" stroke-width="0.7"/><path d="M477.39 171.64A102 102 0 0 1 474.53 180.72" fill="none" stroke="#7d7680" stroke-width="0.7"/><path d="M480.16 156.87A102 102 0 0 1 477.96 169.4" fill="none" stroke="#7d7680" stroke-width="0.7"/><path d="M480.2 134.48A102 102 0 0 1 480.4 154.57" fill="none" stroke="#7d7680" stroke-width="0.7"/><path d="M276.8 145.5L275.5 145.5M276.83 142.83L275.54 142.8M276.94 140.16L275.64 140.09M277.11 137.5L275.82 137.4M277.36 134.84L276.07 134.7M277.68 132.1L276.4 131.93M278.07 129.46L276.79 129.25M278.52 126.82L277.25 126.59M279.05 124.21L277.78 123.93M280.16 119.53L278.9 119.2M280.87 116.96L279.63 116.59M281.66 114.4L280.42 114.01M282.5 111.87L281.28 111.44M284.16 107.46L282.95 106.97M285.19 104.99L284 104.47M286.28 102.55L285.1 102.01M287.44 100.15L286.27 99.57M289.42 96.36L288.28 95.73M290.73 94.04L289.61 93.38M292.11 91.75L291.01 91.07M293.55 89.5L292.46 88.79M295.76 86.27L294.7 85.51M297.34 84.11L296.3 83.33M298.97 82L297.96 81.19M300.66 79.94L299.67 79.1M303.48 76.72L302.52 75.84M305.3 74.77L304.37 73.87M307.18 72.87L306.27 71.95M309.11 71.02L308.22 70.07M311.95 68.46L311.1 67.48M313.99 66.74L313.16 65.73M316.07 65.07L315.27 64.04M318.2 63.45L317.43 62.41M321.17 61.34L320.44 60.27M323.4 59.86L322.69 58.77M325.66 58.44L324.98 57.33M327.95 57.08L327.31 55.95M331.23 55.27L330.62 54.12M333.61 54.06L333.03 52.89M336.02 52.91L335.47 51.73M338.45 51.82L337.94 50.62M341.83 50.44L341.36 49.22M344.33 49.5L343.89 48.28M346.86 48.63L346.45 47.4M349.4 47.83L349.03 46.58M353.09 46.79L352.76 45.54M355.68 46.15L355.39 44.89M358.29 45.58L358.03 44.31M360.91 45.08L360.68 43.8M364.43 44.52L364.24 43.23M367.08 44.18L366.93 42.88M369.73 43.9L369.62 42.61M372.4 43.7L372.31 42.4M375.6 43.55L375.56 42.25M378.27 43.5L378.26 42.2M380.94 43.52L380.96 42.22M383.6 43.61L383.67 42.31M386.98 43.83L387.08 42.53M389.64 44.08L389.78 42.78M392.29 44.4L392.46 43.11M394.93 44.78L395.14 43.5M398 45.32L398.25 44.05M400.62 45.86L400.89 44.59M403.22 46.47L403.53 45.2M405.8 47.14L406.15 45.89M408.37 47.88L408.74 46.63M410.91 48.69L411.32 47.45M413.44 49.56L413.88 48.34M415.93 50.5L416.41 49.29M418.33 51.47L418.83 50.27M420.77 52.54L421.31 51.35M423.19 53.67L423.76 52.5M425.58 54.86L426.18 53.71M427.94 56.12L428.57 54.98M430.26 57.43L430.92 56.31M432.55 58.81L433.23 57.71M436.57 61.44L437.31 60.37M438.75 62.98L439.52 61.93M440.89 64.58L441.69 63.55M444.09 67.14L444.92 66.14M446.12 68.87L446.98 67.89M448.1 70.66L448.99 69.71M451.36 73.82L452.29 72.9M453.22 75.74L454.16 74.85M455.02 77.71L455.99 76.85M457.9 81.1L458.91 80.28M459.56 83.19L460.59 82.4M461.16 85.33L462.21 84.56M463.46 88.61L464.54 87.88M464.92 90.85L466.02 90.15M466.32 93.12L467.44 92.45M468.05 96.13L469.19 95.5M469.32 98.48L470.47 97.88M470.52 100.87L471.68 100.3M471.54 103.04L472.72 102.5M472.62 105.48L473.82 104.97M474.18 109.36L475.4 108.9M475.1 111.87L476.32 111.44M476.13 115L477.37 114.61M476.9 117.56L478.15 117.2M477.94 121.52L479.2 121.21M478.53 124.12L479.81 123.85M479.06 126.74L480.34 126.5M479.52 129.37L480.8 129.16M279.94 170.61L278.68 170.93M279.32 168.01L278.05 168.3M278.76 165.4L277.48 165.65M278.27 162.77L276.99 162.99M277.86 160.14L276.57 160.32M277.51 157.49L276.22 157.64M277.23 154.83L275.93 154.95M277.02 152.17L275.72 152.26M276.88 149.5L275.58 149.56M287.72 191.41L286.56 192M286.55 189.01L285.37 189.56M285.44 186.58L284.25 187.1M284.39 184.12L283.19 184.61M283.42 181.64L282.2 182.1M282.5 179.13L281.28 179.56M281.66 176.6L280.42 176.99M280.87 174.04L279.63 174.41M299.59 209.76L298.58 210.58M297.93 207.66L296.9 208.46M296.33 205.53L295.28 206.29M294.79 203.35L293.72 204.08M293.3 201.13L292.21 201.84M291.88 198.87L290.77 199.55M290.51 196.58L289.38 197.23M289.2 194.25L288.06 194.87M315.3 225.33L314.49 226.34M313.24 223.64L312.4 224.63M311.21 221.89L310.35 222.87M309.24 220.1L308.35 221.05M307.31 218.25L306.4 219.18M305.43 216.36L304.49 217.26M303.6 214.41L302.64 215.29M301.82 212.42L300.84 213.27M332.65 236.46L332.06 237.62M330.29 235.22L329.67 236.37M327.95 233.92L327.31 235.05M325.66 232.56L324.98 233.67M323.4 231.14L322.69 232.23M321.17 229.66L320.44 230.73M318.99 228.12L318.23 229.18M350.09 243.38L349.72 244.62M347.53 242.59L347.14 243.83M345 241.74L344.57 242.96M342.5 240.82L342.03 242.04M340.01 239.84L339.52 241.04M337.56 238.79L337.03 239.98M335.13 237.68L334.57 238.85M367.96 246.92L367.82 248.22M365.31 246.6L365.14 247.89M362.67 246.22L362.46 247.5M360.04 245.76L359.8 247.04M357.42 245.23L357.15 246.51M354.82 244.64L354.51 245.9M385.56 247.28L385.65 248.57M382.89 247.42L382.95 248.72M380.22 247.49L380.24 248.79M377.55 247.49L377.54 248.79M374.88 247.42L374.83 248.72M372.22 247.29L372.13 248.58M401.57 244.93L401.86 246.19M398.96 245.49L399.22 246.76M396.34 245.98L396.56 247.26M393.7 246.41L393.89 247.69M391.05 246.76L391.21 248.05M388.4 247.05L388.52 248.34M416.27 240.37L416.74 241.58M413.77 241.32L414.22 242.54M411.25 242.2L411.66 243.43M408.71 243.02L409.09 244.26M406.14 243.77L406.49 245.02M430.03 233.7L430.68 234.82M427.7 235.01L428.33 236.15M425.34 236.26L425.94 237.42M422.95 237.45L423.52 238.62M420.53 238.57L421.06 239.76M441.95 225.6L442.75 226.62M439.83 227.23L440.61 228.27M437.67 228.8L438.42 229.86M435.47 230.31L436.19 231.39M433.23 231.76L433.92 232.86M452.17 216.36L453.11 217.26M450.29 218.25L451.2 219.18M448.36 220.1L449.25 221.05M446.39 221.89L447.25 222.87M444.36 223.64L445.2 224.63M461.21 205.6L462.27 206.36M459.61 207.73L460.64 208.53M457.96 209.83L458.97 210.65M456.25 211.88L457.23 212.72M454.48 213.88L455.45 214.76M468.35 194.33L469.5 194.95M467.05 196.65L468.17 197.31M465.68 198.95L466.78 199.63M464.25 201.2L465.34 201.91M462.76 203.42L463.83 204.16M473.7 182.88L474.91 183.36M472.69 185.35L473.89 185.86M471.62 187.8L472.8 188.34M470.48 190.21L471.65 190.78M477.39 171.64L478.65 171.97M476.68 174.21L477.92 174.58M475.89 176.77L477.13 177.16M475.04 179.3L476.26 179.73M480.16 156.87L481.46 157.01M479.83 159.52L481.12 159.7M479.43 162.16L480.71 162.37M478.96 164.79L480.24 165.03M478.42 167.4L479.69 167.68M480.2 134.48L481.5 134.34M480.46 137.14L481.75 137.04M480.64 139.81L481.94 139.73M480.76 142.47L482.05 142.44M480.8 145.14L482.1 145.14M480.77 147.81L482.07 147.84M480.68 150.48L481.98 150.55M480.51 153.15L481.81 153.25" stroke="#8a8490" stroke-width="0.4" fill="none"/><text x="270.57" y="141.55" transform="rotate(273.2 270.57 139.75)">1</text><text x="272.25" y="127.66" transform="rotate(280.6 272.25 125.86)">2</text><text x="275.47" y="114.82" transform="rotate(287.6 275.47 113.02)">3</text><text x="280.48" y="101.96" transform="rotate(294.9 280.48 100.16)">4</text><text x="286.28" y="91.12" transform="rotate(301.4 286.28 89.32)">5</text><text x="293.73" y="80.42" transform="rotate(308.3 293.73 78.62)">6</text><text x="302.42" y="70.68" transform="rotate(315.2 302.42 68.88)">7</text><text x="311.47" y="62.65" transform="rotate(321.6 311.47 60.85)">8</text><text x="321.84" y="55.37" transform="rotate(328.3 321.84 53.57)">9</text><text x="332.65" y="49.52" transform="rotate(334.8 332.65 47.72)">10</text><text x="344.22" y="44.86" transform="rotate(341.4 344.22 43.06)">11</text><text x="356.45" y="41.53" transform="rotate(348.1 356.45 39.73)">12</text><text x="368.22" y="39.72" transform="rotate(354.4 368.22 37.92)">13</text><text x="380.12" y="39.21" transform="rotate(0.7 380.12 37.41)">14</text><text x="392.39" y="40.05" transform="rotate(7.2 392.39 38.25)">15</text><text x="403.55" y="42.06" transform="rotate(13.2 403.55 40.26)">16</text><text x="414.45" y="45.23" transform="rotate(19.2 414.45 43.43)">17</text><text x="424.78" y="49.44" transform="rotate(25.1 424.78 47.64)">18</text><text x="434.95" y="54.88" transform="rotate(31.2 434.95 53.08)">19</text><text x="443.28" y="60.46" transform="rotate(36.5 443.28 58.66)">20</text><text x="451.05" y="66.79" transform="rotate(41.8 451.05 64.99)">21</text><text x="458.85" y="74.51" transform="rotate(47.6 458.85 72.71)">22</text><text x="465.14" y="82.06" transform="rotate(52.8 465.14 80.26)">23</text><text x="470.83" y="90.32" transform="rotate(58.1 470.83 88.52)">24</text><text x="475.13" y="97.88" transform="rotate(62.7 475.13 96.08)">25</text><text x="478.43" y="104.9" transform="rotate(66.8 478.43 103.1)">26</text><text x="480.92" y="111.24" transform="rotate(70.4 480.92 109.44)">27</text><text x="482.74" y="116.81" transform="rotate(73.5 482.74 115.01)">28</text><text x="484.83" y="125.06" transform="rotate(78 484.83 123.26)">Z</text><text x="271.59" y="163.62" transform="rotate(81.5 271.59 161.82)">1</text><text x="277.8" y="186.98" transform="rotate(68.7 277.8 185.18)">2</text><text x="288.41" y="207.43" transform="rotate(56.5 288.41 205.63)">3</text><text x="303.36" y="225.44" transform="rotate(44.1 303.36 223.64)">4</text><text x="322" y="239.93" transform="rotate(31.6 322 238.13)">5</text><text x="340.13" y="248.87" transform="rotate(20.9 340.13 247.07)">6</text><text x="359.05" y="254.18" transform="rotate(10.5 359.05 252.38)">7</text><text x="378.04" y="256" transform="rotate(0.4 378.04 254.2)">8</text><text x="396.32" y="254.58" transform="rotate(-9.3 396.32 252.78)">9</text><text x="411.94" y="250.81" transform="rotate(-17.8 411.94 249.01)">10</text><text x="427.34" y="244.53" transform="rotate(-26.6 427.34 242.73)">11</text><text x="440.98" y="236.4" transform="rotate(-35 440.98 234.6)">12</text><text x="452.45" y="227.14" transform="rotate(-42.8 452.45 225.34)">13</text><text x="462.44" y="216.55" transform="rotate(-50.5 462.44 214.75)">14</text><text x="471.32" y="204.08" transform="rotate(-58.6 471.32 202.28)">15</text><text x="477.44" y="192.55" transform="rotate(-65.5 477.44 190.75)">16</text><text x="482.35" y="179.65" transform="rotate(-72.8 482.35 177.85)">17</text><text x="485.14" y="168.66" transform="rotate(-78.8 485.14 166.86)">18</text><text x="487.2" y="148.17" transform="rotate(-89.7 487.2 146.37)">Z</text><path d="M261.46 140.16A117.9 117.9 0 0 1 495.06 123.21" fill="none" stroke="#F80000" stroke-width="3.5"/><path d="M497.15 145.3A117.9 117.9 0 0 1 262.36 160.69" fill="none" stroke="#1E88F5" stroke-width="3.5"/></g>
<g><path d="M357.91 400.7A99.9 99.9 0 0 1 357.99 401.51Q258.6 411.55 231.95 507.83A99.9 99.9 0 0 1 231.17 507.61Q258.6 411.55 357.91 400.7Z" fill="#0000FF" fill-opacity="0.9"/><path d="M358.04 401.99A99.9 99.9 0 0 1 358.11 402.78Q258.6 411.55 305.94 499.52A99.9 99.9 0 0 1 305.24 499.89Q258.6 411.55 358.04 401.99Z" fill="#0000FF" fill-opacity="0.9"/><path d="M179.62 350.38A99.9 99.9 0 0 1 179.96 349.94Q258.6 411.55 160.7 431.42A99.9 99.9 0 0 1 160.59 430.88Q258.6 411.55 179.62 350.38Z" fill="#1E90FF" fill-opacity="0.9"/><path d="M358.39 406.84A99.9 99.9 0 0 1 358.43 407.79Q258.6 411.55 336.65 473.91A99.9 99.9 0 0 1 336.05 474.65Q258.6 411.55 358.39 406.84Z" fill="#ADFF2F" fill-opacity="0.9"/><path d="M358.37 406.47A99.9 99.9 0 0 1 358.39 406.93Q258.6 411.55 228.2 506.71A99.9 99.9 0 0 1 227.76 506.57Q258.6 411.55 358.37 406.47Z" fill="#ADFF2F" fill-opacity="0.9"/><path d="M245.14 312.56A99.9 99.9 0 0 1 245.99 312.45Q258.6 411.55 253.71 511.33A99.9 99.9 0 0 1 252.85 511.28Q258.6 411.55 245.14 312.56Z" fill="#006400" fill-opacity="0.9"/><path d="M357.28 396.01A99.9 99.9 0 0 1 357.42 396.92Q258.6 411.55 209.21 498.39A99.9 99.9 0 0 1 208.42 497.93Q258.6 411.55 357.28 396.01Z" fill="#00FFFF" fill-opacity="0.9"/><path d="M335.21 347.43A99.9 99.9 0 0 1 335.77 348.11Q258.6 411.55 184.92 479.01A99.9 99.9 0 0 1 184.33 478.37Q258.6 411.55 335.21 347.43Z" fill="#FFFF00" fill-opacity="0.9"/><path d="M357.88 400.41A99.9 99.9 0 0 1 358 401.53Q258.6 411.55 181.55 475.14A99.9 99.9 0 0 1 180.84 474.27Q258.6 411.55 357.88 400.41Z" fill="#0000FF" fill-opacity="0.9"/><path d="M167.5 370.55A99.9 99.9 0 0 1 167.83 369.83Q258.6 411.55 344.25 462.97A99.9 99.9 0 0 1 343.84 463.64Q258.6 411.55 167.5 370.55Z" fill="#FF00FF" fill-opacity="0.9"/><path d="M239.61 313.47A99.9 99.9 0 0 1 240.5 313.3Q258.6 411.55 341.84 466.78A99.9 99.9 0 0 1 341.34 467.54Q258.6 411.55 239.61 313.47Z" fill="#006400" fill-opacity="0.9"/><path d="M215.42 321.46A99.9 99.9 0 0 1 216.45 320.98Q258.6 411.55 348.37 455.39A99.9 99.9 0 0 1 347.86 456.41Q258.6 411.55 215.42 321.46Z" fill="#FFB6C1" fill-opacity="0.9"/><path d="M267.61 312.06A99.9 99.9 0 0 1 268.29 312.12Q258.6 411.55 328.13 483.29A99.9 99.9 0 0 1 327.63 483.76Q258.6 411.55 267.61 312.06Z" fill="#483D8B" fill-opacity="0.9"/><path d="M226.97 316.79A99.9 99.9 0 0 1 228.05 316.44Q258.6 411.55 187.19 481.41A99.9 99.9 0 0 1 186.4 480.59Q258.6 411.55 226.97 316.79Z" fill="#8B4513" fill-opacity="0.9"/><path d="M267.65 312.06A99.9 99.9 0 0 1 268.22 312.11Q258.6 411.55 334.81 476.15A99.9 99.9 0 0 1 334.44 476.58Q258.6 411.55 267.65 312.06Z" fill="#483D8B" fill-opacity="0.9"/><path d="M308.25 324.86A99.9 99.9 0 0 1 308.86 325.21Q258.6 411.55 307.76 498.52A99.9 99.9 0 0 1 307.15 498.86Q258.6 411.55 308.25 324.86Z" fill="#800080" fill-opacity="0.9"/><path d="M158.81 406.76A99.9 99.9 0 0 1 158.86 405.89Q258.6 411.55 280.93 508.92A99.9 99.9 0 0 1 280.08 509.11Q258.6 411.55 158.81 406.76Z" fill="#2F4F4F" fill-opacity="0.9"/><path d="M333.91 345.92A99.9 99.9 0 0 1 334.46 346.55Q258.6 411.55 277.53 509.64A99.9 99.9 0 0 1 276.7 509.8Q258.6 411.55 333.91 345.92Z" fill="#FFFF00" fill-opacity="0.9"/><path d="M358.07 420.85A99.9 99.9 0 0 1 358.02 421.35Q258.6 411.55 189.31 483.52A99.9 99.9 0 0 1 188.95 483.17Q258.6 411.55 358.07 420.85Z" fill="#1E90FF" fill-opacity="0.9"/><path d="M266.09 311.93A99.9 99.9 0 0 1 266.94 312Q258.6 411.55 198.54 491.38A99.9 99.9 0 0 1 197.86 490.86Q258.6 411.55 266.09 311.93Z" fill="#483D8B" fill-opacity="0.9"/><path d="M215.27 321.54A99.9 99.9 0 0 1 216.23 321.08Q258.6 411.55 167.21 451.9A99.9 99.9 0 0 1 166.79 450.92Q258.6 411.55 215.27 321.54Z" fill="#FFB6C1" fill-opacity="0.9"/><path d="M158.71 410.51A99.9 99.9 0 0 1 158.72 409.45Q258.6 411.55 176.28 468.15A99.9 99.9 0 0 1 175.68 467.27Q258.6 411.55 158.71 410.51Z" fill="#2F4F4F" fill-opacity="0.9"/><path d="M222.29 318.48A99.9 99.9 0 0 1 222.83 318.28Q258.6 411.55 165.48 447.74A99.9 99.9 0 0 1 165.28 447.2Q258.6 411.55 222.29 318.48Z" fill="#FFB6C1" fill-opacity="0.9"/><path d="M220.51 319.2A99.9 99.9 0 0 1 220.92 319.03Q258.6 411.55 165 446.47A99.9 99.9 0 0 1 164.85 446.05Q258.6 411.55 220.51 319.2Z" fill="#FFB6C1" fill-opacity="0.9"/><path d="M297.99 319.74A99.9 99.9 0 0 1 299.06 320.21Q258.6 411.55 247.73 510.86A99.9 99.9 0 0 1 246.57 510.72Q258.6 411.55 297.99 319.74Z" fill="#000080" fill-opacity="0.9"/><path d="M299.94 320.61A99.9 99.9 0 0 1 300.93 321.06Q258.6 411.55 348.61 454.89A99.9 99.9 0 0 1 348.13 455.87Q258.6 411.55 299.94 320.61Z" fill="#000080" fill-opacity="0.9"/><path d="M210.09 324.22A99.9 99.9 0 0 1 210.61 323.93Q258.6 411.55 287.99 507.03A99.9 99.9 0 0 1 287.43 507.2Q258.6 411.55 210.09 324.22Z" fill="#FFDEAD" fill-opacity="0.9"/><path d="M279.44 313.85A99.9 99.9 0 0 1 279.9 313.95Q258.6 411.55 211.68 499.75A99.9 99.9 0 0 1 211.26 499.52Q258.6 411.55 279.44 313.85Z" fill="#3CB371" fill-opacity="0.9"/><path d="M226 317.12A99.9 99.9 0 0 1 226.93 316.8Q258.6 411.55 240 509.7A99.9 99.9 0 0 1 239.04 509.52Q258.6 411.55 226 317.12Z" fill="#8B4513" fill-opacity="0.9"/><path d="M158.77 407.88A99.9 99.9 0 0 1 158.8 407.16Q258.6 411.55 264.02 511.3A99.9 99.9 0 0 1 263.3 511.34Q258.6 411.55 158.77 407.88Z" fill="#2F4F4F" fill-opacity="0.9"/><path d="M159.96 395.76A99.9 99.9 0 0 1 160.05 395.16Q258.6 411.55 270.64 510.72A99.9 99.9 0 0 1 270.03 510.79Q258.6 411.55 159.96 395.76Z" fill="#FFA500" fill-opacity="0.9"/><path d="M215.86 321.26A99.9 99.9 0 0 1 216.72 320.85Q258.6 411.55 343.82 463.69A99.9 99.9 0 0 1 343.32 464.49Q258.6 411.55 215.86 321.26Z" fill="#FFB6C1" fill-opacity="0.9"/><path d="M358.43 407.9A99.9 99.9 0 0 1 358.45 408.45Q258.6 411.55 172.19 461.68A99.9 99.9 0 0 1 171.91 461.2Q258.6 411.55 358.43 407.9Z" fill="#ADFF2F" fill-opacity="0.9"/><path d="M344.19 360.02A99.9 99.9 0 0 1 344.44 360.45Q258.6 411.55 248.04 510.89A99.9 99.9 0 0 1 247.54 510.84Q258.6 411.55 344.19 360.02Z" fill="#00FF00" fill-opacity="0.9"/><path d="M357.51 425.56A99.9 99.9 0 0 1 357.36 426.58Q258.6 411.55 309.31 497.62A99.9 99.9 0 0 1 308.42 498.14Q258.6 411.55 357.51 425.56Z" fill="#1E90FF" fill-opacity="0.9"/><path d="M337.85 350.73A99.9 99.9 0 0 1 338.14 351.11Q258.6 411.55 203.38 494.8A99.9 99.9 0 0 1 202.99 494.54Q258.6 411.55 337.85 350.73Z" fill="#FFFF00" fill-opacity="0.9"/><path d="M357.99 401.46A99.9 99.9 0 0 1 358.09 402.54Q258.6 411.55 161.05 433.08A99.9 99.9 0 0 1 160.82 432.02Q258.6 411.55 357.99 401.46Z" fill="#0000FF" fill-opacity="0.9"/><path d="M267.09 312.01A99.9 99.9 0 0 1 267.96 312.09Q258.6 411.55 329.43 482A99.9 99.9 0 0 1 328.81 482.62Q258.6 411.55 267.09 312.01Z" fill="#483D8B" fill-opacity="0.9"/><path d="M303.12 322.12A99.9 99.9 0 0 1 303.51 322.32Q258.6 411.55 261.28 511.41A99.9 99.9 0 0 1 260.84 511.42Q258.6 411.55 303.12 322.12Z" fill="#000080" fill-opacity="0.9"/><path d="M316.36 330.04A99.9 99.9 0 0 1 317.14 330.6Q258.6 411.55 175.21 466.55A99.9 99.9 0 0 1 174.68 465.75Q258.6 411.55 316.36 330.04Z" fill="#B03060" fill-opacity="0.9"/><path d="M165.24 375.99A99.9 99.9 0 0 1 165.46 375.41Q258.6 411.55 255.42 511.4A99.9 99.9 0 0 1 254.8 511.38Q258.6 411.55 165.24 375.99Z" fill="#FF7F50" fill-opacity="0.9"/><path d="M285.75 315.41A99.9 99.9 0 0 1 286.81 315.71Q258.6 411.55 338.43 471.61A99.9 99.9 0 0 1 337.76 472.49Q258.6 411.55 285.75 315.41Z" fill="#4682B4" fill-opacity="0.9"/><path d="M159.9 396.14A99.9 99.9 0 0 1 159.97 395.65Q258.6 411.55 225.1 505.67A99.9 99.9 0 0 1 224.63 505.5Q258.6 411.55 159.9 396.14Z" fill="#FFA500" fill-opacity="0.9"/><path d="M168.73 367.92A99.9 99.9 0 0 1 169.16 367.06Q258.6 411.55 228.63 506.85A99.9 99.9 0 0 1 227.71 506.55Q258.6 411.55 168.73 367.92Z" fill="#FF00FF" fill-opacity="0.9"/><path d="M290.01 316.72A99.9 99.9 0 0 1 291.17 317.11Q258.6 411.55 182.84 476.67A99.9 99.9 0 0 1 182.05 475.74Q258.6 411.55 290.01 316.72Z" fill="#4682B4" fill-opacity="0.9"/><path d="M222.39 318.44A99.9 99.9 0 0 1 222.95 318.23Q258.6 411.55 306.82 499.04A99.9 99.9 0 0 1 306.29 499.33Q258.6 411.55 222.39 318.44Z" fill="#FFB6C1" fill-opacity="0.9"/><path d="M176.19 355.09A99.9 99.9 0 0 1 176.55 354.56Q258.6 411.55 343.09 464.86A99.9 99.9 0 0 1 342.74 465.4Q258.6 411.55 176.19 355.09Z" fill="#1E90FF" fill-opacity="0.9"/><path d="M215.7 321.33A99.9 99.9 0 0 1 216.6 320.91Q258.6 411.55 189.25 483.46A99.9 99.9 0 0 1 188.54 482.77Q258.6 411.55 215.7 321.33Z" fill="#FFB6C1" fill-opacity="0.9"/><path d="M158.85 406.01A99.9 99.9 0 0 1 158.88 405.58Q258.6 411.55 212.51 500.18A99.9 99.9 0 0 1 212.12 499.98Q258.6 411.55 158.85 406.01Z" fill="#2F4F4F" fill-opacity="0.9"/><path d="M175.92 355.48A99.9 99.9 0 0 1 176.32 354.9Q258.6 411.55 321.96 488.79A99.9 99.9 0 0 1 321.41 489.23Q258.6 411.55 175.92 355.48Z" fill="#1E90FF" fill-opacity="0.9"/><path d="M356.71 392.7A99.9 99.9 0 0 1 356.91 393.78Q258.6 411.55 290.03 506.38A99.9 99.9 0 0 1 288.99 506.71Q258.6 411.55 356.71 392.7Z" fill="#00FFFF" fill-opacity="0.9"/><path d="M165.09 376.38A99.9 99.9 0 0 1 165.51 375.3Q258.6 411.55 301.3 501.86A99.9 99.9 0 0 1 300.25 502.35Q258.6 411.55 165.09 376.38Z" fill="#FF7F50" fill-opacity="0.9"/><path d="M159.89 396.18A99.9 99.9 0 0 1 160.04 395.26Q258.6 411.55 277.39 509.67A99.9 99.9 0 0 1 276.47 509.84Q258.6 411.55 159.89 396.18Z" fill="#FFA500" fill-opacity="0.9"/><path d="M244.57 312.64A99.9 99.9 0 0 1 245.6 312.5Q258.6 411.55 227.58 506.51A99.9 99.9 0 0 1 226.59 506.18Q258.6 411.55 244.57 312.64Z" fill="#006400" fill-opacity="0.9"/><path d="M357.38 396.62A99.9 99.9 0 0 1 357.54 397.76Q258.6 411.55 309.78 497.35A99.9 99.9 0 0 1 308.78 497.93Q258.6 411.55 357.38 396.62Z" fill="#00FFFF" fill-opacity="0.9"/><path d="M161.15 389.56A99.9 99.9 0 0 1 161.33 388.79Q258.6 411.55 320.54 489.93A99.9 99.9 0 0 1 319.91 490.42Q258.6 411.55 161.15 389.56Z" fill="#FFA500" fill-opacity="0.9"/><path d="M160.53 392.5A99.9 99.9 0 0 1 160.64 391.97Q258.6 411.55 347.73 456.66A99.9 99.9 0 0 1 347.49 457.14Q258.6 411.55 160.53 392.5Z" fill="#FFA500" fill-opacity="0.9"/><path d="M354.54 383.7A99.9 99.9 0 0 1 354.75 384.42Q258.6 411.55 258.37 511.45A99.9 99.9 0 0 1 257.61 511.45Q258.6 411.55 354.54 383.7Z" fill="#DC143C" fill-opacity="0.9"/><path d="M318.31 331.46A99.9 99.9 0 0 1 318.94 331.93Q258.6 411.55 246.92 510.76A99.9 99.9 0 0 1 246.14 510.67Q258.6 411.55 318.31 331.46Z" fill="#B03060" fill-opacity="0.9"/><path d="M317.19 330.63A99.9 99.9 0 0 1 317.7 331Q258.6 411.55 228.97 506.95A99.9 99.9 0 0 1 228.37 506.77Q258.6 411.55 317.19 330.63Z" fill="#B03060" fill-opacity="0.9"/><path d="M263.32 311.76A99.9 99.9 0 0 1 264.34 311.82Q258.6 411.55 317.88 491.96A99.9 99.9 0 0 1 317.05 492.56Q258.6 411.55 263.32 311.76Z" fill="#483D8B" fill-opacity="0.9"/><path d="M299.79 320.53A99.9 99.9 0 0 1 300.59 320.9Q258.6 411.55 260.7 511.43A99.9 99.9 0 0 1 259.82 511.44Q258.6 411.55 299.79 320.53Z" fill="#000080" fill-opacity="0.9"/><path d="M358.1 402.6A99.9 99.9 0 0 1 358.14 403.1Q258.6 411.55 226.75 506.24A99.9 99.9 0 0 1 226.27 506.07Q258.6 411.55 358.1 402.6Z" fill="#0000FF" fill-opacity="0.9"/><path d="M280.74 314.13A99.9 99.9 0 0 1 281.81 314.38Q258.6 411.55 267.77 511.03A99.9 99.9 0 0 1 266.68 511.12Q258.6 411.55 280.74 314.13Z" fill="#3CB371" fill-opacity="0.9"/><path d="M358.46 408.85A99.9 99.9 0 0 1 358.49 409.96Q258.6 411.55 341.81 466.84A99.9 99.9 0 0 1 341.19 467.75Q258.6 411.55 358.46 408.85Z" fill="#ADFF2F" fill-opacity="0.9"/><path d="M178.07 352.43A99.9 99.9 0 0 1 178.58 351.75Q258.6 411.55 204.04 495.23A99.9 99.9 0 0 1 203.33 494.77Q258.6 411.55 178.07 352.43Z" fill="#1E90FF" fill-opacity="0.9"/><path d="M343.48 358.87A99.9 99.9 0 0 1 343.74 359.29Q258.6 411.55 325.22 485.99A99.9 99.9 0 0 1 324.84 486.33Q258.6 411.55 343.48 358.87Z" fill="#00FF00" fill-opacity="0.9"/><path d="M327.22 338.95A99.9 99.9 0 0 1 327.9 339.6Q258.6 411.55 162.88 440.13A99.9 99.9 0 0 1 162.61 439.23Q258.6 411.55 327.22 338.95Z" fill="#FF0000" fill-opacity="0.9"/><path d="M340.71 354.65A99.9 99.9 0 0 1 341.27 355.46Q258.6 411.55 316.37 493.06A99.9 99.9 0 0 1 315.56 493.62Q258.6 411.55 340.71 354.65Z" fill="#00FF00" fill-opacity="0.9"/><path d="M326.75 338.51A99.9 99.9 0 0 1 327.29 339.01Q258.6 411.55 229.58 507.14A99.9 99.9 0 0 1 228.87 506.92Q258.6 411.55 326.75 338.51Z" fill="#FF0000" fill-opacity="0.9"/><path d="M228.56 316.27A99.9 99.9 0 0 1 229.18 316.08Q258.6 411.55 330.7 480.7A99.9 99.9 0 0 1 330.24 481.17Q258.6 411.55 228.56 316.27Z" fill="#8B4513" fill-opacity="0.9"/><path d="M307.15 324.24A99.9 99.9 0 0 1 307.91 324.67Q258.6 411.55 242.67 510.17A99.9 99.9 0 0 1 241.82 510.03Q258.6 411.55 307.15 324.24Z" fill="#800080" fill-opacity="0.9"/><path d="M161.53 387.95A99.9 99.9 0 0 1 161.67 387.38Q258.6 411.55 160.14 428.45A99.9 99.9 0 0 1 160.04 427.87Q258.6 411.55 161.53 387.95Z" fill="#FFA500" fill-opacity="0.9"/><path d="M204.22 327.75A99.9 99.9 0 0 1 205.2 327.12Q258.6 411.55 316.23 493.15A99.9 99.9 0 0 1 315.28 493.81Q258.6 411.55 204.22 327.75Z" fill="#FFDEAD" fill-opacity="0.9"/><path d="M275.2 313.04A99.9 99.9 0 0 1 276.15 313.2Q258.6 411.55 300.78 502.11A99.9 99.9 0 0 1 299.9 502.51Q258.6 411.55 275.2 313.04Z" fill="#3CB371" fill-opacity="0.9"/><path d="M300.54 320.88A99.9 99.9 0 0 1 301.57 321.36Q258.6 411.55 218.3 502.96A99.9 99.9 0 0 1 217.26 502.49Q258.6 411.55 300.54 320.88Z" fill="#000080" fill-opacity="0.9"/><path d="M333.85 345.85A99.9 99.9 0 0 1 334.61 346.72Q258.6 411.55 193.26 487.12A99.9 99.9 0 0 1 192.39 486.36Q258.6 411.55 333.85 345.85Z" fill="#FFFF00" fill-opacity="0.9"/><path d="M275.07 313.02A99.9 99.9 0 0 1 276.05 313.19Q258.6 411.55 164.52 445.15A99.9 99.9 0 0 1 164.19 444.21Q258.6 411.55 275.07 313.02Z" fill="#3CB371" fill-opacity="0.9"/><path d="M245.66 312.49A99.9 99.9 0 0 1 246.87 312.34Q258.6 411.55 183.02 476.88A99.9 99.9 0 0 1 182.23 475.95Q258.6 411.55 245.66 312.49Z" fill="#006400" fill-opacity="0.9"/><path d="M311.43 326.76A99.9 99.9 0 0 1 311.82 327.01Q258.6 411.55 327.71 483.69A99.9 99.9 0 0 1 327.37 484.01Q258.6 411.55 311.43 326.76Z" fill="#800080" fill-opacity="0.9"/><path d="M237.92 313.81A99.9 99.9 0 0 1 238.48 313.7Q258.6 411.55 327.11 484.26A99.9 99.9 0 0 1 326.7 484.64Q258.6 411.55 237.92 313.81Z" fill="#006400" fill-opacity="0.9"/><path d="M357.44 426.09A99.9 99.9 0 0 1 357.31 426.96Q258.6 411.55 183.42 477.33A99.9 99.9 0 0 1 182.84 476.67Q258.6 411.55 357.44 426.09Z" fill="#1E90FF" fill-opacity="0.9"/><path d="M232.34 315.16A99.9 99.9 0 0 1 232.82 315.03Q258.6 411.55 316.99 492.61A99.9 99.9 0 0 1 316.58 492.9Q258.6 411.55 232.34 315.16Z" fill="#8B4513" fill-opacity="0.9"/><path d="M292.07 317.42A99.9 99.9 0 0 1 292.71 317.66Q258.6 411.55 227.97 506.64A99.9 99.9 0 0 1 227.32 506.43Q258.6 411.55 292.07 317.42Z" fill="#4682B4" fill-opacity="0.9"/><path d="M221.6 318.76A99.9 99.9 0 0 1 222.55 318.38Q258.6 411.55 226.5 506.15A99.9 99.9 0 0 1 225.53 505.82Q258.6 411.55 221.6 318.76Z" fill="#FFB6C1" fill-opacity="0.9"/><path d="M337.19 349.88A99.9 99.9 0 0 1 337.59 350.39Q258.6 411.55 163.74 442.87A99.9 99.9 0 0 1 163.54 442.26Q258.6 411.55 337.19 349.88Z" fill="#FFFF00" fill-opacity="0.9"/><path d="M357.37 396.58A99.9 99.9 0 0 1 357.52 397.62Q258.6 411.55 311.75 496.13A99.9 99.9 0 0 1 310.86 496.69Q258.6 411.55 357.37 396.58Z" fill="#00FFFF" fill-opacity="0.9"/><path d="M304.08 322.6A99.9 99.9 0 0 1 304.47 322.8Q258.6 411.55 210.72 499.23A99.9 99.9 0 0 1 210.33 499.01Q258.6 411.55 304.08 322.6Z" fill="#000080" fill-opacity="0.9"/><path d="M175.94 355.45A99.9 99.9 0 0 1 176.33 354.88Q258.6 411.55 241.95 510.05A99.9 99.9 0 0 1 241.27 509.94Q258.6 411.55 175.94 355.45Z" fill="#1E90FF" fill-opacity="0.9"/><path d="M165.24 376.01A99.9 99.9 0 0 1 165.45 375.46Q258.6 411.55 341.59 467.17A99.9 99.9 0 0 1 341.26 467.66Q258.6 411.55 165.24 376.01Z" fill="#FF7F50" fill-opacity="0.9"/><path d="M289.06 316.41A99.9 99.9 0 0 1 289.65 316.6Q258.6 411.55 214.67 501.27A99.9 99.9 0 0 1 214.11 501Q258.6 411.55 289.06 316.41Z" fill="#4682B4" fill-opacity="0.9"/><path d="M229.01 316.13A99.9 99.9 0 0 1 229.85 315.88Q258.6 411.55 261.27 511.41A99.9 99.9 0 0 1 260.39 511.43Q258.6 411.55 229.01 316.13Z" fill="#8B4513" fill-opacity="0.9"/><path d="M203.7 328.09A99.9 99.9 0 0 1 204.22 327.75Q258.6 411.55 217.93 502.8A99.9 99.9 0 0 1 217.36 502.54Q258.6 411.55 203.7 328.09Z" fill="#FFDEAD" fill-opacity="0.9"/><path d="M246.64 312.37A99.9 99.9 0 0 1 247.38 312.28Q258.6 411.55 173.19 463.36A99.9 99.9 0 0 1 172.8 462.72Q258.6 411.55 246.64 312.37Z" fill="#006400" fill-opacity="0.9"/><path d="M358.08 402.4A99.9 99.9 0 0 1 358.16 403.35Q258.6 411.55 180.55 473.91A99.9 99.9 0 0 1 179.96 473.16Q258.6 411.55 358.08 402.4Z" fill="#0000FF" fill-opacity="0.9"/><path d="M358.46 408.67A99.9 99.9 0 0 1 358.48 409.76Q258.6 411.55 238.36 509.38A99.9 99.9 0 0 1 237.29 509.15Q258.6 411.55 358.46 408.67Z" fill="#ADFF2F" fill-opacity="0.9"/><path d="M253.46 311.78A99.9 99.9 0 0 1 254.58 311.73Q258.6 411.55 341.86 466.76A99.9 99.9 0 0 1 341.23 467.69Q258.6 411.55 253.46 311.78Z" fill="#808000" fill-opacity="0.9"/><path d="M158.99 403.99A99.9 99.9 0 0 1 159.06 403.06Q258.6 411.55 183.12 476.99A99.9 99.9 0 0 1 182.51 476.28Q258.6 411.55 158.99 403.99Z" fill="#2F4F4F" fill-opacity="0.9"/><path d="M246.98 312.33A99.9 99.9 0 0 1 247.45 312.27Q258.6 411.55 192.92 486.83A99.9 99.9 0 0 1 192.57 486.52Q258.6 411.55 246.98 312.33Z" fill="#006400" fill-opacity="0.9"/><path d="M195.6 334.02A99.9 99.9 0 0 1 196.44 333.35Q258.6 411.55 159.43 423.58A99.9 99.9 0 0 1 159.3 422.51Q258.6 411.55 195.6 334.02Z" fill="#FF1493" fill-opacity="0.9"/><path d="M164.28 378.63A99.9 99.9 0 0 1 164.43 378.19Q258.6 411.55 227.97 506.64A99.9 99.9 0 0 1 227.54 506.5Q258.6 411.55 164.28 378.63Z" fill="#FF7F50" fill-opacity="0.9"/><path d="M357.9 400.62A99.9 99.9 0 0 1 358 401.57Q258.6 411.55 309.58 497.46A99.9 99.9 0 0 1 308.76 497.94Q258.6 411.55 357.9 400.62Z" fill="#0000FF" fill-opacity="0.9"/><path d="M229.29 316.05A99.9 99.9 0 0 1 230.37 315.72Q258.6 411.55 352 446.99A99.9 99.9 0 0 1 351.6 448.04Q258.6 411.55 229.29 316.05Z" fill="#8B4513" fill-opacity="0.9"/><path d="M269.75 312.27A99.9 99.9 0 0 1 270.63 312.38Q258.6 411.55 175.2 466.54A99.9 99.9 0 0 1 174.72 465.8Q258.6 411.55 269.75 312.27Z" fill="#483D8B" fill-opacity="0.9"/><path d="M251.23 311.92A99.9 99.9 0 0 1 251.8 311.88Q258.6 411.55 267.73 511.03A99.9 99.9 0 0 1 267.17 511.08Q258.6 411.55 251.23 311.92Z" fill="#808000" fill-opacity="0.9"/><path d="M243.38 312.82A99.9 99.9 0 0 1 244.28 312.68Q258.6 411.55 162.68 439.45A99.9 99.9 0 0 1 162.42 438.57Q258.6 411.55 243.38 312.82Z" fill="#006400" fill-opacity="0.9"/><path d="M352.71 378.04A99.9 99.9 0 0 1 353.02 378.93Q258.6 411.55 214.78 501.33A99.9 99.9 0 0 1 213.94 500.91Q258.6 411.55 352.71 378.04Z" fill="#00FF7F" fill-opacity="0.9"/><path d="M194.4 335.01A99.9 99.9 0 0 1 194.85 334.64Q258.6 411.55 335.76 475.01A99.9 99.9 0 0 1 335.39 475.45Q258.6 411.55 194.4 335.01Z" fill="#FF1493" fill-opacity="0.9"/><path d="M160.91 390.63A99.9 99.9 0 0 1 161.15 389.56Q258.6 411.55 349.3 453.43A99.9 99.9 0 0 1 348.83 454.43Q258.6 411.55 160.91 390.63Z" fill="#FFA500" fill-opacity="0.9"/><path d="M267.09 312.01A99.9 99.9 0 0 1 267.95 312.09Q258.6 411.55 327.44 483.95A99.9 99.9 0 0 1 326.8 484.54Q258.6 411.55 267.09 312.01Z" fill="#483D8B" fill-opacity="0.9"/><path d="M329.48 341.15A99.9 99.9 0 0 1 330.02 341.7Q258.6 411.55 243.05 510.23A99.9 99.9 0 0 1 242.29 510.11Q258.6 411.55 329.48 341.15Z" fill="#FF0000" fill-opacity="0.9"/><path d="M158.84 406.27A99.9 99.9 0 0 1 158.89 405.35Q258.6 411.55 159.14 420.95A99.9 99.9 0 0 1 159.06 420.03Q258.6 411.55 158.84 406.27Z" fill="#2F4F4F" fill-opacity="0.9"/><path d="M357.29 396.04A99.9 99.9 0 0 1 357.45 397.12Q258.6 411.55 328.12 483.29A99.9 99.9 0 0 1 327.33 484.05Q258.6 411.55 357.29 396.04Z" fill="#00FFFF" fill-opacity="0.9"/><path d="M256.74 311.67A99.9 99.9 0 0 1 257.46 311.66Q258.6 411.55 319.47 490.76A99.9 99.9 0 0 1 318.9 491.2Q258.6 411.55 256.74 311.67Z" fill="#808000" fill-opacity="0.9"/><path d="M161.15 389.56A99.9 99.9 0 0 1 161.26 389.07Q258.6 411.55 201.93 493.82A99.9 99.9 0 0 1 201.52 493.53Q258.6 411.55 161.15 389.56Z" fill="#FFA500" fill-opacity="0.9"/><path d="M160.86 390.87A99.9 99.9 0 0 1 161.11 389.75Q258.6 411.55 343.87 463.6A99.9 99.9 0 0 1 343.27 464.57Q258.6 411.55 160.86 390.87Z" fill="#FFA500" fill-opacity="0.9"/><path d="M179.56 350.45A99.9 99.9 0 0 1 180.07 349.8Q258.6 411.55 255.33 511.4A99.9 99.9 0 0 1 254.5 511.37Q258.6 411.55 179.56 350.45Z" fill="#1E90FF" fill-opacity="0.9"/><path d="M307.21 324.27A99.9 99.9 0 0 1 307.8 324.61Q258.6 411.55 239.72 509.65A99.9 99.9 0 0 1 239.05 509.52Q258.6 411.55 307.21 324.27Z" fill="#800080" fill-opacity="0.9"/><path d="M215.13 321.6A99.9 99.9 0 0 1 216.16 321.11Q258.6 411.55 288.67 506.82A99.9 99.9 0 0 1 287.59 507.15Q258.6 411.55 215.13 321.6Z" fill="#FFB6C1" fill-opacity="0.9"/><path d="M309.25 325.44A99.9 99.9 0 0 1 310.05 325.92Q258.6 411.55 167.06 451.55A99.9 99.9 0 0 1 166.69 450.69Q258.6 411.55 309.25 325.44Z" fill="#800080" fill-opacity="0.9"/><path d="M328.77 340.44A99.9 99.9 0 0 1 329.22 340.89Q258.6 411.55 188.74 482.96A99.9 99.9 0 0 1 188.28 482.51Q258.6 411.55 328.77 340.44Z" fill="#FF0000" fill-opacity="0.9"/><path d="M252.93 311.81A99.9 99.9 0 0 1 253.66 311.77Q258.6 411.55 254.55 511.37A99.9 99.9 0 0 1 253.82 511.34Q258.6 411.55 252.93 311.81Z" fill="#808000" fill-opacity="0.9"/><path d="M164.7 377.45A99.9 99.9 0 0 1 164.91 376.87Q258.6 411.55 331.42 479.94A99.9 99.9 0 0 1 331 480.39Q258.6 411.55 164.7 377.45Z" fill="#FF7F50" fill-opacity="0.9"/><path d="M357.47 425.86A99.9 99.9 0 0 1 357.32 426.86Q258.6 411.55 283.1 508.4A99.9 99.9 0 0 1 282.11 508.64Q258.6 411.55 357.47 425.86Z" fill="#1E90FF" fill-opacity="0.9"/><path d="M341.75 356.18A99.9 99.9 0 0 1 342.17 356.82Q258.6 411.55 316.02 493.3A99.9 99.9 0 0 1 315.4 493.73Q258.6 411.55 341.75 356.18Z" fill="#00FF00" fill-opacity="0.9"/><path d="M333.6 345.56A99.9 99.9 0 0 1 333.9 345.9Q258.6 411.55 163.9 443.36A99.9 99.9 0 0 1 163.76 442.93Q258.6 411.55 333.6 345.56Z" fill="#FFFF00" fill-opacity="0.9"/><path d="M254.88 311.72A99.9 99.9 0 0 1 255.5 311.7Q258.6 411.55 348.88 454.32A99.9 99.9 0 0 1 348.62 454.88Q258.6 411.55 254.88 311.72Z" fill="#808000" fill-opacity="0.9"/><path d="M333.66 345.63A99.9 99.9 0 0 1 334.03 346.05Q258.6 411.55 337.85 472.38A99.9 99.9 0 0 1 337.5 472.82Q258.6 411.55 333.66 345.63Z" fill="#FFFF00" fill-opacity="0.9"/><path d="M286.46 315.61A99.9 99.9 0 0 1 286.93 315.75Q258.6 411.55 186.47 480.67A99.9 99.9 0 0 1 186.14 480.32Q258.6 411.55 286.46 315.61Z" fill="#4682B4" fill-opacity="0.9"/><path d="M338.17 351.15A99.9 99.9 0 0 1 338.64 351.78Q258.6 411.55 355.47 435.96A99.9 99.9 0 0 1 355.28 436.72Q258.6 411.55 338.17 351.15Z" fill="#FFFF00" fill-opacity="0.9"/><path d="M357.74 423.81A99.9 99.9 0 0 1 357.69 424.28Q258.6 411.55 159.46 423.85A99.9 99.9 0 0 1 159.4 423.38Q258.6 411.55 357.74 423.81Z" fill="#1E90FF" fill-opacity="0.9"/><path d="M160.72 391.57A99.9 99.9 0 0 1 160.81 391.13Q258.6 411.55 189.73 483.92A99.9 99.9 0 0 1 189.41 483.61Q258.6 411.55 160.72 391.57Z" fill="#FFA500" fill-opacity="0.9"/><path d="M357.87 400.31A99.9 99.9 0 0 1 357.97 401.3Q258.6 411.55 338.11 472.04A99.9 99.9 0 0 1 337.5 472.83Q258.6 411.55 357.87 400.31Z" fill="#0000FF" fill-opacity="0.9"/><path d="M289.23 316.46A99.9 99.9 0 0 1 290.2 316.78Q258.6 411.55 171.01 459.59A99.9 99.9 0 0 1 170.52 458.7Q258.6 411.55 289.23 316.46Z" fill="#4682B4" fill-opacity="0.9"/><path d="M218.72 319.96A99.9 99.9 0 0 1 219.31 319.7Q258.6 411.55 164.38 444.76A99.9 99.9 0 0 1 164.17 444.15Q258.6 411.55 218.72 319.96Z" fill="#FFB6C1" fill-opacity="0.9"/><path d="M313.01 327.76A99.9 99.9 0 0 1 313.56 328.13Q258.6 411.55 262.99 511.35A99.9 99.9 0 0 1 262.32 511.38Q258.6 411.55 313.01 327.76Z" fill="#800080" fill-opacity="0.9"/><path d="M312.93 327.71A99.9 99.9 0 0 1 313.41 328.03Q258.6 411.55 160.83 432.08A99.9 99.9 0 0 1 160.72 431.52Q258.6 411.55 312.93 327.71Z" fill="#800080" fill-opacity="0.9"/><path d="M185.28 343.7A99.9 99.9 0 0 1 185.68 343.27Q258.6 411.55 286.69 507.42A99.9 99.9 0 0 1 286.12 507.58Q258.6 411.55 185.28 343.7Z" fill="#ADD8E6" fill-opacity="0.9"/><path d="M276.14 313.2A99.9 99.9 0 0 1 277.01 313.36Q258.6 411.55 240.24 509.75A99.9 99.9 0 0 1 239.38 509.58Q258.6 411.55 276.14 313.2Z" fill="#3CB371" fill-opacity="0.9"/><path d="M163.03 382.47A99.9 99.9 0 0 1 163.37 381.37Q258.6 411.55 352.06 446.84A99.9 99.9 0 0 1 351.65 447.91Q258.6 411.55 163.03 382.47Z" fill="#FF7F50" fill-opacity="0.9"/><path d="M187.72 341.15A99.9 99.9 0 0 1 188.57 340.31Q258.6 411.55 294.28 504.86A99.9 99.9 0 0 1 293.15 505.29Q258.6 411.55 187.72 341.15Z" fill="#ADD8E6" fill-opacity="0.9"/><path d="M343.13 358.31A99.9 99.9 0 0 1 343.65 359.14Q258.6 411.55 162.6 439.19A99.9 99.9 0 0 1 162.33 438.25Q258.6 411.55 343.13 358.31Z" fill="#00FF00" fill-opacity="0.9"/><path d="M256.6 311.67A99.9 99.9 0 0 1 257.68 311.65Q258.6 411.55 233.26 508.18A99.9 99.9 0 0 1 232.22 507.9Q258.6 411.55 256.6 311.67Z" fill="#808000" fill-opacity="0.9"/><path d="M358.49 412.86A99.9 99.9 0 0 1 358.48 413.38Q258.6 411.55 305.94 499.52A99.9 99.9 0 0 1 305.49 499.76Q258.6 411.55 358.49 412.86Z" fill="#DA70D6" fill-opacity="0.9"/><path d="M358.48 413.63A99.9 99.9 0 0 1 358.45 414.72Q258.6 411.55 171.51 460.49A99.9 99.9 0 0 1 170.98 459.54Q258.6 411.55 358.48 413.63Z" fill="#DA70D6" fill-opacity="0.9"/><path d="M169 367.38A99.9 99.9 0 0 1 169.29 366.78Q258.6 411.55 225.31 505.74A99.9 99.9 0 0 1 224.68 505.52Q258.6 411.55 169 367.38Z" fill="#FF00FF" fill-opacity="0.9"/><path d="M310.79 326.36A99.9 99.9 0 0 1 311.72 326.95Q258.6 411.55 334.09 476.98A99.9 99.9 0 0 1 333.37 477.81Q258.6 411.55 310.79 326.36Z" fill="#800080" fill-opacity="0.9"/><path d="M276.42 313.25A99.9 99.9 0 0 1 277.45 313.44Q258.6 411.55 343.56 464.11A99.9 99.9 0 0 1 343 464.99Q258.6 411.55 276.42 313.25Z" fill="#3CB371" fill-opacity="0.9"/><path d="M194.82 334.66A99.9 99.9 0 0 1 195.51 334.1Q258.6 411.55 172.63 462.44A99.9 99.9 0 0 1 172.18 461.67Q258.6 411.55 194.82 334.66Z" fill="#FF1493" fill-opacity="0.9"/><path d="M230.3 315.74A99.9 99.9 0 0 1 230.72 315.62Q258.6 411.55 164.66 445.53A99.9 99.9 0 0 1 164.51 445.11Q258.6 411.55 230.3 315.74Z" fill="#8B4513" fill-opacity="0.9"/><path d="M190.14 338.79A99.9 99.9 0 0 1 190.8 338.18Q258.6 411.55 336.46 474.14A99.9 99.9 0 0 1 335.9 474.84Q258.6 411.55 190.14 338.79Z" fill="#ADD8E6" fill-opacity="0.9"/><path d="M189.85 339.07A99.9 99.9 0 0 1 190.64 338.33Q258.6 411.55 269.89 510.81A99.9 99.9 0 0 1 268.82 510.93Q258.6 411.55 189.85 339.07Z" fill="#ADD8E6" fill-opacity="0.9"/><path d="M344.15 359.97A99.9 99.9 0 0 1 344.57 360.67Q258.6 411.55 173.66 464.14A99.9 99.9 0 0 1 173.23 463.44Q258.6 411.55 344.15 359.97Z" fill="#00FF00" fill-opacity="0.9"/><path d="M246.29 312.41A99.9 99.9 0 0 1 246.8 312.35Q258.6 411.55 301.55 501.74A99.9 99.9 0 0 1 301.09 501.96Q258.6 411.55 246.29 312.41Z" fill="#006400" fill-opacity="0.9"/><path d="M276.15 313.2A99.9 99.9 0 0 1 276.87 313.33Q258.6 411.55 159.53 424.41A99.9 99.9 0 0 1 159.44 423.69Q258.6 411.55 276.15 313.2Z" fill="#3CB371" fill-opacity="0.9"/><path d="M187.12 341.76A99.9 99.9 0 0 1 187.97 340.9Q258.6 411.55 312.73 495.51A99.9 99.9 0 0 1 311.71 496.16Q258.6 411.55 187.12 341.76Z" fill="#ADD8E6" fill-opacity="0.9"/><path d="M347.52 366.02A99.9 99.9 0 0 1 347.83 366.64Q258.6 411.55 320.84 489.69A99.9 99.9 0 0 1 320.3 490.12Q258.6 411.55 347.52 366.02Z" fill="#8A2BE2" fill-opacity="0.9"/><path d="M209.96 324.29A99.9 99.9 0 0 1 210.66 323.91Q258.6 411.55 181.87 475.52A99.9 99.9 0 0 1 181.36 474.91Q258.6 411.55 209.96 324.29Z" fill="#FFDEAD" fill-opacity="0.9"/><path d="M354.37 383.13A99.9 99.9 0 0 1 354.61 383.94Q258.6 411.55 256.68 511.43A99.9 99.9 0 0 1 255.83 511.41Q258.6 411.55 354.37 383.13Z" fill="#DC143C" fill-opacity="0.9"/><path d="M355.39 386.82A99.9 99.9 0 0 1 355.53 387.37Q258.6 411.55 352.84 444.7A99.9 99.9 0 0 1 352.65 445.24Q258.6 411.55 355.39 386.82Z" fill="#DC143C" fill-opacity="0.9"/><path d="M176.55 354.57A99.9 99.9 0 0 1 177.13 353.74Q258.6 411.55 347.2 457.7A99.9 99.9 0 0 1 346.73 458.6Q258.6 411.55 176.55 354.57Z" fill="#1E90FF" fill-opacity="0.9"/><path d="M278.93 313.74A99.9 99.9 0 0 1 279.74 313.91Q258.6 411.55 348.36 455.4A99.9 99.9 0 0 1 347.99 456.14Q258.6 411.55 278.93 313.74Z" fill="#3CB371" fill-opacity="0.9"/><path d="M334.87 347.03A99.9 99.9 0 0 1 335.15 347.36Q258.6 411.55 350.01 451.85A99.9 99.9 0 0 1 349.83 452.25Q258.6 411.55 334.87 347.03Z" fill="#FFFF00" fill-opacity="0.9"/><path d="M356.81 393.27A99.9 99.9 0 0 1 356.97 394.15Q258.6 411.55 341.44 467.38A99.9 99.9 0 0 1 340.94 468.12Q258.6 411.55 356.81 393.27Z" fill="#00FFFF" fill-opacity="0.9"/><path d="M274.35 312.9A99.9 99.9 0 0 1 275.27 313.05Q258.6 411.55 242.8 510.19A99.9 99.9 0 0 1 241.89 510.04Q258.6 411.55 274.35 312.9Z" fill="#3CB371" fill-opacity="0.9"/><path d="M352.81 378.3A99.9 99.9 0 0 1 352.99 378.83Q258.6 411.55 348.39 455.35A99.9 99.9 0 0 1 348.14 455.85Q258.6 411.55 352.81 378.3Z" fill="#00FF7F" fill-opacity="0.9"/><path d="M358.46 414.36A99.9 99.9 0 0 1 358.43 415.33Q258.6 411.55 282.68 508.51A99.9 99.9 0 0 1 281.74 508.73Q258.6 411.55 358.46 414.36Z" fill="#DA70D6" fill-opacity="0.9"/><path d="M357.36 396.52A99.9 99.9 0 0 1 357.52 397.6Q258.6 411.55 158.96 418.7A99.9 99.9 0 0 1 158.88 417.61Q258.6 411.55 357.36 396.52Z" fill="#00FFFF" fill-opacity="0.9"/><path d="M199.27 331.18A99.9 99.9 0 0 1 200.11 330.56Q258.6 411.55 198.91 491.66A99.9 99.9 0 0 1 198.07 491.02Q258.6 411.55 199.27 331.18Z" fill="#FF1493" fill-opacity="0.9"/><path d="M328.4 340.08A99.9 99.9 0 0 1 328.83 340.5Q258.6 411.55 293.59 505.12A99.9 99.9 0 0 1 293.03 505.33Q258.6 411.55 328.4 340.08Z" fill="#FF0000" fill-opacity="0.9"/><path d="M257.99 311.65A99.9 99.9 0 0 1 258.75 311.65Q258.6 411.55 317.26 492.41A99.9 99.9 0 0 1 316.65 492.85Q258.6 411.55 257.99 311.65Z" fill="#808000" fill-opacity="0.9"/><path d="M267.78 312.07A99.9 99.9 0 0 1 268.94 312.19Q258.6 411.55 310.27 497.05A99.9 99.9 0 0 1 309.27 497.65Q258.6 411.55 267.78 312.07Z" fill="#483D8B" fill-opacity="0.9"/><path d="M213.81 322.26A99.9 99.9 0 0 1 214.48 321.92Q258.6 411.55 227.31 506.42A99.9 99.9 0 0 1 226.6 506.19Q258.6 411.55 213.81 322.26Z" fill="#FFB6C1" fill-opacity="0.9"/><path d="M350.91 373.35A99.9 99.9 0 0 1 351.25 374.18Q258.6 411.55 341.94 466.63A99.9 99.9 0 0 1 341.45 467.37Q258.6 411.55 350.91 373.35Z" fill="#00FF7F" fill-opacity="0.9"/><path d="M312.77 327.61A99.9 99.9 0 0 1 313.79 328.28Q258.6 411.55 354.34 440.09A99.9 99.9 0 0 1 353.98 441.26Q258.6 411.55 312.77 327.61Z" fill="#800080" fill-opacity="0.9"/><path d="M356.77 393.06A99.9 99.9 0 0 1 356.97 394.1Q258.6 411.55 165.63 448.11A99.9 99.9 0 0 1 165.25 447.12Q258.6 411.55 356.77 393.06Z" fill="#00FFFF" fill-opacity="0.9"/><path d="M291.03 317.06A99.9 99.9 0 0 1 292 317.4Q258.6 411.55 355.67 435.16A99.9 99.9 0 0 1 355.42 436.16Q258.6 411.55 291.03 317.06Z" fill="#4682B4" fill-opacity="0.9"/><path d="M357.96 401.21A99.9 99.9 0 0 1 358.03 401.85Q258.6 411.55 353.18 443.72A99.9 99.9 0 0 1 352.97 444.33Q258.6 411.55 357.96 401.21Z" fill="#0000FF" fill-opacity="0.9"/><path d="M188.63 340.24A99.9 99.9 0 0 1 189.4 339.5Q258.6 411.55 308.28 498.22A99.9 99.9 0 0 1 307.35 498.75Q258.6 411.55 188.63 340.24Z" fill="#ADD8E6" fill-opacity="0.9"/><path d="M243.48 312.8A99.9 99.9 0 0 1 244.24 312.69Q258.6 411.55 299.53 502.68A99.9 99.9 0 0 1 298.82 502.99Q258.6 411.55 243.48 312.8Z" fill="#006400" fill-opacity="0.9"/><path d="M233.54 314.84A99.9 99.9 0 0 1 234.01 314.72Q258.6 411.55 356.13 433.2A99.9 99.9 0 0 1 356.02 433.67Q258.6 411.55 233.54 314.84Z" fill="#8B4513" fill-opacity="0.9"/><path d="M177.51 353.2A99.9 99.9 0 0 1 177.93 352.62Q258.6 411.55 320.61 489.88A99.9 99.9 0 0 1 320.05 490.31Q258.6 411.55 177.51 353.2Z" fill="#1E90FF" fill-opacity="0.9"/><path d="M162.91 382.85A99.9 99.9 0 0 1 163.09 382.25Q258.6 411.55 341.16 467.8A99.9 99.9 0 0 1 340.8 468.32Q258.6 411.55 162.91 382.85Z" fill="#FF7F50" fill-opacity="0.9"/><path d="M356.79 393.14A99.9 99.9 0 0 1 356.98 394.17Q258.6 411.55 297.39 503.61A99.9 99.9 0 0 1 296.42 504.01Q258.6 411.55 356.79 393.14Z" fill="#00FFFF" fill-opacity="0.9"/><path d="M357.99 401.48A99.9 99.9 0 0 1 358.06 402.15Q258.6 411.55 334.8 476.15A99.9 99.9 0 0 1 334.37 476.66Q258.6 411.55 357.99 401.48Z" fill="#0000FF" fill-opacity="0.9"/><path d="M358.42 407.45A99.9 99.9 0 0 1 358.46 408.58Q258.6 411.55 283.61 508.27A99.9 99.9 0 0 1 282.51 508.55Q258.6 411.55 358.42 407.45Z" fill="#ADFF2F" fill-opacity="0.9"/><path d="M176.87 354.1A99.9 99.9 0 0 1 177.38 353.39Q258.6 411.55 301.71 501.67A99.9 99.9 0 0 1 300.92 502.04Q258.6 411.55 176.87 354.1Z" fill="#1E90FF" fill-opacity="0.9"/><path d="M287.85 316.03A99.9 99.9 0 0 1 288.64 316.27Q258.6 411.55 348.37 455.38A99.9 99.9 0 0 1 348.01 456.12Q258.6 411.55 287.85 316.03Z" fill="#4682B4" fill-opacity="0.9"/><path d="M348.09 367.14A99.9 99.9 0 0 1 348.5 367.98Q258.6 411.55 162.42 438.56A99.9 99.9 0 0 1 162.17 437.66Q258.6 411.55 348.09 367.14Z" fill="#8A2BE2" fill-opacity="0.9"/><path d="M348.59 368.16A99.9 99.9 0 0 1 349.11 369.26Q258.6 411.55 346.81 458.44A99.9 99.9 0 0 1 346.23 459.51Q258.6 411.55 348.59 368.16Z" fill="#8A2BE2" fill-opacity="0.9"/><path d="M357.29 396.04A99.9 99.9 0 0 1 357.36 396.5Q258.6 411.55 354.98 437.82A99.9 99.9 0 0 1 354.86 438.27Q258.6 411.55 357.29 396.04Z" fill="#00FFFF" fill-opacity="0.9"/><path d="M230.74 315.61A99.9 99.9 0 0 1 231.48 315.4Q258.6 411.55 289.02 506.71A99.9 99.9 0 0 1 288.29 506.94Q258.6 411.55 230.74 315.61Z" fill="#8B4513" fill-opacity="0.9"/><path d="M358.47 409.29A99.9 99.9 0 0 1 358.49 409.99Q258.6 411.55 312.15 495.88A99.9 99.9 0 0 1 311.56 496.25Q258.6 411.55 358.47 409.29Z" fill="#ADFF2F" fill-opacity="0.9"/><path d="M195.08 334.45A99.9 99.9 0 0 1 195.9 333.78Q258.6 411.55 342.06 466.46A99.9 99.9 0 0 1 341.47 467.34Q258.6 411.55 195.08 334.45Z" fill="#FF1493" fill-opacity="0.9"/><path d="M331.71 343.47A99.9 99.9 0 0 1 332.05 343.84Q258.6 411.55 353.91 441.48A99.9 99.9 0 0 1 353.76 441.96Q258.6 411.55 331.71 343.47Z" fill="#FF0000" fill-opacity="0.9"/><path d="M264.28 311.81A99.9 99.9 0 0 1 264.75 311.84Q258.6 411.55 315.47 493.68A99.9 99.9 0 0 1 315.08 493.95Q258.6 411.55 264.28 311.81Z" fill="#483D8B" fill-opacity="0.9"/><path d="M302.7 321.91A99.9 99.9 0 0 1 303.55 322.33Q258.6 411.55 338.42 471.63A99.9 99.9 0 0 1 337.84 472.38Q258.6 411.55 302.7 321.91Z" fill="#000080" fill-opacity="0.9"/><path d="M336.92 349.54A99.9 99.9 0 0 1 337.52 350.3Q258.6 411.55 189 483.21A99.9 99.9 0 0 1 188.31 482.54Q258.6 411.55 336.92 349.54Z" fill="#FFFF00" fill-opacity="0.9"/><path d="M161.17 389.45A99.9 99.9 0 0 1 161.35 388.68Q258.6 411.55 341.06 467.94A99.9 99.9 0 0 1 340.61 468.59Q258.6 411.55 161.17 389.45Z" fill="#FFA500" fill-opacity="0.9"/><path d="M175.55 356.02A99.9 99.9 0 0 1 176.04 355.3Q258.6 411.55 347.64 456.84A99.9 99.9 0 0 1 347.24 457.62Q258.6 411.55 175.55 356.02Z" fill="#1E90FF" fill-opacity="0.9"/><path d="M242.9 312.89A99.9 99.9 0 0 1 243.77 312.76Q258.6 411.55 161.13 433.45A99.9 99.9 0 0 1 160.94 432.59Q258.6 411.55 242.9 312.89Z" fill="#006400" fill-opacity="0.9"/><path d="M290.55 316.9A99.9 99.9 0 0 1 291.47 317.21Q258.6 411.55 167.86 453.34A99.9 99.9 0 0 1 167.46 452.46Q258.6 411.55 290.55 316.9Z" fill="#4682B4" fill-opacity="0.9"/><path d="M174.68 357.36A99.9 99.9 0 0 1 175.09 356.72Q258.6 411.55 299.39 502.74A99.9 99.9 0 0 1 298.7 503.05Q258.6 411.55 174.68 357.36Z" fill="#1E90FF" fill-opacity="0.9"/><path d="M358.49 412.58A99.9 99.9 0 0 1 358.48 413.7Q258.6 411.55 169.51 456.74A99.9 99.9 0 0 1 169.01 455.74Q258.6 411.55 358.49 412.58Z" fill="#DA70D6" fill-opacity="0.9"/><path d="M210.11 324.21A99.9 99.9 0 0 1 211.01 323.72Q258.6 411.55 297.06 503.75A99.9 99.9 0 0 1 296.11 504.14Q258.6 411.55 210.11 324.21Z" fill="#FFDEAD" fill-opacity="0.9"/><path d="M350.84 373.18A99.9 99.9 0 0 1 351.22 374.12Q258.6 411.55 355.05 437.57A99.9 99.9 0 0 1 354.78 438.54Q258.6 411.55 350.84 373.18Z" fill="#00FF7F" fill-opacity="0.9"/><path d="M293.34 317.88A99.9 99.9 0 0 1 294.4 318.28Q258.6 411.55 341.04 467.97A99.9 99.9 0 0 1 340.39 468.91Q258.6 411.55 293.34 317.88Z" fill="#4682B4" fill-opacity="0.9"/><path d="M161.28 388.98A99.9 99.9 0 0 1 161.5 388.06Q258.6 411.55 158.91 418.07A99.9 99.9 0 0 1 158.86 417.13Q258.6 411.55 161.28 388.98Z" fill="#FFA500" fill-opacity="0.9"/><path d="M355.59 387.62A99.9 99.9 0 0 1 355.87 388.78Q258.6 411.55 337 473.46A99.9 99.9 0 0 1 336.26 474.39Q258.6 411.55 355.59 387.62Z" fill="#DC143C" fill-opacity="0.9"/><path d="M326.38 338.16A99.9 99.9 0 0 1 326.96 338.71Q258.6 411.55 350.49 450.73A99.9 99.9 0 0 1 350.18 451.47Q258.6 411.55 326.38 338.16Z" fill="#FF0000" fill-opacity="0.9"/><path d="M342.12 356.74A99.9 99.9 0 0 1 342.7 357.64Q258.6 411.55 202.04 493.89A99.9 99.9 0 0 1 201.16 493.29Q258.6 411.55 342.12 356.74Z" fill="#00FF00" fill-opacity="0.9"/><path d="M352.75 378.15A99.9 99.9 0 0 1 353.05 379.01Q258.6 411.55 355.45 436.06A99.9 99.9 0 0 1 355.22 436.93Q258.6 411.55 352.75 378.15Z" fill="#00FF7F" fill-opacity="0.9"/><path d="M176.59 354.5A99.9 99.9 0 0 1 176.98 353.95Q258.6 411.55 338.29 471.79A99.9 99.9 0 0 1 337.88 472.33Q258.6 411.55 176.59 354.5Z" fill="#1E90FF" fill-opacity="0.9"/><path d="M346.62 364.3A99.9 99.9 0 0 1 347.11 365.22Q258.6 411.55 272.11 510.53A99.9 99.9 0 0 1 271.08 510.67Q258.6 411.55 346.62 364.3Z" fill="#8A2BE2" fill-opacity="0.9"/><path d="M161.55 387.85A99.9 99.9 0 0 1 161.68 387.32Q258.6 411.55 249.82 511.06A99.9 99.9 0 0 1 249.27 511.01Q258.6 411.55 161.55 387.85Z" fill="#FFA500" fill-opacity="0.9"/><path d="M358.47 414.11A99.9 99.9 0 0 1 358.44 414.97Q258.6 411.55 348.53 455.05A99.9 99.9 0 0 1 348.15 455.82Q258.6 411.55 358.47 414.11Z" fill="#DA70D6" fill-opacity="0.9"/><path d="M239.52 313.49A99.9 99.9 0 0 1 240.41 313.32Q258.6 411.55 295.44 504.41A99.9 99.9 0 0 1 294.61 504.74Q258.6 411.55 239.52 313.49Z" fill="#006400" fill-opacity="0.9"/><path d="M205.41 326.99A99.9 99.9 0 0 1 206.44 326.35Q258.6 411.55 162.84 440.03A99.9 99.9 0 0 1 162.5 438.86Q258.6 411.55 205.41 326.99Z" fill="#FFDEAD" fill-opacity="0.9"/><path d="M357.87 400.37A99.9 99.9 0 0 1 357.95 401.05Q258.6 411.55 171.31 460.14A99.9 99.9 0 0 1 170.98 459.54Q258.6 411.55 357.87 400.37Z" fill="#0000FF" fill-opacity="0.9"/><path d="M171.58 362.48A99.9 99.9 0 0 1 172.18 361.43Q258.6 411.55 159.71 425.75A99.9 99.9 0 0 1 159.55 424.55Q258.6 411.55 171.58 362.48Z" fill="#FF00FF" fill-opacity="0.9"/><path d="M214.56 321.88A99.9 99.9 0 0 1 215.15 321.59Q258.6 411.55 354.17 440.63A99.9 99.9 0 0 1 353.98 441.25Q258.6 411.55 214.56 321.88Z" fill="#FFB6C1" fill-opacity="0.9"/><path d="M333.79 345.77A99.9 99.9 0 0 1 334.2 346.25Q258.6 411.55 352.89 444.56A99.9 99.9 0 0 1 352.68 445.16Q258.6 411.55 333.79 345.77Z" fill="#FFFF00" fill-opacity="0.9"/><path d="M163.82 379.97A99.9 99.9 0 0 1 163.97 379.53Q258.6 411.55 160.33 429.51A99.9 99.9 0 0 1 160.24 429.05Q258.6 411.55 163.82 379.97Z" fill="#FF7F50" fill-opacity="0.9"/><path d="M358.47 413.92A99.9 99.9 0 0 1 358.46 414.41Q258.6 411.55 353.9 441.52A99.9 99.9 0 0 1 353.75 441.98Q258.6 411.55 358.47 413.92Z" fill="#DA70D6" fill-opacity="0.9"/><path d="M164.74 377.35A99.9 99.9 0 0 1 165.04 376.52Q258.6 411.55 234.06 508.39A99.9 99.9 0 0 1 233.21 508.17Q258.6 411.55 164.74 377.35Z" fill="#FF7F50" fill-opacity="0.9"/><path d="M264.71 311.84A99.9 99.9 0 0 1 265.81 311.91Q258.6 411.55 195.61 489.09A99.9 99.9 0 0 1 194.76 488.39Q258.6 411.55 264.71 311.84Z" fill="#483D8B" fill-opacity="0.9"/><path d="M358.42 407.57A99.9 99.9 0 0 1 358.44 408.21Q258.6 411.55 355.49 435.9A99.9 99.9 0 0 1 355.33 436.52Q258.6 411.55 358.42 407.57Z" fill="#ADFF2F" fill-opacity="0.9"/><path d="M302.74 321.93A99.9 99.9 0 0 1 303.23 322.17Q258.6 411.55 167.49 452.52A99.9 99.9 0 0 1 167.26 452.02Q258.6 411.55 302.74 321.93Z" fill="#000080" fill-opacity="0.9"/><path d="M315.89 329.71A99.9 99.9 0 0 1 316.91 330.43Q258.6 411.55 159.67 425.44A99.9 99.9 0 0 1 159.5 424.18Q258.6 411.55 315.89 329.71Z" fill="#B03060"/><path d="M317.07 330.55A99.9 99.9 0 0 1 319.09 332.04Q258.6 411.55 159.48 423.99A99.9 99.9 0 0 1 159.19 421.48Q258.6 411.55 317.07 330.55Z" fill="#B03060"/><path d="M319.24 332.16A99.9 99.9 0 0 1 321.7 334.1Q258.6 411.55 159.04 419.79A99.9 99.9 0 0 1 158.83 416.64Q258.6 411.55 319.24 332.16Z" fill="#B03060"/><path d="M321.86 334.23A99.9 99.9 0 0 1 322.47 334.73Q258.6 411.55 158.82 416.44A99.9 99.9 0 0 1 158.78 415.65Q258.6 411.55 321.86 334.23Z" fill="#B03060"/><path d="M322.62 334.86A99.9 99.9 0 0 1 323.6 335.69Q258.6 411.55 159.17 421.28A99.9 99.9 0 0 1 159.06 419.99Q258.6 411.55 322.62 334.86Z" fill="#B03060"/><path d="M237.9 313.82A99.9 99.9 0 0 1 239.4 313.51Q258.6 411.55 160.92 432.49A99.9 99.9 0 0 1 160.61 430.97Q258.6 411.55 237.9 313.82Z" fill="#006400"/><path d="M239.59 313.48A99.9 99.9 0 0 1 241.93 313.05Q258.6 411.55 161.49 435.02A99.9 99.9 0 0 1 160.96 432.68Q258.6 411.55 239.59 313.48Z" fill="#006400"/><path d="M242.12 313.02A99.9 99.9 0 0 1 247.45 312.27Q258.6 411.55 160.57 430.78A99.9 99.9 0 0 1 159.67 425.44Q258.6 411.55 242.12 313.02Z" fill="#006400"/><path d="M182.02 347.4A99.9 99.9 0 0 1 183.66 345.49Q258.6 411.55 165.23 447.07A99.9 99.9 0 0 1 164.55 445.24Q258.6 411.55 182.02 347.4Z" fill="#ADD8E6"/><path d="M183.83 345.3A99.9 99.9 0 0 1 188.79 340.09Q258.6 411.55 163.65 442.6A99.9 99.9 0 0 1 162.05 437.21Q258.6 411.55 183.83 345.3Z" fill="#ADD8E6"/><path d="M188.98 339.9A99.9 99.9 0 0 1 191.19 337.82Q258.6 411.55 164.48 445.04A99.9 99.9 0 0 1 163.71 442.8Q258.6 411.55 188.98 339.9Z" fill="#ADD8E6"/><path d="M345.74 362.69A99.9 99.9 0 0 1 346.29 363.7Q258.6 411.55 165.55 447.91A99.9 99.9 0 0 1 165.23 447.07Q258.6 411.55 345.74 362.69Z" fill="#8A2BE2"/><path d="M346.38 363.85A99.9 99.9 0 0 1 346.57 364.22Q258.6 411.55 165.72 448.34A99.9 99.9 0 0 1 165.6 448.04Q258.6 411.55 346.38 363.85Z" fill="#8A2BE2"/><path d="M346.66 364.37A99.9 99.9 0 0 1 346.87 364.76Q258.6 411.55 166.31 449.81A99.9 99.9 0 0 1 166.18 449.48Q258.6 411.55 346.66 364.37Z" fill="#8A2BE2"/><path d="M346.95 364.92A99.9 99.9 0 0 1 347.52 366.01Q258.6 411.55 166.13 449.36A99.9 99.9 0 0 1 165.77 448.47Q258.6 411.55 346.95 364.92Z" fill="#8A2BE2"/><path d="M347.6 366.17A99.9 99.9 0 0 1 347.95 366.88Q258.6 411.55 166.61 450.51A99.9 99.9 0 0 1 166.37 449.93Q258.6 411.55 347.6 366.17Z" fill="#8A2BE2"/><path d="M348.03 367.03A99.9 99.9 0 0 1 349.72 370.59Q258.6 411.55 167.91 453.44A99.9 99.9 0 0 1 166.66 450.63Q258.6 411.55 348.03 367.03Z" fill="#8A2BE2"/><path d="M225.6 317.26A99.9 99.9 0 0 1 227.31 316.68Q258.6 411.55 173.06 463.16A99.9 99.9 0 0 1 172.24 461.77Q258.6 411.55 225.6 317.26Z" fill="#8B4513"/><path d="M227.51 316.61A99.9 99.9 0 0 1 227.99 316.45Q258.6 411.55 173.39 463.7A99.9 99.9 0 0 1 173.16 463.32Q258.6 411.55 227.51 316.61Z" fill="#8B4513"/><path d="M228.19 316.39A99.9 99.9 0 0 1 231.08 315.52Q258.6 411.55 170.1 457.89A99.9 99.9 0 0 1 168.88 455.49Q258.6 411.55 228.19 316.39Z" fill="#8B4513"/><path d="M231.28 315.46A99.9 99.9 0 0 1 235.68 314.31Q258.6 411.55 172.15 461.61A99.9 99.9 0 0 1 170.18 458.05Q258.6 411.55 231.28 315.46Z" fill="#8B4513"/><path d="M297.27 319.44A99.9 99.9 0 0 1 301.06 321.12Q258.6 411.55 175.38 466.82A99.9 99.9 0 0 1 173.39 463.7Q258.6 411.55 297.27 319.44Z" fill="#000080"/><path d="M301.21 321.19A99.9 99.9 0 0 1 301.81 321.48Q258.6 411.55 177.6 470.02A99.9 99.9 0 0 1 177.25 469.54Q258.6 411.55 301.21 321.19Z" fill="#000080"/><path d="M301.96 321.55A99.9 99.9 0 0 1 304.97 323.06Q258.6 411.55 177.17 469.42A99.9 99.9 0 0 1 175.47 466.95Q258.6 411.55 301.96 321.55Z" fill="#000080"/><path d="M340.26 354A99.9 99.9 0 0 1 341.75 356.18Q258.6 411.55 183.93 477.92A99.9 99.9 0 0 1 182.24 475.96Q258.6 411.55 340.26 354Z" fill="#00FF00"/><path d="M341.84 356.32A99.9 99.9 0 0 1 342.29 357Q258.6 411.55 182.14 475.84A99.9 99.9 0 0 1 181.62 475.22Q258.6 411.55 341.84 356.32Z" fill="#00FF00"/><path d="M342.38 357.14A99.9 99.9 0 0 1 342.75 357.72Q258.6 411.55 181.07 474.55A99.9 99.9 0 0 1 180.64 474.02Q258.6 411.55 342.38 357.14Z" fill="#00FF00"/><path d="M342.84 357.85A99.9 99.9 0 0 1 343.14 358.33Q258.6 411.55 181.52 475.1A99.9 99.9 0 0 1 181.17 474.67Q258.6 411.55 342.84 357.85Z" fill="#00FF00"/><path d="M343.23 358.47A99.9 99.9 0 0 1 343.47 358.85Q258.6 411.55 180.54 473.9A99.9 99.9 0 0 1 180.27 473.55Q258.6 411.55 343.23 358.47Z" fill="#00FF00"/><path d="M343.55 358.98A99.9 99.9 0 0 1 344.61 360.73Q258.6 411.55 180.17 473.43A99.9 99.9 0 0 1 178.95 471.84Q258.6 411.55 343.55 358.98Z" fill="#00FF00"/><path d="M273.52 312.77A99.9 99.9 0 0 1 275.26 313.05Q258.6 411.55 190.45 484.6A99.9 99.9 0 0 1 189.2 483.41Q258.6 411.55 273.52 312.77Z" fill="#3CB371"/><path d="M275.44 313.08A99.9 99.9 0 0 1 276.53 313.27Q258.6 411.55 188.29 482.52A99.9 99.9 0 0 1 187.53 481.76Q258.6 411.55 275.44 313.08Z" fill="#3CB371"/><path d="M276.72 313.31A99.9 99.9 0 0 1 279.82 313.93Q258.6 411.55 186.85 481.06A99.9 99.9 0 0 1 184.72 478.79Q258.6 411.55 276.72 313.31Z" fill="#3CB371"/><path d="M280.01 313.97A99.9 99.9 0 0 1 280.91 314.17Q258.6 411.55 189.07 483.28A99.9 99.9 0 0 1 188.43 482.65Q258.6 411.55 280.01 313.97Z" fill="#3CB371"/><path d="M281.09 314.21A99.9 99.9 0 0 1 281.68 314.35Q258.6 411.55 187.4 481.62A99.9 99.9 0 0 1 186.98 481.2Q258.6 411.55 281.09 314.21Z" fill="#3CB371"/><path d="M281.87 314.4A99.9 99.9 0 0 1 282.85 314.64Q258.6 411.55 184.59 478.66A99.9 99.9 0 0 1 183.93 477.92Q258.6 411.55 281.87 314.4Z" fill="#3CB371"/><path d="M159.65 397.81A99.9 99.9 0 0 1 159.86 396.37Q258.6 411.55 195.69 489.15A99.9 99.9 0 0 1 194.8 488.43Q258.6 411.55 159.65 397.81Z" fill="#FFA500"/><path d="M159.9 396.14A99.9 99.9 0 0 1 160.76 391.36Q258.6 411.55 199.45 492.06A99.9 99.9 0 0 1 196.4 489.73Q258.6 411.55 159.9 396.14Z" fill="#FFA500"/><path d="M160.81 391.12A99.9 99.9 0 0 1 160.95 390.47Q258.6 411.55 194.66 488.31A99.9 99.9 0 0 1 194.25 487.97Q258.6 411.55 160.81 391.12Z" fill="#FFA500"/><path d="M161 390.24A99.9 99.9 0 0 1 161.15 389.57Q258.6 411.55 196.26 489.61A99.9 99.9 0 0 1 195.84 489.27Q258.6 411.55 161 390.24Z" fill="#FFA500"/><path d="M161.2 389.34A99.9 99.9 0 0 1 161.39 388.54Q258.6 411.55 194.11 487.85A99.9 99.9 0 0 1 193.62 487.43Q258.6 411.55 161.2 389.34Z" fill="#FFA500"/><path d="M161.44 388.31A99.9 99.9 0 0 1 161.99 386.11Q258.6 411.55 193.47 487.3A99.9 99.9 0 0 1 192.13 486.13Q258.6 411.55 161.44 388.31Z" fill="#FFA500"/><path d="M354.03 382A99.9 99.9 0 0 1 354.37 383.11Q258.6 411.55 200.19 492.6A99.9 99.9 0 0 1 199.45 492.06Q258.6 411.55 354.03 382Z" fill="#DC143C"/><path d="M354.47 383.45A99.9 99.9 0 0 1 354.74 384.4Q258.6 411.55 200.95 493.14A99.9 99.9 0 0 1 200.31 492.68Q258.6 411.55 354.47 383.45Z" fill="#DC143C"/><path d="M354.78 384.56A99.9 99.9 0 0 1 355.46 387.1Q258.6 411.55 204.78 495.71A99.9 99.9 0 0 1 203.04 494.57Q258.6 411.55 354.78 384.56Z" fill="#DC143C"/><path d="M355.5 387.26A99.9 99.9 0 0 1 356.13 389.9Q258.6 411.55 202.82 494.43A99.9 99.9 0 0 1 201.06 493.21Q258.6 411.55 355.5 387.26Z" fill="#DC143C"/><path d="M350.62 372.67A99.9 99.9 0 0 1 351.68 375.28Q258.6 411.55 210.83 499.29A99.9 99.9 0 0 1 208.66 498.07Q258.6 411.55 350.62 372.67Z" fill="#00FF7F"/><path d="M351.74 375.42A99.9 99.9 0 0 1 352.48 377.4Q258.6 411.55 212.6 500.23A99.9 99.9 0 0 1 210.95 499.35Q258.6 411.55 351.74 375.42Z" fill="#00FF7F"/><path d="M352.54 377.55A99.9 99.9 0 0 1 352.84 378.39Q258.6 411.55 208.54 498A99.9 99.9 0 0 1 207.86 497.61Q258.6 411.55 352.54 377.55Z" fill="#00FF7F"/><path d="M352.89 378.54A99.9 99.9 0 0 1 352.94 378.7Q258.6 411.55 206.83 496.99A99.9 99.9 0 0 1 206.7 496.91Q258.6 411.55 352.89 378.54Z" fill="#00FF7F"/><path d="M353 378.85A99.9 99.9 0 0 1 353.34 379.84Q258.6 411.55 207.75 497.54A99.9 99.9 0 0 1 206.95 497.06Q258.6 411.55 353 378.85Z" fill="#00FF7F"/><path d="M333.59 345.54A99.9 99.9 0 0 1 335.06 347.25Q258.6 411.55 214.37 501.12A99.9 99.9 0 0 1 212.6 500.23Q258.6 411.55 333.59 345.54Z" fill="#FFFF00"/><path d="M335.17 347.38A99.9 99.9 0 0 1 335.36 347.61Q258.6 411.55 219.38 503.43A99.9 99.9 0 0 1 219.13 503.32Q258.6 411.55 335.17 347.38Z" fill="#FFFF00"/><path d="M335.47 347.74A99.9 99.9 0 0 1 338.93 352.16Q258.6 411.55 219 503.26A99.9 99.9 0 0 1 214.5 501.19Q258.6 411.55 335.47 347.74Z" fill="#FFFF00"/><path d="M306.96 324.14A99.9 99.9 0 0 1 308.57 325.04Q258.6 411.55 228.25 506.73A99.9 99.9 0 0 1 226.55 506.17Q258.6 411.55 306.96 324.14Z" fill="#800080"/><path d="M308.71 325.13A99.9 99.9 0 0 1 309.2 325.41Q258.6 411.55 225.83 505.92A99.9 99.9 0 0 1 225.31 505.74Q258.6 411.55 308.71 325.13Z" fill="#800080"/><path d="M309.35 325.5A99.9 99.9 0 0 1 309.91 325.83Q258.6 411.55 229 506.97A99.9 99.9 0 0 1 228.4 506.78Q258.6 411.55 309.35 325.5Z" fill="#800080"/><path d="M310.05 325.92A99.9 99.9 0 0 1 310.44 326.16Q258.6 411.55 226.4 506.12A99.9 99.9 0 0 1 225.98 505.97Q258.6 411.55 310.05 325.92Z" fill="#800080"/><path d="M310.58 326.24A99.9 99.9 0 0 1 312.8 327.63Q258.6 411.55 225.16 505.69A99.9 99.9 0 0 1 222.79 504.81Q258.6 411.55 310.58 326.24Z" fill="#800080"/><path d="M312.94 327.72A99.9 99.9 0 0 1 314.02 328.43Q258.6 411.55 222.64 504.75A99.9 99.9 0 0 1 221.47 504.29Q258.6 411.55 312.94 327.72Z" fill="#800080"/><path d="M356.59 392.12A99.9 99.9 0 0 1 356.77 393.04Q258.6 411.55 234.6 508.52A99.9 99.9 0 0 1 233.72 508.3Q258.6 411.55 356.59 392.12Z" fill="#00FFFF"/><path d="M356.79 393.16A99.9 99.9 0 0 1 356.9 393.74Q258.6 411.55 232.94 508.1A99.9 99.9 0 0 1 232.38 507.95Q258.6 411.55 356.79 393.16Z" fill="#00FFFF"/><path d="M356.92 393.86A99.9 99.9 0 0 1 357.03 394.45Q258.6 411.55 233.61 508.27A99.9 99.9 0 0 1 233.05 508.13Q258.6 411.55 356.92 393.86Z" fill="#00FFFF"/><path d="M357.05 394.57A99.9 99.9 0 0 1 357.26 395.88Q258.6 411.55 230.24 507.34A99.9 99.9 0 0 1 229 506.97Q258.6 411.55 357.05 394.57Z" fill="#00FFFF"/><path d="M357.28 396A99.9 99.9 0 0 1 357.48 397.33Q258.6 411.55 232.27 507.92A99.9 99.9 0 0 1 231.02 507.57Q258.6 411.55 357.28 396Z" fill="#00FFFF"/><path d="M357.5 397.45A99.9 99.9 0 0 1 357.58 398.05Q258.6 411.55 230.91 507.54A99.9 99.9 0 0 1 230.35 507.37Q258.6 411.55 357.5 397.45Z" fill="#00FFFF"/><path d="M261.47 311.69A99.9 99.9 0 0 1 262.39 311.72Q258.6 411.55 242.81 510.19A99.9 99.9 0 0 1 241.97 510.06Q258.6 411.55 261.47 311.69Z" fill="#483D8B"/><path d="M262.58 311.73A99.9 99.9 0 0 1 264.42 311.82Q258.6 411.55 245.82 510.63A99.9 99.9 0 0 1 244.13 510.4Q258.6 411.55 262.58 311.73Z" fill="#483D8B"/><path d="M264.62 311.83A99.9 99.9 0 0 1 265.65 311.9Q258.6 411.55 243.94 510.37A99.9 99.9 0 0 1 243 510.22Q258.6 411.55 264.62 311.83Z" fill="#483D8B"/><path d="M265.84 311.91A99.9 99.9 0 0 1 271.28 312.46Q258.6 411.55 241.79 510.03A99.9 99.9 0 0 1 236.81 509.04Q258.6 411.55 265.84 311.91Z" fill="#483D8B"/><path d="M358.32 405.63A99.9 99.9 0 0 1 358.43 407.85Q258.6 411.55 248.44 510.93A99.9 99.9 0 0 1 246.39 510.7Q258.6 411.55 358.32 405.63Z" fill="#ADFF2F"/><path d="M358.43 407.94A99.9 99.9 0 0 1 358.44 408.21Q258.6 411.55 246.07 510.66A99.9 99.9 0 0 1 245.82 510.63Q258.6 411.55 358.43 407.94Z" fill="#ADFF2F"/><path d="M358.45 408.3A99.9 99.9 0 0 1 358.45 408.47Q258.6 411.55 246.31 510.69A99.9 99.9 0 0 1 246.15 510.67Q258.6 411.55 358.45 408.3Z" fill="#ADFF2F"/><path d="M358.46 408.56A99.9 99.9 0 0 1 358.49 410.05Q258.6 411.55 249.91 511.07A99.9 99.9 0 0 1 248.53 510.94Q258.6 411.55 358.46 408.56Z" fill="#ADFF2F"/><path d="M192.88 336.31A99.9 99.9 0 0 1 193.91 335.42Q258.6 411.55 277.68 509.61A99.9 99.9 0 0 1 276.12 509.9Q258.6 411.55 192.88 336.31Z" fill="#FF1493"/><path d="M194.09 335.27A99.9 99.9 0 0 1 194.16 335.21Q258.6 411.55 273.75 510.29A99.9 99.9 0 0 1 273.65 510.31Q258.6 411.55 194.09 335.27Z" fill="#FF1493"/><path d="M194.31 335.09A99.9 99.9 0 0 1 195.94 333.74Q258.6 411.55 268.9 510.92A99.9 99.9 0 0 1 266.45 511.14Q258.6 411.55 194.31 335.09Z" fill="#FF1493"/><path d="M196.09 333.62A99.9 99.9 0 0 1 197.38 332.6Q258.6 411.55 275.85 509.95A99.9 99.9 0 0 1 273.97 510.26Q258.6 411.55 196.09 333.62Z" fill="#FF1493"/><path d="M197.54 332.49A99.9 99.9 0 0 1 200.53 330.26Q258.6 411.55 273.42 510.34A99.9 99.9 0 0 1 269.12 510.89Q258.6 411.55 197.54 332.49Z" fill="#FF1493"/><path d="M158.7 411.38A99.9 99.9 0 0 1 158.72 409.43Q258.6 411.55 281.79 508.72A99.9 99.9 0 0 1 279.9 509.15Q258.6 411.55 158.7 411.38Z" fill="#2F4F4F"/><path d="M158.73 409.2A99.9 99.9 0 0 1 158.9 405.21Q258.6 411.55 290.74 506.14A99.9 99.9 0 0 1 286.97 507.34Q258.6 411.55 158.73 409.2Z" fill="#2F4F4F"/><path d="M158.92 404.99A99.9 99.9 0 0 1 159.36 400.05Q258.6 411.55 286.76 507.4A99.9 99.9 0 0 1 282.01 508.67Q258.6 411.55 158.92 404.99Z" fill="#2F4F4F"/><path d="M167.37 370.84A99.9 99.9 0 0 1 168.1 369.24Q258.6 411.55 301.49 501.78A99.9 99.9 0 0 1 300.1 502.42Q258.6 411.55 167.37 370.84Z" fill="#FF00FF"/><path d="M168.21 369.02A99.9 99.9 0 0 1 168.67 368.04Q258.6 411.55 302.53 501.27A99.9 99.9 0 0 1 301.68 501.69Q258.6 411.55 168.21 369.02Z" fill="#FF00FF"/><path d="M168.78 367.83A99.9 99.9 0 0 1 172.92 360.18Q258.6 411.55 299.9 502.51A99.9 99.9 0 0 1 292.88 505.38Q258.6 411.55 168.78 367.83Z" fill="#FF00FF"/><path d="M174.1 358.25A99.9 99.9 0 0 1 175.21 356.54Q258.6 411.55 306.15 499.41A99.9 99.9 0 0 1 304.55 500.25Q258.6 411.55 174.1 358.25Z" fill="#1E90FF"/><path d="M175.33 356.35A99.9 99.9 0 0 1 177.02 353.89Q258.6 411.55 308.64 498.01A99.9 99.9 0 0 1 306.33 499.31Q258.6 411.55 175.33 356.35Z" fill="#1E90FF"/><path d="M177.22 353.61A99.9 99.9 0 0 1 177.69 352.96Q258.6 411.55 309.52 497.5A99.9 99.9 0 0 1 308.91 497.86Q258.6 411.55 177.22 353.61Z" fill="#1E90FF"/><path d="M177.82 352.78A99.9 99.9 0 0 1 180.59 349.15Q258.6 411.55 313.14 495.25A99.9 99.9 0 0 1 309.7 497.39Q258.6 411.55 177.82 352.78Z" fill="#1E90FF"/><path d="M202.39 328.96A99.9 99.9 0 0 1 203.83 328.01Q258.6 411.55 317.43 492.29A99.9 99.9 0 0 1 316.11 493.23Q258.6 411.55 202.39 328.96Z" fill="#FFDEAD"/><path d="M204.13 327.81A99.9 99.9 0 0 1 205.13 327.16Q258.6 411.55 315.95 493.35A99.9 99.9 0 0 1 315.03 493.99Q258.6 411.55 204.13 327.81Z" fill="#FFDEAD"/><path d="M205.31 327.05A99.9 99.9 0 0 1 205.7 326.8Q258.6 411.55 318.05 491.84A99.9 99.9 0 0 1 317.7 492.09Q258.6 411.55 205.31 327.05Z" fill="#FFDEAD"/><path d="M205.89 326.69A99.9 99.9 0 0 1 211.67 323.36Q258.6 411.55 323.12 487.82A99.9 99.9 0 0 1 318.21 491.72Q258.6 411.55 205.89 326.69Z" fill="#FFDEAD"/><path d="M213.69 322.32A99.9 99.9 0 0 1 215.68 321.34Q258.6 411.55 328.42 483A99.9 99.9 0 0 1 326.99 484.37Q258.6 411.55 213.69 322.32Z" fill="#FFB6C1"/><path d="M215.87 321.25A99.9 99.9 0 0 1 218.64 319.99Q258.6 411.55 326.85 484.5A99.9 99.9 0 0 1 324.83 486.34Q258.6 411.55 215.87 321.25Z" fill="#FFB6C1"/><path d="M218.84 319.9A99.9 99.9 0 0 1 221.98 318.6Q258.6 411.55 331.68 479.66A99.9 99.9 0 0 1 329.57 481.86Q258.6 411.55 218.84 319.9Z" fill="#FFB6C1"/><path d="M222.18 318.53A99.9 99.9 0 0 1 223.47 318.03Q258.6 411.55 329.44 481.99A99.9 99.9 0 0 1 328.56 482.86Q258.6 411.55 222.18 318.53Z" fill="#FFB6C1"/><path d="M285.04 315.21A99.9 99.9 0 0 1 288.1 316.11Q258.6 411.55 338.85 471.05A99.9 99.9 0 0 1 337.23 473.18Q258.6 411.55 285.04 315.21Z" fill="#4682B4"/><path d="M288.31 316.17A99.9 99.9 0 0 1 291.64 317.27Q258.6 411.55 336.6 473.96A99.9 99.9 0 0 1 334.74 476.23Q258.6 411.55 288.31 316.17Z" fill="#4682B4"/><path d="M291.84 317.34A99.9 99.9 0 0 1 292.98 317.75Q258.6 411.55 334.62 476.36A99.9 99.9 0 0 1 333.96 477.13Q258.6 411.55 291.84 317.34Z" fill="#4682B4"/><path d="M293.18 317.83A99.9 99.9 0 0 1 293.9 318.1Q258.6 411.55 337.12 473.32A99.9 99.9 0 0 1 336.72 473.82Q258.6 411.55 293.18 317.83Z" fill="#4682B4"/><path d="M294.1 318.17A99.9 99.9 0 0 1 295.17 318.58Q258.6 411.55 333.84 477.27A99.9 99.9 0 0 1 333.21 477.99Q258.6 411.55 294.1 318.17Z" fill="#4682B4"/><path d="M325.3 337.18A99.9 99.9 0 0 1 327.77 339.47Q258.6 411.55 343.59 464.05A99.9 99.9 0 0 1 342.42 465.9Q258.6 411.55 325.3 337.18Z" fill="#FF0000"/><path d="M327.91 339.6A99.9 99.9 0 0 1 328.88 340.55Q258.6 411.55 342.35 466.01A99.9 99.9 0 0 1 341.87 466.74Q258.6 411.55 327.91 339.6Z" fill="#FF0000"/><path d="M329.01 340.68A99.9 99.9 0 0 1 330.2 341.88Q258.6 411.55 341.8 466.85A99.9 99.9 0 0 1 341.19 467.76Q258.6 411.55 329.01 340.68Z" fill="#FF0000"/><path d="M330.33 342.02A99.9 99.9 0 0 1 332.07 343.86Q258.6 411.55 341.12 467.86A99.9 99.9 0 0 1 340.18 469.21Q258.6 411.55 330.33 342.02Z" fill="#FF0000"/><path d="M358.5 412.31A99.9 99.9 0 0 1 358.49 412.67Q258.6 411.55 344.66 462.29A99.9 99.9 0 0 1 344.54 462.49Q258.6 411.55 358.5 412.31Z" fill="#DA70D6"/><path d="M358.49 412.74A99.9 99.9 0 0 1 358.49 413.17Q258.6 411.55 344.27 462.93A99.9 99.9 0 0 1 344.12 463.18Q258.6 411.55 358.49 412.74Z" fill="#DA70D6"/><path d="M358.49 413.24A99.9 99.9 0 0 1 358.48 413.5Q258.6 411.55 344.38 462.75A99.9 99.9 0 0 1 344.29 462.9Q258.6 411.55 358.49 413.24Z" fill="#DA70D6"/><path d="M358.48 413.56A99.9 99.9 0 0 1 358.47 413.91Q258.6 411.55 344.52 462.52A99.9 99.9 0 0 1 344.4 462.72Q258.6 411.55 358.48 413.56Z" fill="#DA70D6"/><path d="M358.47 413.98A99.9 99.9 0 0 1 358.46 414.48Q258.6 411.55 344.1 463.21A99.9 99.9 0 0 1 343.93 463.49Q258.6 411.55 358.47 413.98Z" fill="#DA70D6"/><path d="M358.46 414.54A99.9 99.9 0 0 1 358.42 415.48Q258.6 411.55 343.91 463.53A99.9 99.9 0 0 1 343.59 464.05Q258.6 411.55 358.46 414.54Z" fill="#DA70D6"/><path d="M357.86 400.3A99.9 99.9 0 0 1 358.01 401.67Q258.6 411.55 348.09 455.95A99.9 99.9 0 0 1 345.79 460.32Q258.6 411.55 357.86 400.3Z" fill="#0000FF"/><path d="M358.02 401.73A99.9 99.9 0 0 1 358.07 402.27Q258.6 411.55 349.03 454A99.9 99.9 0 0 1 348.19 455.75Q258.6 411.55 358.02 401.73Z" fill="#0000FF"/><path d="M358.07 402.33A99.9 99.9 0 0 1 358.13 402.92Q258.6 411.55 350 451.88A99.9 99.9 0 0 1 349.12 453.8Q258.6 411.55 358.07 402.33Z" fill="#0000FF"/><path d="M358.13 402.98A99.9 99.9 0 0 1 358.16 403.37Q258.6 411.55 350.63 450.42A99.9 99.9 0 0 1 350.08 451.68Q258.6 411.55 358.13 402.98Z" fill="#0000FF"/><path d="M358.31 417.75A99.9 99.9 0 0 1 358.16 419.79Q258.6 411.55 356.08 433.42A99.9 99.9 0 0 1 355.7 435.05Q258.6 411.55 358.31 417.75Z" fill="#1E90FF"/><path d="M358.14 420.03A99.9 99.9 0 0 1 357.95 422.03Q258.6 411.55 356.46 431.64A99.9 99.9 0 0 1 356.12 433.24Q258.6 411.55 358.14 420.03Z" fill="#1E90FF"/><path d="M357.92 422.27A99.9 99.9 0 0 1 357.81 423.29Q258.6 411.55 354.29 440.23A99.9 99.9 0 0 1 354.05 441.03Q258.6 411.55 357.92 422.27Z" fill="#1E90FF"/><path d="M357.78 423.52A99.9 99.9 0 0 1 356.86 429.58Q258.6 411.55 355.65 435.24A99.9 99.9 0 0 1 354.35 440.05Q258.6 411.55 357.78 423.52Z" fill="#1E90FF"/><path d="M297.85 319.68A99.9 99.9 0 0 1 298.83 320.11Q258.6 411.55 299.63 502.64A99.9 99.9 0 0 1 298.66 503.07Q258.6 411.55 297.85 319.68Z" fill="#000080" fill-opacity="0.9"/><path d="M159.2 401.59A99.9 99.9 0 0 1 159.29 400.75Q258.6 411.55 183.99 477.98A99.9 99.9 0 0 1 183.42 477.34Q258.6 411.55 159.2 401.59Z" fill="#2F4F4F" fill-opacity="0.9"/><path d="M357.35 426.64A99.9 99.9 0 0 1 357.2 427.58Q258.6 411.55 328.78 482.65A99.9 99.9 0 0 1 328.1 483.31Q258.6 411.55 357.35 426.64Z" fill="#1E90FF" fill-opacity="0.9"/><path d="M358.19 419.47A99.9 99.9 0 0 1 358.14 420.01Q258.6 411.55 342.68 465.5A99.9 99.9 0 0 1 342.39 465.95Q258.6 411.55 358.19 419.47Z" fill="#1E90FF" fill-opacity="0.9"/><path d="M357.93 400.85A99.9 99.9 0 0 1 358.01 401.68Q258.6 411.55 336.49 474.11A99.9 99.9 0 0 1 335.96 474.76Q258.6 411.55 357.93 400.85Z" fill="#0000FF" fill-opacity="0.9"/><path d="M179.69 350.29A99.9 99.9 0 0 1 180.38 349.41Q258.6 411.55 255.69 511.41A99.9 99.9 0 0 1 254.56 511.37Q258.6 411.55 179.69 350.29Z" fill="#1E90FF" fill-opacity="0.9"/><path d="M357.32 396.24A99.9 99.9 0 0 1 357.48 397.31Q258.6 411.55 200.8 493.03A99.9 99.9 0 0 1 199.92 492.4Q258.6 411.55 357.32 396.24Z" fill="#00FFFF" fill-opacity="0.9"/><path d="M358.49 413.12A99.9 99.9 0 0 1 358.47 413.91Q258.6 411.55 185.28 479.4A99.9 99.9 0 0 1 184.74 478.82Q258.6 411.55 358.49 413.12Z" fill="#DA70D6" fill-opacity="0.9"/><path d="M220.27 319.3A99.9 99.9 0 0 1 220.71 319.12Q258.6 411.55 203.98 495.19A99.9 99.9 0 0 1 203.58 494.94Q258.6 411.55 220.27 319.3Z" fill="#FFB6C1" fill-opacity="0.9"/><path d="M197.54 332.48A99.9 99.9 0 0 1 198.17 332Q258.6 411.55 270.08 510.79A99.9 99.9 0 0 1 269.3 510.88Q258.6 411.55 197.54 332.48Z" fill="#FF1493" fill-opacity="0.9"/><path d="M249.82 312.04A99.9 99.9 0 0 1 250.91 311.95Q258.6 411.55 165.53 447.87A99.9 99.9 0 0 1 165.14 446.85Q258.6 411.55 249.82 312.04Z" fill="#808000" fill-opacity="0.9"/><path d="M355.14 385.84A99.9 99.9 0 0 1 355.27 386.37Q258.6 411.55 342.66 465.54A99.9 99.9 0 0 1 342.36 466Q258.6 411.55 355.14 385.84Z" fill="#DC143C" fill-opacity="0.9"/><path d="M350.74 372.94A99.9 99.9 0 0 1 350.93 373.41Q258.6 411.55 245.31 510.56A99.9 99.9 0 0 1 244.81 510.49Q258.6 411.55 350.74 372.94Z" fill="#00FF7F" fill-opacity="0.9"/><path d="M230.17 315.78A99.9 99.9 0 0 1 230.69 315.63Q258.6 411.55 354.35 440.06A99.9 99.9 0 0 1 354.19 440.58Q258.6 411.55 230.17 315.78Z" fill="#8B4513" fill-opacity="0.9"/><path d="M297.82 319.67A99.9 99.9 0 0 1 298.43 319.93Q258.6 411.55 159.73 425.85A99.9 99.9 0 0 1 159.64 425.19Q258.6 411.55 297.82 319.67Z" fill="#000080" fill-opacity="0.9"/><path d="M358.26 418.48A99.9 99.9 0 0 1 358.21 419.11Q258.6 411.55 271.24 510.65A99.9 99.9 0 0 1 270.61 510.73Q258.6 411.55 358.26 418.48Z" fill="#1E90FF" fill-opacity="0.9"/><path d="M167.72 370.08A99.9 99.9 0 0 1 168.11 369.22Q258.6 411.55 213.35 500.61A99.9 99.9 0 0 1 212.51 500.18Q258.6 411.55 167.72 370.08Z" fill="#FF00FF" fill-opacity="0.9"/><path d="M251.4 311.91A99.9 99.9 0 0 1 252.47 311.84Q258.6 411.55 253.46 511.32A99.9 99.9 0 0 1 252.39 511.26Q258.6 411.55 251.4 311.91Z" fill="#808000" fill-opacity="0.9"/><path d="M351.81 375.61A99.9 99.9 0 0 1 352.23 376.73Q258.6 411.55 334.37 476.66A99.9 99.9 0 0 1 333.58 477.56Q258.6 411.55 351.81 375.61Z" fill="#00FF7F" fill-opacity="0.9"/><path d="M313.33 327.97A99.9 99.9 0 0 1 313.82 328.3Q258.6 411.55 171.53 460.53A99.9 99.9 0 0 1 171.24 460.01Q258.6 411.55 313.33 327.97Z" fill="#800080" fill-opacity="0.9"/><path d="M208.99 324.84A99.9 99.9 0 0 1 209.52 324.54Q258.6 411.55 327.23 484.14A99.9 99.9 0 0 1 326.79 484.56Q258.6 411.55 208.99 324.84Z" fill="#FFDEAD" fill-opacity="0.9"/><path d="M202.69 328.76A99.9 99.9 0 0 1 203.08 328.5Q258.6 411.55 305.49 499.76A99.9 99.9 0 0 1 305.08 499.98Q258.6 411.55 202.69 328.76Z" fill="#FFDEAD" fill-opacity="0.9"/><path d="M158.74 408.83A99.9 99.9 0 0 1 158.75 408.37Q258.6 411.55 172.84 462.78A99.9 99.9 0 0 1 172.61 462.39Q258.6 411.55 158.74 408.83Z" fill="#2F4F4F" fill-opacity="0.9"/><path d="M160.21 394.25A99.9 99.9 0 0 1 160.36 393.39Q258.6 411.55 338.75 471.18A99.9 99.9 0 0 1 338.23 471.87Q258.6 411.55 160.21 394.25Z" fill="#FFA500" fill-opacity="0.9"/><path d="M163.24 381.78A99.9 99.9 0 0 1 163.52 380.9Q258.6 411.55 257.77 511.45A99.9 99.9 0 0 1 256.84 511.43Q258.6 411.55 163.24 381.78Z" fill="#FF7F50" fill-opacity="0.9"/><path d="M355.31 386.52A99.9 99.9 0 0 1 355.58 387.59Q258.6 411.55 346.89 458.3A99.9 99.9 0 0 1 346.37 459.27Q258.6 411.55 355.31 386.52Z" fill="#DC143C" fill-opacity="0.9"/><path d="M172.46 360.95A99.9 99.9 0 0 1 172.76 360.45Q258.6 411.55 165.21 447.03A99.9 99.9 0 0 1 165.01 446.48Q258.6 411.55 172.46 360.95Z" fill="#FF00FF" fill-opacity="0.9"/><path d="M264.04 311.8A99.9 99.9 0 0 1 264.8 311.84Q258.6 411.55 256.39 511.43A99.9 99.9 0 0 1 255.63 511.41Q258.6 411.55 264.04 311.8Z" fill="#483D8B" fill-opacity="0.9"/><path d="M357.95 401.13A99.9 99.9 0 0 1 358.05 402.07Q258.6 411.55 297.36 503.63A99.9 99.9 0 0 1 296.49 503.99Q258.6 411.55 357.95 401.13Z" fill="#0000FF" fill-opacity="0.9"/><path d="M280.57 314.1A99.9 99.9 0 0 1 281.32 314.27Q258.6 411.55 212.14 499.99A99.9 99.9 0 0 1 211.46 499.63Q258.6 411.55 280.57 314.1Z" fill="#3CB371" fill-opacity="0.9"/><path d="M285.55 315.35A99.9 99.9 0 0 1 286.06 315.5Q258.6 411.55 208.85 498.18A99.9 99.9 0 0 1 208.38 497.91Q258.6 411.55 285.55 315.35Z" fill="#4682B4" fill-opacity="0.9"/><path d="M357.36 396.52A99.9 99.9 0 0 1 357.46 397.19Q258.6 411.55 222.63 504.75A99.9 99.9 0 0 1 222 504.51Q258.6 411.55 357.36 396.52Z" fill="#00FFFF" fill-opacity="0.9"/><path d="M263.77 311.78A99.9 99.9 0 0 1 264.3 311.81Q258.6 411.55 300.05 502.45A99.9 99.9 0 0 1 299.56 502.66Q258.6 411.55 263.77 311.78Z" fill="#483D8B" fill-opacity="0.9"/><path d="M166.17 373.65A99.9 99.9 0 0 1 166.39 373.1Q258.6 411.55 184.53 478.59A99.9 99.9 0 0 1 184.14 478.15Q258.6 411.55 166.17 373.65Z" fill="#FF7F50" fill-opacity="0.9"/><path d="M358.02 401.81A99.9 99.9 0 0 1 358.11 402.78Q258.6 411.55 210.08 498.88A99.9 99.9 0 0 1 209.23 498.4Q258.6 411.55 358.02 401.81Z" fill="#0000FF" fill-opacity="0.9"/><path d="M338.1 351.06A99.9 99.9 0 0 1 338.44 351.51Q258.6 411.55 255.88 511.41A99.9 99.9 0 0 1 255.32 511.4Q258.6 411.55 338.1 351.06Z" fill="#FFFF00" fill-opacity="0.9"/><path d="M313.23 327.91A99.9 99.9 0 0 1 313.8 328.29Q258.6 411.55 262.72 511.36A99.9 99.9 0 0 1 262.04 511.39Q258.6 411.55 313.23 327.91Z" fill="#800080" fill-opacity="0.9"/><path d="M357.88 400.4A99.9 99.9 0 0 1 358 401.59Q258.6 411.55 262.25 511.38A99.9 99.9 0 0 1 261.06 511.42Q258.6 411.55 357.88 400.4Z" fill="#0000FF" fill-opacity="0.9"/><path d="M196.32 333.44A99.9 99.9 0 0 1 197.04 332.87Q258.6 411.55 343.29 464.53A99.9 99.9 0 0 1 342.8 465.31Q258.6 411.55 196.32 333.44Z" fill="#FF1493" fill-opacity="0.9"/><path d="M184.5 344.55A99.9 99.9 0 0 1 184.96 344.04Q258.6 411.55 340.78 468.36A99.9 99.9 0 0 1 340.39 468.91Q258.6 411.55 184.5 344.55Z" fill="#ADD8E6" fill-opacity="0.9"/><path d="M210.22 324.15A99.9 99.9 0 0 1 210.69 323.89Q258.6 411.55 167.39 452.3A99.9 99.9 0 0 1 167.17 451.82Q258.6 411.55 210.22 324.15Z" fill="#FFDEAD" fill-opacity="0.9"/><path d="M358.46 414.3A99.9 99.9 0 0 1 358.44 415.1Q258.6 411.55 349.38 453.25A99.9 99.9 0 0 1 349.04 453.98Q258.6 411.55 358.46 414.3Z" fill="#DA70D6" fill-opacity="0.9"/><path d="M228.92 316.16A99.9 99.9 0 0 1 229.88 315.87Q258.6 411.55 163.84 443.17A99.9 99.9 0 0 1 163.53 442.22Q258.6 411.55 228.92 316.16Z" fill="#8B4513" fill-opacity="0.9"/><path d="M335.25 347.48A99.9 99.9 0 0 1 335.7 348.02Q258.6 411.55 162.95 440.37A99.9 99.9 0 0 1 162.75 439.69Q258.6 411.55 335.25 347.48Z" fill="#FFFF00" fill-opacity="0.9"/><path d="M231.14 315.5A99.9 99.9 0 0 1 232.19 315.2Q258.6 411.55 349.52 452.94A99.9 99.9 0 0 1 349.07 453.92Q258.6 411.55 231.14 315.5Z" fill="#8B4513" fill-opacity="0.9"/><path d="M169.55 366.28A99.9 99.9 0 0 1 170.06 365.27Q258.6 411.55 238.06 509.32A99.9 99.9 0 0 1 236.96 509.08Q258.6 411.55 169.55 366.28Z" fill="#FF00FF" fill-opacity="0.9"/><path d="M326.78 338.53A99.9 99.9 0 0 1 327.34 339.06Q258.6 411.55 349.48 453.03A99.9 99.9 0 0 1 349.16 453.72Q258.6 411.55 326.78 338.53Z" fill="#FF0000" fill-opacity="0.9"/><path d="M358.44 408A99.9 99.9 0 0 1 358.46 408.71Q258.6 411.55 355.81 434.6A99.9 99.9 0 0 1 355.64 435.29Q258.6 411.55 358.44 408Z" fill="#ADFF2F" fill-opacity="0.9"/><path d="M337.38 350.11A99.9 99.9 0 0 1 337.93 350.84Q258.6 411.55 355.21 436.97A99.9 99.9 0 0 1 354.98 437.85Q258.6 411.55 337.38 350.11Z" fill="#FFFF00" fill-opacity="0.9"/><path d="M209.72 324.43A99.9 99.9 0 0 1 210.47 324.01Q258.6 411.55 305.36 499.83A99.9 99.9 0 0 1 304.6 500.23Q258.6 411.55 209.72 324.43Z" fill="#FFDEAD" fill-opacity="0.9"/><path d="M358.46 414.23A99.9 99.9 0 0 1 358.44 414.94Q258.6 411.55 342.9 465.16A99.9 99.9 0 0 1 342.52 465.75Q258.6 411.55 358.46 414.23Z" fill="#DA70D6" fill-opacity="0.9"/><path d="M161.67 387.38A99.9 99.9 0 0 1 161.79 386.88Q258.6 411.55 280.54 509.01A99.9 99.9 0 0 1 280.04 509.12Q258.6 411.55 161.67 387.38Z" fill="#FFA500" fill-opacity="0.9"/><path d="M312.35 327.34A99.9 99.9 0 0 1 312.79 327.63Q258.6 411.55 159.91 427.08A99.9 99.9 0 0 1 159.83 426.56Q258.6 411.55 312.35 327.34Z" fill="#800080" fill-opacity="0.9"/><path d="M174.16 358.17A99.9 99.9 0 0 1 174.57 357.52Q258.6 411.55 337.21 473.2A99.9 99.9 0 0 1 336.73 473.8Q258.6 411.55 174.16 358.17Z" fill="#1E90FF" fill-opacity="0.9"/><path d="M216.26 321.06A99.9 99.9 0 0 1 217.06 320.69Q258.6 411.55 346.51 459.01A99.9 99.9 0 0 1 346.09 459.78Q258.6 411.55 216.26 321.06Z" fill="#FFB6C1" fill-opacity="0.9"/><path d="M243.04 312.87A99.9 99.9 0 0 1 243.79 312.75Q258.6 411.55 232.28 507.92A99.9 99.9 0 0 1 231.54 507.72Q258.6 411.55 243.04 312.87Z" fill="#006400" fill-opacity="0.9"/><path d="M317.31 330.72A99.9 99.9 0 0 1 318.16 331.35Q258.6 411.55 321.36 489.27A99.9 99.9 0 0 1 320.54 489.93Q258.6 411.55 317.31 330.72Z" fill="#B03060" fill-opacity="0.9"/><path d="M205.83 326.73A99.9 99.9 0 0 1 206.24 326.47Q258.6 411.55 246.2 510.68A99.9 99.9 0 0 1 245.72 510.62Q258.6 411.55 205.83 326.73Z" fill="#FFDEAD" fill-opacity="0.9"/><path d="M328.15 339.83A99.9 99.9 0 0 1 328.9 340.57Q258.6 411.55 346.71 458.63A99.9 99.9 0 0 1 346.21 459.56Q258.6 411.55 328.15 339.83Z" fill="#FF0000" fill-opacity="0.9"/><path d="M357.09 394.82A99.9 99.9 0 0 1 357.21 395.56Q258.6 411.55 163.47 442.05A99.9 99.9 0 0 1 163.24 441.33Q258.6 411.55 357.09 394.82Z" fill="#00FFFF" fill-opacity="0.9"/><path d="M351.54 374.92A99.9 99.9 0 0 1 351.87 375.75Q258.6 411.55 247.2 510.8A99.9 99.9 0 0 1 246.31 510.69Q258.6 411.55 351.54 374.92Z" fill="#00FF7F" fill-opacity="0.9"/><path d="M184.95 344.05A99.9 99.9 0 0 1 185.38 343.58Q258.6 411.55 161.08 433.22A99.9 99.9 0 0 1 160.94 432.6Q258.6 411.55 184.95 344.05Z" fill="#ADD8E6" fill-opacity="0.9"/><path d="M162.59 383.93A99.9 99.9 0 0 1 166.47 372.92Q258.6 411.55 264.19 511.29A99.9 99.9 0 0 1 252.17 511.24Q258.6 411.55 162.59 383.93Z" fill="#FF7F50"/><path d="M249.7 312.05A99.9 99.9 0 0 1 259.2 311.65Q258.6 411.55 354.05 441.03A99.9 99.9 0 0 1 351.49 448.32Q258.6 411.55 249.7 312.05Z" fill="#808000"/><path d="M156.9 411.37A101.7 101.7 0 0 1 157.58 399.85" fill="none" stroke="#7d7680" stroke-width="0.7"/><path d="M157.87 397.56A101.7 101.7 0 0 1 160.25 385.65" fill="none" stroke="#7d7680" stroke-width="0.7"/><path d="M160.86 383.43A101.7 101.7 0 0 1 164.81 372.22" fill="none" stroke="#7d7680" stroke-width="0.7"/><path d="M165.73 370.1A101.7 101.7 0 0 1 171.37 359.26" fill="none" stroke="#7d7680" stroke-width="0.7"/><path d="M172.58 357.29A101.7 101.7 0 0 1 179.18 348.03" fill="none" stroke="#7d7680" stroke-width="0.7"/><path d="M180.64 346.24A101.7 101.7 0 0 1 189.98 336.49" fill="none" stroke="#7d7680" stroke-width="0.7"/><path d="M191.7 334.96A101.7 101.7 0 0 1 199.49 328.79" fill="none" stroke="#7d7680" stroke-width="0.7"/><path d="M201.38 327.47A101.7 101.7 0 0 1 210.83 321.77" fill="none" stroke="#7d7680" stroke-width="0.7"/><path d="M212.88 320.71A101.7 101.7 0 0 1 222.83 316.35" fill="none" stroke="#7d7680" stroke-width="0.7"/><path d="M225 315.56A101.7 101.7 0 0 1 235.27 312.56" fill="none" stroke="#7d7680" stroke-width="0.7"/><path d="M237.52 312.06A101.7 101.7 0 0 1 247.25 310.49" fill="none" stroke="#7d7680" stroke-width="0.7"/><path d="M249.54 310.25A101.7 101.7 0 0 1 259.21 309.85" fill="none" stroke="#7d7680" stroke-width="0.7"/><path d="M261.52 309.89A101.7 101.7 0 0 1 271.51 310.67" fill="none" stroke="#7d7680" stroke-width="0.7"/><path d="M273.79 310.99A101.7 101.7 0 0 1 283.28 312.89" fill="none" stroke="#7d7680" stroke-width="0.7"/><path d="M285.52 313.48A101.7 101.7 0 0 1 295.83 316.91" fill="none" stroke="#7d7680" stroke-width="0.7"/><path d="M297.97 317.78A101.7 101.7 0 0 1 305.8 321.47" fill="none" stroke="#7d7680" stroke-width="0.7"/><path d="M307.83 322.56A101.7 101.7 0 0 1 315.02 326.93" fill="none" stroke="#7d7680" stroke-width="0.7"/><path d="M316.92 328.23A101.7 101.7 0 0 1 324.77 334.32" fill="none" stroke="#7d7680" stroke-width="0.7"/><path d="M326.51 335.84A101.7 101.7 0 0 1 333.4 342.64" fill="none" stroke="#7d7680" stroke-width="0.7"/><path d="M334.94 344.36A101.7 101.7 0 0 1 340.38 351.09" fill="none" stroke="#7d7680" stroke-width="0.7"/><path d="M341.73 352.97A101.7 101.7 0 0 1 346.16 359.81" fill="none" stroke="#7d7680" stroke-width="0.7"/><path d="M347.31 361.81A101.7 101.7 0 0 1 351.36 369.85" fill="none" stroke="#7d7680" stroke-width="0.7"/><path d="M352.28 371.97A101.7 101.7 0 0 1 355.04 379.27" fill="none" stroke="#7d7680" stroke-width="0.7"/><path d="M355.75 381.47A101.7 101.7 0 0 1 357.88 389.51" fill="none" stroke="#7d7680" stroke-width="0.7"/><path d="M358.36 391.77A101.7 101.7 0 0 1 359.37 397.8" fill="none" stroke="#7d7680" stroke-width="0.7"/><path d="M359.65 400.09A101.7 101.7 0 0 1 359.96 403.22" fill="none" stroke="#7d7680" stroke-width="0.7"/><path d="M360.12 405.52A101.7 101.7 0 0 1 360.29 410.02" fill="none" stroke="#7d7680" stroke-width="0.7"/><path d="M360.3 412.33A101.7 101.7 0 0 1 360.22 415.55" fill="none" stroke="#7d7680" stroke-width="0.7"/><path d="M360.1 417.86A101.7 101.7 0 0 1 358.63 429.91" fill="none" stroke="#7d7680" stroke-width="0.7"/><path d="M159.75 435.44A101.7 101.7 0 0 1 156.99 415.72" fill="none" stroke="#7d7680" stroke-width="0.7"/><path d="M166.27 454.2A101.7 101.7 0 0 1 160.31 437.67" fill="none" stroke="#7d7680" stroke-width="0.7"/><path d="M176.14 471.08A101.7 101.7 0 0 1 167.27 456.28" fill="none" stroke="#7d7680" stroke-width="0.7"/><path d="M189.23 485.91A101.7 101.7 0 0 1 177.51 472.93" fill="none" stroke="#7d7680" stroke-width="0.7"/><path d="M203.81 497.23A101.7 101.7 0 0 1 190.93 487.47" fill="none" stroke="#7d7680" stroke-width="0.7"/><path d="M218.67 505.08A101.7 101.7 0 0 1 205.77 498.45" fill="none" stroke="#7d7680" stroke-width="0.7"/><path d="M234.17 510.27A101.7 101.7 0 0 1 220.8 505.97" fill="none" stroke="#7d7680" stroke-width="0.7"/><path d="M249.75 512.86A101.7 101.7 0 0 1 236.42 510.8" fill="none" stroke="#7d7680" stroke-width="0.7"/><path d="M264.29 513.09A101.7 101.7 0 0 1 252.05 513.04" fill="none" stroke="#7d7680" stroke-width="0.7"/><path d="M278.02 511.38A101.7 101.7 0 0 1 266.6 512.94" fill="none" stroke="#7d7680" stroke-width="0.7"/><path d="M291.32 507.84A101.7 101.7 0 0 1 280.28 510.91" fill="none" stroke="#7d7680" stroke-width="0.7"/><path d="M303.32 502.89A101.7 101.7 0 0 1 293.5 507.07" fill="none" stroke="#7d7680" stroke-width="0.7"/><path d="M314.12 496.75A101.7 101.7 0 0 1 305.38 501.85" fill="none" stroke="#7d7680" stroke-width="0.7"/><path d="M324.28 489.19A101.7 101.7 0 0 1 316.04 495.47" fill="none" stroke="#7d7680" stroke-width="0.7"/><path d="M333 480.89A101.7 101.7 0 0 1 326.03 487.68" fill="none" stroke="#7d7680" stroke-width="0.7"/><path d="M340.29 472.12A101.7 101.7 0 0 1 334.55 479.18" fill="none" stroke="#7d7680" stroke-width="0.7"/><path d="M346.21 463.2A101.7 101.7 0 0 1 341.65 470.25" fill="none" stroke="#7d7680" stroke-width="0.7"/><path d="M352.29 451.12A101.7 101.7 0 0 1 347.36 461.2" fill="none" stroke="#7d7680" stroke-width="0.7"/><path d="M358.22 432A101.7 101.7 0 0 1 353.16 448.98" fill="none" stroke="#7d7680" stroke-width="0.7"/><path d="M156.9 411.37L155.6 411.37M156.94 408.71L155.64 408.67M157.05 406.05L155.75 405.98M157.23 403.39L155.93 403.29M157.48 400.74L156.18 400.6M157.87 397.56L156.58 397.38M158.27 394.93L156.99 394.71M158.74 392.3L157.46 392.06M159.28 389.7L158.01 389.42M159.88 387.1L158.62 386.79M160.86 383.43L159.62 383.07M161.63 380.88L160.39 380.49M162.47 378.35L161.24 377.93M163.37 375.85L162.16 375.39M164.34 373.37L163.13 372.88M165.73 370.1L164.54 369.57M166.85 367.69L165.67 367.12M168.03 365.3L166.87 364.71M169.27 362.94L168.13 362.32M170.57 360.62L169.45 359.97M172.58 357.29L171.48 356.6M174.03 355.06L172.95 354.34M175.54 352.87L174.48 352.12M177.1 350.71L176.06 349.93M178.72 348.6L177.7 347.79M180.64 346.24L179.64 345.41M182.38 344.22L181.4 343.36M184.17 342.25L183.21 341.36M186.01 340.33L185.08 339.41M187.9 338.45L186.99 337.51M189.83 336.62L188.95 335.67M191.7 334.96L190.84 333.98M193.72 333.23L192.89 332.23M195.8 331.56L194.99 330.54M197.91 329.94L197.14 328.9M201.38 327.47L200.65 326.4M203.6 326L202.9 324.91M205.86 324.59L205.19 323.48M208.15 323.24L207.51 322.11M210.48 321.95L209.87 320.81M212.88 320.71L212.29 319.55M215.27 319.54L214.72 318.37M217.7 318.44L217.17 317.25M220.15 317.4L219.65 316.2M222.62 316.43L222.16 315.21M225 315.56L224.57 314.33M227.53 314.71L227.13 313.48M230.07 313.93L229.71 312.69M232.64 313.22L232.3 311.96M235.22 312.57L234.92 311.31M237.52 312.06L237.25 310.79M240.13 311.54L239.9 310.26M242.76 311.09L242.56 309.81M245.39 310.71L245.22 309.42M249.54 310.25L249.43 308.96M252.2 310.05L252.11 308.75M254.85 309.92L254.81 308.62M257.52 309.86L257.5 308.56M261.52 309.89L261.56 308.59M264.18 310L264.25 308.71M266.84 310.18L266.94 308.89M269.49 310.43L269.63 309.14M273.79 310.99L273.99 309.71M276.42 311.42L276.65 310.14M279.04 311.92L279.3 310.65M281.64 312.49L281.93 311.23M285.52 313.48L285.86 312.22M288.07 314.21L288.45 312.97M290.61 315.02L291.02 313.79M293.13 315.89L293.57 314.67M295.62 316.83L296.09 315.62M297.97 317.78L298.47 316.58M300.41 318.84L300.94 317.66M302.82 319.97L303.38 318.8M305.2 321.16L305.8 320M307.83 322.56L308.46 321.42M310.15 323.88L310.8 322.76M312.42 325.26L313.11 324.16M314.66 326.7L315.38 325.61M316.92 328.23L317.67 327.17M319.08 329.79L319.85 328.74M321.2 331.4L322 330.38M323.28 333.07L324.1 332.06M326.51 335.84L327.37 334.87M328.46 337.65L329.36 336.7M330.38 339.5L331.29 338.58M332.24 341.4L333.18 340.51M334.94 344.36L335.92 343.5M336.67 346.38L337.67 345.54M338.35 348.44L339.37 347.64M339.98 350.55L341.02 349.77M341.73 352.97L342.79 352.22M343.24 355.16L344.32 354.44M344.68 357.4L345.78 356.7M346.07 359.67L347.19 359.01M347.31 361.81L348.44 361.18M348.58 364.15L349.73 363.55M349.79 366.52L350.95 365.95M350.94 368.93L352.12 368.38M352.28 371.97L353.48 371.46M353.28 374.43L354.49 373.96M354.22 376.92L355.45 376.48M355.75 381.47L356.99 381.09M356.5 384.02L357.76 383.67M357.19 386.6L358.45 386.28M357.81 389.19L359.08 388.9M358.36 391.77L359.63 391.52M358.84 394.39L360.12 394.17M359.26 397.02L360.54 396.83M359.65 400.09L360.94 399.95M359.92 402.74L361.21 402.63M360.12 405.52L361.42 405.45M360.24 408.18L361.54 408.14M360.3 412.33L361.6 412.34M360.24 414.99L361.54 415.03M360.1 417.86L361.4 417.94M359.9 420.51L361.2 420.63M359.63 423.16L360.93 423.31M359.3 425.8L360.58 425.99M358.89 428.43L360.17 428.65M159.75 435.44L158.48 435.74M159.15 432.84L157.88 433.11M158.63 430.23L157.35 430.47M158.18 427.61L156.89 427.81M157.79 424.97L156.5 425.15M157.47 422.33L156.18 422.47M157.23 419.68L155.93 419.78M157.05 417.02L155.75 417.09M166.27 454.2L165.09 454.74M165.19 451.77L164 452.28M164.17 449.31L162.96 449.79M163.21 446.82L161.99 447.27M162.32 444.31L161.09 444.73M161.5 441.78L160.26 442.17M160.74 439.23L159.49 439.58M176.14 471.08L175.09 471.84M174.61 468.9L173.54 469.63M173.14 466.68L172.05 467.38M171.72 464.42L170.61 465.1M170.37 462.13L169.24 462.78M169.08 459.8L167.93 460.42M167.84 457.44L166.68 458.03M189.23 485.91L188.34 486.86M187.3 484.07L186.39 485M185.43 482.18L184.49 483.08M183.6 480.24L182.65 481.12M181.83 478.26L180.85 479.11M180.11 476.22L179.11 477.05M178.45 474.15L177.42 474.95M203.81 497.23L203.11 498.32M201.58 495.76L200.85 496.84M199.4 494.24L198.64 495.3M197.25 492.66L196.47 493.7M195.15 491.03L194.34 492.05M193.09 489.34L192.26 490.34M191.08 487.6L190.22 488.57M218.67 505.08L218.16 506.28M216.24 504.01L215.7 505.19M213.83 502.87L213.26 504.03M211.46 501.66L210.85 502.81M209.11 500.4L208.48 501.53M206.8 499.07L206.14 500.19M234.17 510.27L233.86 511.53M231.59 509.6L231.25 510.85M229.04 508.86L228.66 510.1M226.5 508.05L226.09 509.28M223.98 507.18L223.54 508.4M221.49 506.24L221.02 507.45M249.75 512.86L249.64 514.16M247.1 512.6L246.96 513.89M244.46 512.26L244.28 513.55M241.83 511.86L241.62 513.14M239.21 511.38L238.96 512.66M236.6 510.84L236.32 512.11M264.29 513.09L264.37 514.39M261.63 513.2L261.67 514.5M258.97 513.25L258.98 514.55M256.31 513.22L256.28 514.52M253.65 513.13L253.58 514.43M278.02 511.38L278.27 512.65M275.4 511.85L275.62 513.13M272.77 512.26L272.95 513.54M270.13 512.59L270.28 513.89M267.48 512.86L267.6 514.16M291.32 507.84L291.74 509.07M288.79 508.67L289.18 509.91M286.24 509.42L286.59 510.67M283.67 510.11L283.99 511.37M281.08 510.73L281.37 512M303.32 502.89L303.89 504.06M300.91 504.03L301.45 505.21M298.48 505.11L298.99 506.3M296.01 506.12L296.49 507.33M293.52 507.07L293.97 508.29M314.12 496.75L314.83 497.84M311.88 498.18L312.56 499.29M309.59 499.54L310.24 500.67M307.27 500.85L307.89 501.99M324.28 489.19L325.12 490.19M322.23 490.89L323.04 491.9M320.13 492.53L320.92 493.56M317.99 494.11L318.75 495.16M333 480.89L333.95 481.78M331.16 482.81L332.08 483.73M329.27 484.69L330.17 485.62M327.33 486.51L328.2 487.47M340.29 472.12L341.34 472.9M338.68 474.24L339.7 475.04M337.01 476.31L338.01 477.14M335.29 478.34L336.27 479.2M346.21 463.2L347.33 463.86M344.83 465.48L345.93 466.16M343.38 467.71L344.47 468.43M341.89 469.91L342.95 470.66M352.29 451.12L353.48 451.62M351.22 453.56L352.4 454.09M350.09 455.97L351.26 456.54M348.89 458.35L350.05 458.95M347.64 460.69L348.78 461.32M358.22 432L359.5 432.26M357.65 434.6L358.92 434.9M357.02 437.19L358.27 437.51M356.31 439.75L357.56 440.11M355.54 442.3L356.78 442.69M354.7 444.83L355.93 445.25M353.8 447.33L355.01 447.79" stroke="#8a8490" stroke-width="0.4" fill="none"/><text x="150.46" y="405.73" transform="rotate(273.95 150.46 403.93)">1</text><text x="152.71" y="390.01" transform="rotate(282.35 152.71 388.21)">2</text><text x="157.03" y="375.32" transform="rotate(290.45 157.03 373.52)">3</text><text x="162.93" y="362.23" transform="rotate(298.05 162.93 360.43)">4</text><text x="170.29" y="350.33" transform="rotate(305.45 170.29 348.53)">5</text><text x="179.49" y="339.09" transform="rotate(313.13 179.49 337.29)">6</text><text x="190.14" y="329.15" transform="rotate(320.84 190.14 327.35)">7</text><text x="201.43" y="321.1" transform="rotate(328.17 201.43 319.3)">8</text><text x="214.33" y="314.25" transform="rotate(335.9 214.33 312.45)">9</text><text x="228.04" y="309.2" transform="rotate(343.62 228.04 307.4)">10</text><text x="240.83" y="306.27" transform="rotate(350.56 240.83 304.47)">11</text><text x="253.53" y="304.92" transform="rotate(357.32 253.53 303.12)">12</text><text x="267.05" y="305.13" transform="rotate(4.47 267.05 303.33)">13</text><text x="280.06" y="306.95" transform="rotate(11.42 280.06 305.15)">14</text><text x="293.46" y="310.56" transform="rotate(18.76 293.46 308.76)">15</text><text x="304.95" y="315.21" transform="rotate(25.31 304.95 313.41)">16</text><text x="314.91" y="320.57" transform="rotate(31.3 314.91 318.77)">17</text><text x="324.99" y="327.51" transform="rotate(37.77 324.99 325.71)">18</text><text x="333.65" y="334.98" transform="rotate(43.82 333.65 333.18)">19</text><text x="342.23" y="344.23" transform="rotate(50.49 342.23 342.43)">20</text><text x="349.28" y="353.8" transform="rotate(56.77 349.28 352)">21</text><text x="354.71" y="363.07" transform="rotate(62.46 354.71 361.27)">22</text><text x="359.14" y="372.67" transform="rotate(68.04 359.14 370.87)">23</text><text x="362.23" y="381.4" transform="rotate(72.94 362.23 379.6)">24</text><text x="364.54" y="390.22" transform="rotate(77.76 364.54 388.42)">25</text><text x="365.96" y="398.19" transform="rotate(82.04 365.96 396.39)">26</text><text x="366.72" y="405.35" transform="rotate(85.85 366.72 403.55)">27</text><text x="366.99" y="411.78" transform="rotate(89.25 366.99 409.98)">28</text><text x="366.51" y="423.5" transform="rotate(-84.55 366.51 421.7)">Z</text><text x="151.41" y="429.35" transform="rotate(81.43 151.41 427.55)">1</text><text x="156.73" y="450.26" transform="rotate(70.01 156.73 448.46)">2</text><text x="165.59" y="468.88" transform="rotate(59.09 165.59 467.08)">3</text><text x="178.08" y="485.78" transform="rotate(47.97 178.08 483.98)">4</text><text x="193.81" y="500.11" transform="rotate(36.71 193.81 498.31)">5</text><text x="209.16" y="509.67" transform="rotate(27.13 209.16 507.87)">6</text><text x="225.49" y="516.42" transform="rotate(17.78 225.49 514.62)">7</text><text x="242.21" y="520.35" transform="rotate(8.7 242.21 518.55)">8</text><text x="258.71" y="521.6" transform="rotate(-0.06 258.71 519.8)">9</text><text x="273.1" y="520.63" transform="rotate(-7.69 273.1 518.83)">10</text><text x="287.82" y="517.59" transform="rotate(-15.64 287.82 515.79)">11</text><text x="301.35" y="512.81" transform="rotate(-23.23 301.35 511.01)">12</text><text x="313.23" y="506.83" transform="rotate(-30.26 313.23 505.03)">13</text><text x="324.15" y="499.53" transform="rotate(-37.21 324.15 497.73)">14</text><text x="334.68" y="490.42" transform="rotate(-44.57 334.68 488.62)">15</text><text x="342.58" y="481.74" transform="rotate(-50.78 342.58 479.94)">16</text><text x="349.96" y="471.54" transform="rotate(-57.44 349.96 469.74)">17</text><text x="354.94" y="462.89" transform="rotate(-62.72 354.94 461.09)">18</text><text x="362.01" y="445.7" transform="rotate(-72.55 362.01 443.9)">Z</text><path d="M143.03 405.7A115.6 115.6 0 1 1 373.06 426.64" fill="none" stroke="#00F800" stroke-width="3.5"/><path d="M367.8 448.79A115.6 115.6 0 0 1 143.84 425.84" fill="none" stroke="#1E88F5" stroke-width="3.5"/></g></g>
<g fill="none" stroke-width="1.3">
<path d="M6.9 7.5H505.8V541" stroke="#6f6a5e"/>
<path d="M6.9 7.5V541H505.8" stroke="#6e6d55"/>
<line x1="254.5" y1="7.5" x2="254.5" y2="278.4" stroke="#45403a"/>
<line x1="6.9" y1="278.4" x2="505.8" y2="278.4" stroke="#4a463a"/>
</g>
<g font-family="Liberation Sans, Arial, sans-serif" fill="#111">
<text x="15.3" y="25.2" font-size="12.5" font-weight="bold">a</text>
<text x="263.3" y="26.5" font-size="12.5" font-weight="bold">b</text>
<text x="174.6" y="297" font-size="12.5" font-weight="bold">c</text>
<g font-style="italic" font-size="8.7" fill="#1a1a1a">
<text x="210" y="44.2">E. ligea</text>
<text x="207" y="251.1">M. jurtina</text>
<text x="451.3" y="42.9">M. jurtina</text>
<text x="448" y="257.2">E. aethiops</text>
<text x="359.5" y="326.9" font-size="8.5">E. ligea</text>
<text x="350" y="510.8" font-size="8.6">E. aethiops</text>
</g></g>
</svg>
</body></html>
